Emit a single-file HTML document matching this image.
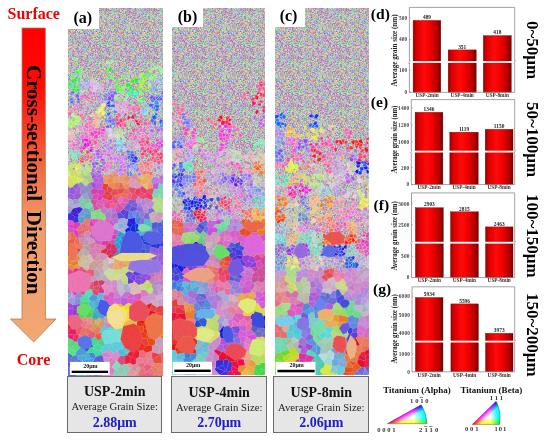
<!DOCTYPE html>
<html><head><meta charset="utf-8"><style>
html,body{margin:0;padding:0;background:#fff;}
body{width:550px;height:441px;position:relative;overflow:hidden;font-family:"Liberation Serif","Times New Roman",serif;}
.a{position:absolute;white-space:nowrap;line-height:1;}
.red{color:#ee0000;font-weight:bold;font-size:16px;}
.vert{writing-mode:vertical-rl;font-weight:bold;}
.box{position:absolute;background:#e6e6e6;border:1.2px solid #6a6a6a;box-sizing:border-box;text-align:center;}
.box .h{position:absolute;left:0;right:0;font-weight:bold;font-size:14px;color:#111;}
.box .g{position:absolute;left:0;right:0;font-size:10.7px;color:#222;}
.box .v{position:absolute;left:0;right:0;font-weight:bold;font-size:14px;color:#2020c8;}
.lbl{position:absolute;background:#fff;}
.lbl span{position:absolute;font-weight:bold;font-size:16px;line-height:1;}
svg text{font-family:"Liberation Serif","Times New Roman",serif;}
.t{font-size:5.3px;text-anchor:end;font-weight:bold;fill:#444;letter-spacing:0.15px;}
.v{font-size:5.4px;text-anchor:middle;font-weight:bold;fill:#222;}
.x{font-size:5.3px;text-anchor:middle;font-weight:bold;fill:#333;}
.yl{font-size:8px;font-weight:bold;fill:#222;}
.sl{font-size:4px;fill:#555;}
.ipf{font-size:6.6px;font-weight:bold;fill:#333;}
.tt{font-size:9px;font-weight:bold;fill:#111;}
.sb{font-size:6px;font-weight:bold;text-anchor:middle;fill:#111;}
</style></head><body>
<svg width="550" height="441" style="position:absolute;left:0;top:0">
<defs>
<linearGradient id="arr" x1="0" y1="28" x2="0" y2="342" gradientUnits="userSpaceOnUse">
<stop offset="0" stop-color="#ff0000"/><stop offset="0.18" stop-color="#ff0a05"/><stop offset="0.45" stop-color="#f36a40"/><stop offset="0.62" stop-color="#f09a68"/><stop offset="1" stop-color="#f2a874"/>
</linearGradient>
<linearGradient id="bg" x1="0" y1="0" x2="1" y2="0">
<stop offset="0" stop-color="#9a0000"/><stop offset="0.12" stop-color="#d80000"/><stop offset="0.4" stop-color="#ff0a0a"/><stop offset="0.6" stop-color="#f20000"/><stop offset="0.85" stop-color="#b80000"/><stop offset="1" stop-color="#7a0000"/>
</linearGradient>
<linearGradient id="ipfa" x1="0" y1="0" x2="1" y2="0"><stop offset="0" stop-color="#ff0000"/><stop offset="1" stop-color="#00ff00"/></linearGradient>
</defs>
<path d="M22 28 H45.4 V319 H56 L33.7 342 L10.5 319 H22 Z" fill="url(#arr)" stroke="#b87a52" stroke-width="0.8"/>
<rect x="413.1" y="20.4" width="27.7" height="71.9" fill="url(#bg)" stroke="#700000" stroke-width="0.35"/>
<text x="427.0" y="19.1" class="v">489</text>
<rect x="448.2" y="49.9" width="28.0" height="42.4" fill="url(#bg)" stroke="#700000" stroke-width="0.35"/>
<text x="462.2" y="48.6" class="v">351</text>
<rect x="483.3" y="35.6" width="28.0" height="56.7" fill="url(#bg)" stroke="#700000" stroke-width="0.35"/>
<text x="497.3" y="34.3" class="v">418</text>
<rect x="408.4" y="61.1" width="107.3" height="1.8" fill="#fff"/>
<path d="M409.4 7.4H514.7V61.1M514.7 62.9V92.3H409.4V62.9M409.4 61.1V7.4" fill="none" stroke="#8a8a8a" stroke-width="0.8"/>
<line x1="408.5" y1="63.6" x2="410.29999999999995" y2="60.4" stroke="#666" stroke-width="0.5"/>
<line x1="513.8000000000001" y1="63.6" x2="515.6" y2="60.4" stroke="#666" stroke-width="0.5"/>
<line x1="409.4" y1="17.9" x2="410.79999999999995" y2="17.9" stroke="#777" stroke-width="0.5"/>
<text x="407.4" y="19.7" class="t">500</text>
<line x1="409.4" y1="39.5" x2="410.79999999999995" y2="39.5" stroke="#777" stroke-width="0.5"/>
<text x="407.4" y="41.3" class="t">400</text>
<line x1="409.4" y1="70.3" x2="410.79999999999995" y2="70.3" stroke="#777" stroke-width="0.5"/>
<text x="407.4" y="72.1" class="t">100</text>
<line x1="409.4" y1="92.3" x2="410.79999999999995" y2="92.3" stroke="#777" stroke-width="0.5"/>
<text x="407.4" y="94.1" class="t">0</text>
<text x="427.0" y="97.0" class="x">USP-2min</text>
<text x="462.2" y="97.0" class="x">USP-4min</text>
<text x="497.3" y="97.0" class="x">USP-8min</text>
<text transform="translate(397 50.4) rotate(-90)" class="yl" x="-36.0" y="0" textLength="72" lengthAdjust="spacingAndGlyphs">Average grain size (nm)</text>
<rect x="415.1" y="112.3" width="27.8" height="72.3" fill="url(#bg)" stroke="#700000" stroke-width="0.35"/>
<text x="429.0" y="111.0" class="v">1346</text>
<rect x="449.8" y="132.2" width="28.4" height="52.4" fill="url(#bg)" stroke="#700000" stroke-width="0.35"/>
<text x="464.0" y="130.9" class="v">1119</text>
<rect x="485.2" y="129.3" width="27.8" height="55.3" fill="url(#bg)" stroke="#700000" stroke-width="0.35"/>
<text x="499.1" y="128.0" class="v">1150</text>
<rect x="410.3" y="150.7" width="105.4" height="1.8" fill="#fff"/>
<path d="M411.3 99.6H514.7V150.7M514.7 152.5V184.6H411.3V152.5M411.3 150.7V99.6" fill="none" stroke="#8a8a8a" stroke-width="0.8"/>
<line x1="410.40000000000003" y1="153.2" x2="412.2" y2="150.0" stroke="#666" stroke-width="0.5"/>
<line x1="513.8000000000001" y1="153.2" x2="515.6" y2="150.0" stroke="#666" stroke-width="0.5"/>
<line x1="411.3" y1="107.9" x2="412.7" y2="107.9" stroke="#777" stroke-width="0.5"/>
<text x="409.3" y="109.7" class="t">1400</text>
<line x1="411.3" y1="125" x2="412.7" y2="125" stroke="#777" stroke-width="0.5"/>
<text x="409.3" y="126.8" class="t">1200</text>
<line x1="411.3" y1="142" x2="412.7" y2="142" stroke="#777" stroke-width="0.5"/>
<text x="409.3" y="143.8" class="t">1000</text>
<line x1="411.3" y1="167.7" x2="412.7" y2="167.7" stroke="#777" stroke-width="0.5"/>
<text x="409.3" y="169.5" class="t">200</text>
<line x1="411.3" y1="184.6" x2="412.7" y2="184.6" stroke="#777" stroke-width="0.5"/>
<text x="409.3" y="186.4" class="t">0</text>
<text x="429.0" y="189.3" class="x">USP-2min</text>
<text x="464.0" y="189.3" class="x">USP-4min</text>
<text x="499.1" y="189.3" class="x">USP-8min</text>
<text transform="translate(397 139.5) rotate(-90)" class="yl" x="-33.7" y="0" textLength="67.4" lengthAdjust="spacingAndGlyphs">Average grain size (nm)</text>
<rect x="415.4" y="207.7" width="27.9" height="69.9" fill="url(#bg)" stroke="#700000" stroke-width="0.35"/>
<text x="429.4" y="206.4" class="v">2903</text>
<rect x="450.5" y="211.8" width="27.9" height="65.8" fill="url(#bg)" stroke="#700000" stroke-width="0.35"/>
<text x="464.4" y="210.5" class="v">2815</text>
<rect x="485.5" y="226.9" width="27.5" height="50.7" fill="url(#bg)" stroke="#700000" stroke-width="0.35"/>
<text x="499.2" y="225.6" class="v">2463</text>
<rect x="410.5" y="241.8" width="105.2" height="1.8" fill="#fff"/>
<path d="M411.5 192.9H514.7V241.8M514.7 243.6V277.6H411.5V243.6M411.5 241.8V192.9" fill="none" stroke="#8a8a8a" stroke-width="0.8"/>
<line x1="410.6" y1="244.3" x2="412.4" y2="241.1" stroke="#666" stroke-width="0.5"/>
<line x1="513.8000000000001" y1="244.3" x2="515.6" y2="241.1" stroke="#666" stroke-width="0.5"/>
<line x1="411.5" y1="203.8" x2="412.9" y2="203.8" stroke="#777" stroke-width="0.5"/>
<text x="409.5" y="205.6" class="t">3000</text>
<line x1="411.5" y1="224.7" x2="412.9" y2="224.7" stroke="#777" stroke-width="0.5"/>
<text x="409.5" y="226.5" class="t">2500</text>
<line x1="411.5" y1="256.4" x2="412.9" y2="256.4" stroke="#777" stroke-width="0.5"/>
<text x="409.5" y="258.2" class="t">500</text>
<line x1="411.5" y1="277.6" x2="412.9" y2="277.6" stroke="#777" stroke-width="0.5"/>
<text x="409.5" y="279.4" class="t">0</text>
<text x="429.4" y="282.3" class="x">USP-2min</text>
<text x="464.4" y="282.3" class="x">USP-4min</text>
<text x="499.2" y="282.3" class="x">USP-8min</text>
<text transform="translate(397 235.9) rotate(-90)" class="yl" x="-34.7" y="0" textLength="69.4" lengthAdjust="spacingAndGlyphs">Average grain size (nm)</text>
<rect x="415.4" y="297.5" width="27.6" height="74.3" fill="url(#bg)" stroke="#700000" stroke-width="0.35"/>
<text x="429.2" y="296.2" class="v">5934</text>
<rect x="450.9" y="303.9" width="27.5" height="67.9" fill="url(#bg)" stroke="#700000" stroke-width="0.35"/>
<text x="464.6" y="302.6" class="v">5596</text>
<rect x="485.5" y="333.3" width="27.5" height="38.5" fill="url(#bg)" stroke="#700000" stroke-width="0.35"/>
<text x="499.2" y="332.0" class="v">3973</text>
<rect x="411" y="340.7" width="104.7" height="1.8" fill="#fff"/>
<path d="M412 286.8H514.7V340.7M514.7 342.5V371.8H412V342.5M412 340.7V286.8" fill="none" stroke="#8a8a8a" stroke-width="0.8"/>
<line x1="411.1" y1="343.2" x2="412.9" y2="340.0" stroke="#666" stroke-width="0.5"/>
<line x1="513.8000000000001" y1="343.2" x2="515.6" y2="340.0" stroke="#666" stroke-width="0.5"/>
<line x1="412" y1="296.3" x2="413.4" y2="296.3" stroke="#777" stroke-width="0.5"/>
<text x="410.0" y="298.1" class="t">6000</text>
<line x1="412" y1="314.7" x2="413.4" y2="314.7" stroke="#777" stroke-width="0.5"/>
<text x="410.0" y="316.5" class="t">5000</text>
<line x1="412" y1="333.3" x2="413.4" y2="333.3" stroke="#777" stroke-width="0.5"/>
<text x="410.0" y="335.1" class="t">4000</text>
<line x1="412" y1="353.7" x2="413.4" y2="353.7" stroke="#777" stroke-width="0.5"/>
<text x="410.0" y="355.5" class="t">1000</text>
<line x1="412" y1="371.8" x2="413.4" y2="371.8" stroke="#777" stroke-width="0.5"/>
<text x="410.0" y="373.6" class="t">0</text>
<text x="429.2" y="376.6" class="x">USP-2min</text>
<text x="464.6" y="376.6" class="x">USP-4min</text>
<text x="499.2" y="376.6" class="x">USP-8min</text>
<text transform="translate(397 328.9) rotate(-90)" class="yl" x="-34.7" y="0" textLength="69.4" lengthAdjust="spacingAndGlyphs">Average grain size (nm)</text>
</svg>
<svg width="550" height="441" style="position:absolute;left:0;top:0;filter:blur(0.45px)">
<defs><pattern id="nz" width="48" height="48" patternUnits="userSpaceOnUse"><path d="M0 0h1v1h-1zM29 0h1v1h-1zM28 1h1v1h-1zM10 2h1v1h-1zM19 2h1v1h-1zM24 3h1v1h-1zM45 3h1v1h-1zM40 6h1v1h-1zM20 7h1v1h-1zM42 7h1v1h-1zM3 8h1v1h-1zM7 8h1v1h-1zM1 9h1v1h-1zM42 9h1v1h-1zM37 10h1v1h-1zM45 10h1v1h-1zM14 13h1v1h-1zM47 13h1v1h-1zM15 19h1v1h-1zM18 19h1v1h-1zM31 20h1v1h-1zM32 21h1v1h-1zM36 21h1v1h-1zM1 23h1v1h-1zM28 23h1v1h-1zM27 25h1v1h-1zM4 27h1v1h-1zM6 28h1v1h-1zM29 28h1v1h-1zM7 30h1v1h-1zM40 31h1v1h-1zM36 32h1v1h-1zM17 34h1v1h-1zM39 34h1v1h-1zM40 34h1v1h-1zM43 38h1v1h-1zM41 39h1v1h-1zM8 43h1v1h-1zM32 43h1v1h-1zM1 44h1v1h-1zM13 44h1v1h-1zM42 44h1v1h-1zM25 46h1v1h-1zM0 47h1v1h-1z" fill="#89d"/><path d="M1 0h1v1h-1zM44 0h1v1h-1zM1 1h1v1h-1zM5 1h1v1h-1zM21 1h1v1h-1zM35 1h1v1h-1zM25 2h1v1h-1zM3 4h1v1h-1zM12 6h1v1h-1zM28 8h1v1h-1zM7 9h1v1h-1zM11 9h1v1h-1zM30 9h1v1h-1zM32 10h1v1h-1zM39 10h1v1h-1zM30 12h1v1h-1zM40 13h1v1h-1zM12 15h1v1h-1zM26 15h1v1h-1zM32 16h1v1h-1zM37 20h1v1h-1zM42 20h1v1h-1zM26 21h1v1h-1zM45 21h1v1h-1zM9 22h1v1h-1zM14 22h1v1h-1zM39 23h1v1h-1zM1 24h1v1h-1zM19 25h1v1h-1zM23 29h1v1h-1zM39 29h1v1h-1zM19 32h1v1h-1zM35 32h1v1h-1zM10 35h1v1h-1zM22 35h1v1h-1zM31 36h1v1h-1zM37 36h1v1h-1zM8 37h1v1h-1zM46 37h1v1h-1zM29 38h1v1h-1zM31 43h1v1h-1zM34 43h1v1h-1zM8 45h1v1h-1zM31 45h1v1h-1zM28 46h1v1h-1zM14 47h1v1h-1z" fill="#d88"/><path d="M2 0h1v1h-1zM33 0h1v1h-1zM46 0h1v1h-1zM40 1h1v1h-1zM2 6h1v1h-1zM25 7h1v1h-1zM27 8h1v1h-1zM31 8h1v1h-1zM5 9h1v1h-1zM34 11h1v1h-1zM36 14h1v1h-1zM37 15h1v1h-1zM41 17h1v1h-1zM42 17h1v1h-1zM32 19h1v1h-1zM41 20h1v1h-1zM17 22h1v1h-1zM11 24h1v1h-1zM17 24h1v1h-1zM1 25h1v1h-1zM46 25h1v1h-1zM42 26h1v1h-1zM34 27h1v1h-1zM1 29h1v1h-1zM28 29h1v1h-1zM18 30h1v1h-1zM6 31h1v1h-1zM26 32h1v1h-1zM27 35h1v1h-1zM33 37h1v1h-1zM5 39h1v1h-1zM37 39h1v1h-1zM32 41h1v1h-1zM38 41h1v1h-1zM16 43h1v1h-1zM22 45h1v1h-1zM40 46h1v1h-1zM29 47h1v1h-1z" fill="#a8d"/><path d="M3 0h1v1h-1zM12 1h1v1h-1zM3 7h1v1h-1zM5 18h1v1h-1zM28 21h1v1h-1zM29 22h1v1h-1zM15 31h1v1h-1zM36 33h1v1h-1zM37 33h1v1h-1zM44 33h1v1h-1zM0 39h1v1h-1zM24 39h1v1h-1zM40 47h1v1h-1z" fill="#78d"/><path d="M4 0h1v1h-1zM34 0h1v1h-1zM1 26h1v1h-1zM26 33h1v1h-1zM34 40h1v1h-1z" fill="#9ca"/><path d="M5 0h1v1h-1zM43 4h1v1h-1zM17 5h1v1h-1zM41 10h1v1h-1zM44 13h1v1h-1zM14 14h1v1h-1zM34 15h1v1h-1zM25 18h1v1h-1zM26 18h1v1h-1zM28 25h1v1h-1zM42 27h1v1h-1zM9 28h1v1h-1zM42 32h1v1h-1zM15 35h1v1h-1zM11 37h1v1h-1zM18 37h1v1h-1zM32 37h1v1h-1zM3 39h1v1h-1zM16 39h1v1h-1zM32 40h1v1h-1zM37 42h1v1h-1zM22 43h1v1h-1zM39 43h1v1h-1zM24 46h1v1h-1zM24 47h1v1h-1z" fill="#dab"/><path d="M6 0h1v1h-1zM38 4h1v1h-1zM12 11h1v1h-1zM29 14h1v1h-1zM36 16h1v1h-1zM25 17h1v1h-1zM20 23h1v1h-1zM23 23h1v1h-1zM41 24h1v1h-1zM19 28h1v1h-1zM37 28h1v1h-1zM1 32h1v1h-1zM14 40h1v1h-1zM14 43h1v1h-1zM22 44h1v1h-1zM17 47h1v1h-1z" fill="#db8"/><path d="M7 0h1v1h-1zM0 1h1v1h-1zM33 2h1v1h-1zM12 4h1v1h-1zM16 12h1v1h-1zM47 16h1v1h-1zM6 22h1v1h-1zM9 27h1v1h-1zM25 27h1v1h-1zM26 28h1v1h-1zM35 35h1v1h-1zM4 38h1v1h-1zM23 43h1v1h-1z" fill="#dbd"/><path d="M8 0h1v1h-1zM36 17h1v1h-1zM19 19h1v1h-1zM35 23h1v1h-1zM31 25h1v1h-1zM37 34h1v1h-1z" fill="#dcd"/><path d="M9 0h1v1h-1zM10 1h1v1h-1zM30 3h1v1h-1zM11 4h1v1h-1zM44 5h1v1h-1zM47 6h1v1h-1zM44 7h1v1h-1zM35 12h1v1h-1zM38 15h1v1h-1zM24 19h1v1h-1zM9 25h1v1h-1zM36 34h1v1h-1zM22 36h1v1h-1zM4 37h1v1h-1zM12 47h1v1h-1z" fill="#a7d"/><path d="M10 0h1v1h-1zM0 10h1v1h-1zM9 24h1v1h-1zM9 35h1v1h-1z" fill="#d7d"/><path d="M11 0h1v1h-1zM23 0h1v1h-1zM29 1h1v1h-1zM30 1h1v1h-1zM43 2h1v1h-1zM12 3h1v1h-1zM18 5h1v1h-1zM26 5h1v1h-1zM43 5h1v1h-1zM13 7h1v1h-1zM5 8h1v1h-1zM1 10h1v1h-1zM15 10h1v1h-1zM20 11h1v1h-1zM21 11h1v1h-1zM29 11h1v1h-1zM38 11h1v1h-1zM2 12h1v1h-1zM8 12h1v1h-1zM37 12h1v1h-1zM8 14h1v1h-1zM43 15h1v1h-1zM10 16h1v1h-1zM28 16h1v1h-1zM16 17h1v1h-1zM19 18h1v1h-1zM18 22h1v1h-1zM36 22h1v1h-1zM2 23h1v1h-1zM18 23h1v1h-1zM26 24h1v1h-1zM18 25h1v1h-1zM26 25h1v1h-1zM18 26h1v1h-1zM23 27h1v1h-1zM8 28h1v1h-1zM31 31h1v1h-1zM20 32h1v1h-1zM38 32h1v1h-1zM44 38h1v1h-1zM19 39h1v1h-1zM13 41h1v1h-1zM34 41h1v1h-1zM19 42h1v1h-1zM30 42h1v1h-1zM40 42h1v1h-1zM1 46h1v1h-1zM14 46h1v1h-1zM4 47h1v1h-1zM9 47h1v1h-1zM34 47h1v1h-1zM35 47h1v1h-1z" fill="#d89"/><path d="M12 0h1v1h-1zM32 2h1v1h-1zM18 6h1v1h-1zM6 9h1v1h-1zM44 10h1v1h-1zM20 13h1v1h-1zM1 14h1v1h-1zM0 16h1v1h-1zM9 18h1v1h-1zM39 18h1v1h-1zM47 19h1v1h-1zM27 20h1v1h-1zM39 20h1v1h-1zM16 22h1v1h-1zM27 23h1v1h-1zM47 23h1v1h-1zM2 27h1v1h-1zM47 27h1v1h-1zM26 29h1v1h-1zM30 32h1v1h-1zM31 33h1v1h-1zM41 33h1v1h-1zM30 36h1v1h-1zM26 37h1v1h-1zM38 37h1v1h-1zM3 38h1v1h-1zM28 39h1v1h-1zM3 41h1v1h-1zM20 43h1v1h-1zM0 44h1v1h-1zM4 44h1v1h-1zM47 44h1v1h-1zM3 45h1v1h-1zM8 47h1v1h-1z" fill="#8ad"/><path d="M13 0h1v1h-1zM3 9h1v1h-1zM38 14h1v1h-1zM42 19h1v1h-1zM0 33h1v1h-1zM42 33h1v1h-1zM1 34h1v1h-1z" fill="#bdc"/><path d="M14 0h1v1h-1zM24 2h1v1h-1zM17 4h1v1h-1zM1 6h1v1h-1zM11 6h1v1h-1zM23 7h1v1h-1zM28 11h1v1h-1zM15 12h1v1h-1zM41 12h1v1h-1zM17 16h1v1h-1zM24 18h1v1h-1zM5 20h1v1h-1zM26 20h1v1h-1zM47 20h1v1h-1zM12 23h1v1h-1zM20 24h1v1h-1zM31 24h1v1h-1zM44 29h1v1h-1zM22 33h1v1h-1zM16 34h1v1h-1zM30 37h1v1h-1zM12 42h1v1h-1zM26 42h1v1h-1zM36 42h1v1h-1zM9 44h1v1h-1zM26 46h1v1h-1zM31 46h1v1h-1z" fill="#ad9"/><path d="M15 0h1v1h-1zM31 16h1v1h-1zM6 19h1v1h-1zM16 19h1v1h-1zM44 20h1v1h-1zM39 21h1v1h-1zM21 24h1v1h-1zM0 26h1v1h-1zM31 27h1v1h-1zM40 28h1v1h-1zM23 30h1v1h-1zM47 31h1v1h-1zM47 32h1v1h-1zM47 33h1v1h-1zM11 34h1v1h-1zM5 35h1v1h-1zM24 38h1v1h-1zM23 40h1v1h-1zM32 45h1v1h-1z" fill="#ad8"/><path d="M16 0h1v1h-1zM22 1h1v1h-1zM3 2h1v1h-1zM46 3h1v1h-1zM6 4h1v1h-1zM35 5h1v1h-1zM36 6h1v1h-1zM47 7h1v1h-1zM44 8h1v1h-1zM9 10h1v1h-1zM11 10h1v1h-1zM17 14h1v1h-1zM11 17h1v1h-1zM40 17h1v1h-1zM8 18h1v1h-1zM22 20h1v1h-1zM35 20h1v1h-1zM3 22h1v1h-1zM8 22h1v1h-1zM11 23h1v1h-1zM44 23h1v1h-1zM42 24h1v1h-1zM5 26h1v1h-1zM45 27h1v1h-1zM13 28h1v1h-1zM25 29h1v1h-1zM7 33h1v1h-1zM5 34h1v1h-1zM18 34h1v1h-1zM28 35h1v1h-1zM38 35h1v1h-1zM33 36h1v1h-1zM8 38h1v1h-1zM20 38h1v1h-1zM45 40h1v1h-1zM1 41h1v1h-1zM27 41h1v1h-1zM29 42h1v1h-1zM12 43h1v1h-1zM19 47h1v1h-1z" fill="#d99"/><path d="M17 0h1v1h-1zM12 13h1v1h-1zM46 17h1v1h-1zM18 24h1v1h-1zM47 25h1v1h-1z" fill="#8c8"/><path d="M18 0h1v1h-1zM29 2h1v1h-1zM38 3h1v1h-1zM34 6h1v1h-1zM29 7h1v1h-1zM35 8h1v1h-1zM22 9h1v1h-1zM12 12h1v1h-1zM43 13h1v1h-1zM1 18h1v1h-1zM35 18h1v1h-1zM28 19h1v1h-1zM25 22h1v1h-1zM15 24h1v1h-1zM2 26h1v1h-1zM20 26h1v1h-1zM25 28h1v1h-1zM26 31h1v1h-1zM46 31h1v1h-1zM12 36h1v1h-1zM21 37h1v1h-1zM34 39h1v1h-1zM29 40h1v1h-1zM11 42h1v1h-1zM0 43h1v1h-1z" fill="#b9d"/><path d="M19 0h1v1h-1zM3 3h1v1h-1zM22 5h1v1h-1zM35 6h1v1h-1zM45 6h1v1h-1zM46 7h1v1h-1zM0 12h1v1h-1zM19 15h1v1h-1zM45 15h1v1h-1zM14 17h1v1h-1zM19 20h1v1h-1zM30 21h1v1h-1zM13 22h1v1h-1zM20 25h1v1h-1zM24 31h1v1h-1zM23 32h1v1h-1zM21 33h1v1h-1zM2 34h1v1h-1zM44 35h1v1h-1zM19 36h1v1h-1zM44 39h1v1h-1zM25 41h1v1h-1zM39 42h1v1h-1zM13 43h1v1h-1zM26 43h1v1h-1zM26 44h1v1h-1zM7 45h1v1h-1zM33 45h1v1h-1zM32 47h1v1h-1z" fill="#9d8"/><path d="M20 0h1v1h-1zM14 2h1v1h-1zM18 2h1v1h-1zM43 3h1v1h-1zM35 4h1v1h-1zM20 5h1v1h-1zM0 6h1v1h-1zM9 7h1v1h-1zM12 8h1v1h-1zM17 8h1v1h-1zM14 12h1v1h-1zM28 13h1v1h-1zM18 15h1v1h-1zM21 15h1v1h-1zM22 19h1v1h-1zM40 19h1v1h-1zM11 20h1v1h-1zM42 21h1v1h-1zM34 24h1v1h-1zM25 26h1v1h-1zM30 28h1v1h-1zM2 32h1v1h-1zM12 32h1v1h-1zM20 35h1v1h-1zM30 35h1v1h-1zM16 37h1v1h-1zM22 40h1v1h-1zM31 40h1v1h-1zM0 41h1v1h-1zM5 41h1v1h-1zM6 41h1v1h-1zM22 41h1v1h-1zM5 42h1v1h-1zM44 44h1v1h-1zM13 46h1v1h-1zM38 46h1v1h-1z" fill="#8d9"/><path d="M21 0h1v1h-1zM34 1h1v1h-1zM29 4h1v1h-1zM32 5h1v1h-1zM23 9h1v1h-1zM23 12h1v1h-1zM46 12h1v1h-1zM3 17h1v1h-1zM0 18h1v1h-1zM14 18h1v1h-1zM27 18h1v1h-1zM42 25h1v1h-1zM19 27h1v1h-1zM38 29h1v1h-1zM9 30h1v1h-1zM4 31h1v1h-1zM19 33h1v1h-1zM37 41h1v1h-1zM21 42h1v1h-1zM43 47h1v1h-1z" fill="#da9"/><path d="M22 0h1v1h-1zM47 2h1v1h-1zM10 9h1v1h-1zM23 15h1v1h-1zM38 18h1v1h-1zM7 21h1v1h-1zM34 28h1v1h-1zM45 28h1v1h-1zM4 29h1v1h-1zM25 32h1v1h-1zM45 32h1v1h-1zM37 35h1v1h-1zM36 37h1v1h-1zM46 41h1v1h-1zM0 42h1v1h-1z" fill="#d79"/><path d="M24 0h1v1h-1zM13 18h1v1h-1zM11 19h1v1h-1zM24 20h1v1h-1zM46 22h1v1h-1zM15 28h1v1h-1zM12 29h1v1h-1zM32 36h1v1h-1z" fill="#add"/><path d="M25 0h1v1h-1zM42 3h1v1h-1zM16 4h1v1h-1zM47 5h1v1h-1zM28 10h1v1h-1zM43 12h1v1h-1zM29 15h1v1h-1zM3 16h1v1h-1zM12 19h1v1h-1zM17 19h1v1h-1zM47 21h1v1h-1zM25 23h1v1h-1zM45 25h1v1h-1zM17 29h1v1h-1zM2 30h1v1h-1zM46 30h1v1h-1zM14 32h1v1h-1zM40 37h1v1h-1zM25 45h1v1h-1zM21 47h1v1h-1z" fill="#bda"/><path d="M26 0h1v1h-1zM40 0h1v1h-1zM21 6h1v1h-1zM8 7h1v1h-1zM28 7h1v1h-1zM2 8h1v1h-1zM32 9h1v1h-1zM47 9h1v1h-1zM13 15h1v1h-1zM24 15h1v1h-1zM16 16h1v1h-1zM2 22h1v1h-1zM40 22h1v1h-1zM13 25h1v1h-1zM36 25h1v1h-1zM8 26h1v1h-1zM22 26h1v1h-1zM15 33h1v1h-1zM25 34h1v1h-1zM47 35h1v1h-1zM36 36h1v1h-1zM7 39h1v1h-1zM3 42h1v1h-1zM34 44h1v1h-1z" fill="#dac"/><path d="M27 0h1v1h-1zM10 3h1v1h-1zM13 4h1v1h-1zM12 5h1v1h-1zM23 14h1v1h-1zM39 14h1v1h-1zM32 17h1v1h-1zM40 20h1v1h-1zM40 21h1v1h-1zM37 24h1v1h-1zM34 29h1v1h-1z" fill="#d7b"/><path d="M28 0h1v1h-1zM33 3h1v1h-1zM13 6h1v1h-1zM20 8h1v1h-1zM39 8h1v1h-1zM10 10h1v1h-1zM32 14h1v1h-1zM46 23h1v1h-1zM28 30h1v1h-1zM3 32h1v1h-1zM13 36h1v1h-1zM12 37h1v1h-1zM6 39h1v1h-1zM9 41h1v1h-1zM11 41h1v1h-1zM24 41h1v1h-1zM40 41h1v1h-1zM30 44h1v1h-1zM19 45h1v1h-1zM41 45h1v1h-1z" fill="#97d"/><path d="M30 0h1v1h-1zM1 3h1v1h-1zM17 3h1v1h-1zM13 5h1v1h-1zM45 5h1v1h-1zM26 8h1v1h-1zM33 11h1v1h-1zM29 13h1v1h-1zM2 14h1v1h-1zM16 15h1v1h-1zM5 16h1v1h-1zM20 20h1v1h-1zM16 24h1v1h-1zM5 25h1v1h-1zM44 25h1v1h-1zM29 26h1v1h-1zM16 27h1v1h-1zM8 31h1v1h-1zM33 33h1v1h-1zM14 34h1v1h-1zM14 35h1v1h-1zM23 36h1v1h-1zM31 37h1v1h-1zM43 37h1v1h-1zM3 40h1v1h-1zM19 44h1v1h-1zM37 44h1v1h-1z" fill="#99d"/><path d="M31 0h1v1h-1zM20 2h1v1h-1zM46 4h1v1h-1zM36 7h1v1h-1zM9 15h1v1h-1zM25 19h1v1h-1zM30 22h1v1h-1zM26 26h1v1h-1zM15 29h1v1h-1zM40 30h1v1h-1zM44 30h1v1h-1zM39 36h1v1h-1zM16 41h1v1h-1zM27 47h1v1h-1z" fill="#9dc"/><path d="M32 0h1v1h-1zM15 2h1v1h-1zM19 7h1v1h-1zM14 8h1v1h-1zM41 13h1v1h-1zM3 21h1v1h-1zM33 23h1v1h-1zM4 25h1v1h-1zM30 31h1v1h-1zM1 45h1v1h-1z" fill="#dcb"/><path d="M35 0h1v1h-1zM46 1h1v1h-1zM38 5h1v1h-1zM23 13h1v1h-1zM20 15h1v1h-1zM31 18h1v1h-1zM45 22h1v1h-1zM10 32h1v1h-1zM10 33h1v1h-1zM29 33h1v1h-1zM40 33h1v1h-1zM13 39h1v1h-1zM0 40h1v1h-1zM15 42h1v1h-1zM18 42h1v1h-1zM11 45h1v1h-1z" fill="#cda"/><path d="M36 0h1v1h-1zM29 6h1v1h-1zM16 7h1v1h-1zM30 8h1v1h-1zM46 8h1v1h-1zM6 11h1v1h-1zM20 12h1v1h-1zM27 19h1v1h-1zM39 19h1v1h-1zM13 20h1v1h-1zM35 24h1v1h-1zM15 36h1v1h-1zM39 37h1v1h-1zM31 41h1v1h-1zM21 44h1v1h-1zM22 46h1v1h-1zM27 46h1v1h-1z" fill="#cbd"/><path d="M37 0h1v1h-1zM4 1h1v1h-1zM20 1h1v1h-1zM7 7h1v1h-1zM45 7h1v1h-1zM0 8h1v1h-1zM23 8h1v1h-1zM16 10h1v1h-1zM22 11h1v1h-1zM39 11h1v1h-1zM1 12h1v1h-1zM18 12h1v1h-1zM5 19h1v1h-1zM15 20h1v1h-1zM10 21h1v1h-1zM18 21h1v1h-1zM29 23h1v1h-1zM38 23h1v1h-1zM10 25h1v1h-1zM20 29h1v1h-1zM31 29h1v1h-1zM0 30h1v1h-1zM37 31h1v1h-1zM6 35h1v1h-1zM23 37h1v1h-1zM24 43h1v1h-1z" fill="#8bd"/><path d="M38 0h1v1h-1zM16 9h1v1h-1zM10 14h1v1h-1zM43 17h1v1h-1zM23 18h1v1h-1zM8 25h1v1h-1zM25 37h1v1h-1zM30 39h1v1h-1z" fill="#7da"/><path d="M39 0h1v1h-1zM39 1h1v1h-1zM37 2h1v1h-1zM14 3h1v1h-1zM10 6h1v1h-1zM14 6h1v1h-1zM17 7h1v1h-1zM18 7h1v1h-1zM22 7h1v1h-1zM31 7h1v1h-1zM41 7h1v1h-1zM24 8h1v1h-1zM31 10h1v1h-1zM10 11h1v1h-1zM14 11h1v1h-1zM22 14h1v1h-1zM19 16h1v1h-1zM28 18h1v1h-1zM30 19h1v1h-1zM35 22h1v1h-1zM13 23h1v1h-1zM19 23h1v1h-1zM41 25h1v1h-1zM38 31h1v1h-1zM45 31h1v1h-1zM17 32h1v1h-1zM20 33h1v1h-1zM43 35h1v1h-1zM0 36h1v1h-1zM28 37h1v1h-1zM9 40h1v1h-1zM46 43h1v1h-1zM23 44h1v1h-1zM40 45h1v1h-1z" fill="#9ad"/><path d="M41 0h1v1h-1zM35 7h1v1h-1zM34 19h1v1h-1zM4 20h1v1h-1zM33 25h1v1h-1zM36 29h1v1h-1zM16 47h1v1h-1z" fill="#cd8"/><path d="M42 0h1v1h-1zM9 5h1v1h-1zM38 6h1v1h-1zM36 9h1v1h-1zM44 11h1v1h-1zM18 13h1v1h-1zM42 13h1v1h-1zM11 15h1v1h-1zM41 15h1v1h-1zM2 16h1v1h-1zM10 18h1v1h-1zM19 21h1v1h-1zM29 21h1v1h-1zM21 23h1v1h-1zM24 23h1v1h-1zM32 25h1v1h-1zM21 26h1v1h-1zM43 26h1v1h-1zM33 28h1v1h-1zM15 30h1v1h-1zM39 35h1v1h-1zM44 40h1v1h-1zM14 42h1v1h-1zM32 44h1v1h-1z" fill="#8da"/><path d="M43 0h1v1h-1zM13 1h1v1h-1zM36 2h1v1h-1zM21 4h1v1h-1zM11 5h1v1h-1zM17 6h1v1h-1zM37 6h1v1h-1zM44 9h1v1h-1zM43 10h1v1h-1zM40 12h1v1h-1zM46 15h1v1h-1zM22 17h1v1h-1zM34 20h1v1h-1zM16 21h1v1h-1zM22 22h1v1h-1zM22 28h1v1h-1zM9 32h1v1h-1zM35 37h1v1h-1zM46 39h1v1h-1zM21 40h1v1h-1zM36 41h1v1h-1zM27 42h1v1h-1zM45 44h1v1h-1zM44 46h1v1h-1zM42 47h1v1h-1zM47 47h1v1h-1z" fill="#aad"/><path d="M45 0h1v1h-1zM21 2h1v1h-1zM13 3h1v1h-1zM7 4h1v1h-1zM32 4h1v1h-1zM2 5h1v1h-1zM19 5h1v1h-1zM19 6h1v1h-1zM25 8h1v1h-1zM0 9h1v1h-1zM2 9h1v1h-1zM13 10h1v1h-1zM33 10h1v1h-1zM19 11h1v1h-1zM34 12h1v1h-1zM15 13h1v1h-1zM5 14h1v1h-1zM3 20h1v1h-1zM20 21h1v1h-1zM6 25h1v1h-1zM3 27h1v1h-1zM1 33h1v1h-1zM24 33h1v1h-1zM26 35h1v1h-1zM38 36h1v1h-1zM10 38h1v1h-1zM36 38h1v1h-1zM43 40h1v1h-1z" fill="#d8a"/><path d="M47 0h1v1h-1zM10 4h1v1h-1zM23 6h1v1h-1zM0 7h1v1h-1zM33 7h1v1h-1zM15 8h1v1h-1zM0 11h1v1h-1zM35 11h1v1h-1zM41 14h1v1h-1zM33 18h1v1h-1zM25 21h1v1h-1zM25 25h1v1h-1zM36 28h1v1h-1zM21 32h1v1h-1z" fill="#bbd"/><path d="M2 1h1v1h-1zM39 3h1v1h-1zM24 5h1v1h-1zM8 6h1v1h-1zM22 12h1v1h-1zM27 14h1v1h-1zM46 14h1v1h-1zM44 19h1v1h-1zM13 21h1v1h-1zM1 27h1v1h-1zM10 27h1v1h-1zM2 29h1v1h-1zM24 35h1v1h-1zM9 38h1v1h-1zM41 38h1v1h-1zM36 40h1v1h-1zM43 43h1v1h-1zM21 45h1v1h-1zM39 45h1v1h-1zM9 46h1v1h-1z" fill="#d8c"/><path d="M3 1h1v1h-1zM17 2h1v1h-1zM23 10h1v1h-1zM11 11h1v1h-1zM9 12h1v1h-1zM47 12h1v1h-1zM28 20h1v1h-1zM40 23h1v1h-1zM43 27h1v1h-1zM45 29h1v1h-1zM4 30h1v1h-1zM41 36h1v1h-1zM38 38h1v1h-1zM24 42h1v1h-1zM37 43h1v1h-1zM2 44h1v1h-1zM35 46h1v1h-1z" fill="#c8d"/><path d="M6 1h1v1h-1zM18 1h1v1h-1zM26 1h1v1h-1zM40 3h1v1h-1zM28 6h1v1h-1zM16 14h1v1h-1zM3 15h1v1h-1zM35 15h1v1h-1zM40 16h1v1h-1zM15 18h1v1h-1zM27 24h1v1h-1zM30 30h1v1h-1zM33 31h1v1h-1zM38 34h1v1h-1zM5 38h1v1h-1zM21 43h1v1h-1zM20 44h1v1h-1z" fill="#cdb"/><path d="M7 1h1v1h-1zM26 2h1v1h-1zM27 4h1v1h-1zM5 5h1v1h-1zM39 5h1v1h-1zM44 12h1v1h-1zM10 13h1v1h-1zM10 17h1v1h-1zM17 21h1v1h-1zM33 22h1v1h-1zM32 27h1v1h-1zM47 29h1v1h-1zM22 30h1v1h-1zM46 32h1v1h-1zM20 36h1v1h-1zM4 39h1v1h-1zM29 43h1v1h-1zM37 45h1v1h-1z" fill="#bd9"/><path d="M8 1h1v1h-1zM11 1h1v1h-1zM1 2h1v1h-1zM31 5h1v1h-1zM5 11h1v1h-1zM35 13h1v1h-1zM24 17h1v1h-1zM37 18h1v1h-1zM1 22h1v1h-1zM4 23h1v1h-1zM23 24h1v1h-1zM24 25h1v1h-1zM44 34h1v1h-1zM8 36h1v1h-1zM9 39h1v1h-1zM20 39h1v1h-1zM47 41h1v1h-1zM27 43h1v1h-1zM47 43h1v1h-1zM16 45h1v1h-1zM44 47h1v1h-1z" fill="#d9c"/><path d="M9 1h1v1h-1zM14 1h1v1h-1zM31 1h1v1h-1zM22 3h1v1h-1zM34 4h1v1h-1zM37 4h1v1h-1zM15 5h1v1h-1zM2 15h1v1h-1zM32 20h1v1h-1zM1 21h1v1h-1zM33 24h1v1h-1zM12 27h1v1h-1zM6 33h1v1h-1zM17 33h1v1h-1zM46 33h1v1h-1zM42 34h1v1h-1zM0 35h1v1h-1zM47 36h1v1h-1zM47 42h1v1h-1zM18 46h1v1h-1z" fill="#dba"/><path d="M15 1h1v1h-1zM45 2h1v1h-1zM28 4h1v1h-1zM14 5h1v1h-1zM32 6h1v1h-1zM14 9h1v1h-1zM28 9h1v1h-1zM7 12h1v1h-1zM11 12h1v1h-1zM25 13h1v1h-1zM3 14h1v1h-1zM7 16h1v1h-1zM29 16h1v1h-1zM2 17h1v1h-1zM6 18h1v1h-1zM9 21h1v1h-1zM38 21h1v1h-1zM0 22h1v1h-1zM5 22h1v1h-1zM39 24h1v1h-1zM47 24h1v1h-1zM36 27h1v1h-1zM11 31h1v1h-1zM0 34h1v1h-1zM47 38h1v1h-1zM26 39h1v1h-1zM8 42h1v1h-1zM35 42h1v1h-1zM6 44h1v1h-1zM6 45h1v1h-1zM10 45h1v1h-1zM13 45h1v1h-1zM47 45h1v1h-1zM32 46h1v1h-1z" fill="#ada"/><path d="M16 1h1v1h-1zM32 1h1v1h-1zM44 1h1v1h-1zM35 2h1v1h-1zM24 4h1v1h-1zM39 4h1v1h-1zM1 8h1v1h-1zM40 9h1v1h-1zM39 22h1v1h-1zM0 27h1v1h-1zM30 27h1v1h-1zM43 28h1v1h-1zM20 30h1v1h-1zM14 31h1v1h-1zM13 32h1v1h-1zM17 36h1v1h-1zM42 37h1v1h-1zM2 38h1v1h-1zM24 40h1v1h-1zM24 45h1v1h-1z" fill="#d9b"/><path d="M17 1h1v1h-1zM29 3h1v1h-1zM9 9h1v1h-1zM33 9h1v1h-1zM31 11h1v1h-1zM23 16h1v1h-1zM18 17h1v1h-1zM26 27h1v1h-1zM3 37h1v1h-1zM31 38h1v1h-1zM38 40h1v1h-1zM10 46h1v1h-1z" fill="#c7d"/><path d="M19 1h1v1h-1zM27 1h1v1h-1zM42 2h1v1h-1zM45 9h1v1h-1zM46 9h1v1h-1zM32 13h1v1h-1zM46 13h1v1h-1zM33 15h1v1h-1zM30 16h1v1h-1zM38 16h1v1h-1zM15 17h1v1h-1zM12 18h1v1h-1zM31 22h1v1h-1zM32 23h1v1h-1zM43 23h1v1h-1zM34 25h1v1h-1zM21 29h1v1h-1zM1 31h1v1h-1zM10 31h1v1h-1zM25 31h1v1h-1zM34 34h1v1h-1zM21 36h1v1h-1zM37 37h1v1h-1zM7 40h1v1h-1zM10 42h1v1h-1zM7 44h1v1h-1zM1 47h1v1h-1z" fill="#daa"/><path d="M23 1h1v1h-1zM19 4h1v1h-1zM16 6h1v1h-1zM39 6h1v1h-1zM37 7h1v1h-1zM21 8h1v1h-1zM4 19h1v1h-1zM45 19h1v1h-1zM34 31h1v1h-1zM30 34h1v1h-1zM46 38h1v1h-1zM4 40h1v1h-1zM1 43h1v1h-1zM45 43h1v1h-1z" fill="#dc8"/><path d="M24 1h1v1h-1zM38 1h1v1h-1zM27 3h1v1h-1zM30 4h1v1h-1zM30 6h1v1h-1zM16 8h1v1h-1zM21 10h1v1h-1zM2 11h1v1h-1zM36 19h1v1h-1zM41 21h1v1h-1zM14 23h1v1h-1zM35 26h1v1h-1zM11 27h1v1h-1zM40 27h1v1h-1zM13 31h1v1h-1zM12 38h1v1h-1zM30 38h1v1h-1zM12 39h1v1h-1zM41 40h1v1h-1zM2 41h1v1h-1zM44 41h1v1h-1zM17 43h1v1h-1zM36 44h1v1h-1z" fill="#a9d"/><path d="M25 1h1v1h-1zM1 13h1v1h-1zM10 15h1v1h-1zM45 30h1v1h-1zM18 36h1v1h-1zM25 39h1v1h-1zM15 46h1v1h-1z" fill="#7d9"/><path d="M33 1h1v1h-1zM23 5h1v1h-1zM6 8h1v1h-1zM13 11h1v1h-1zM19 14h1v1h-1zM25 20h1v1h-1zM0 23h1v1h-1zM27 27h1v1h-1zM39 31h1v1h-1zM37 32h1v1h-1zM33 35h1v1h-1zM3 36h1v1h-1zM14 38h1v1h-1zM45 42h1v1h-1zM5 43h1v1h-1zM36 45h1v1h-1z" fill="#8cd"/><path d="M36 1h1v1h-1zM18 4h1v1h-1zM3 11h1v1h-1zM13 12h1v1h-1zM30 26h1v1h-1zM3 31h1v1h-1zM38 33h1v1h-1zM22 37h1v1h-1zM32 42h1v1h-1z" fill="#7cd"/><path d="M37 1h1v1h-1zM36 5h1v1h-1zM13 8h1v1h-1zM13 14h1v1h-1zM33 19h1v1h-1zM19 24h1v1h-1zM29 25h1v1h-1zM39 25h1v1h-1zM0 28h1v1h-1zM39 28h1v1h-1zM43 29h1v1h-1zM16 30h1v1h-1zM25 30h1v1h-1zM2 31h1v1h-1zM0 37h1v1h-1zM15 37h1v1h-1zM13 38h1v1h-1zM45 38h1v1h-1zM26 45h1v1h-1zM18 47h1v1h-1z" fill="#cd9"/><path d="M41 1h1v1h-1zM42 1h1v1h-1zM23 3h1v1h-1zM9 6h1v1h-1zM11 7h1v1h-1zM35 10h1v1h-1zM1 11h1v1h-1zM27 12h1v1h-1zM0 13h1v1h-1zM5 13h1v1h-1zM44 14h1v1h-1zM32 22h1v1h-1zM41 22h1v1h-1zM6 37h1v1h-1zM12 40h1v1h-1zM12 41h1v1h-1zM2 45h1v1h-1zM15 45h1v1h-1zM11 46h1v1h-1z" fill="#adb"/><path d="M43 1h1v1h-1zM47 3h1v1h-1zM40 4h1v1h-1zM4 7h1v1h-1zM32 8h1v1h-1zM4 10h1v1h-1zM7 10h1v1h-1zM18 11h1v1h-1zM5 17h1v1h-1zM30 17h1v1h-1zM35 21h1v1h-1zM26 22h1v1h-1zM24 24h1v1h-1zM46 28h1v1h-1zM21 31h1v1h-1zM15 32h1v1h-1zM7 34h1v1h-1zM31 34h1v1h-1zM46 45h1v1h-1z" fill="#d7a"/><path d="M45 1h1v1h-1zM21 9h1v1h-1zM27 10h1v1h-1zM30 20h1v1h-1zM28 24h1v1h-1zM21 25h1v1h-1zM39 27h1v1h-1zM33 29h1v1h-1zM28 33h1v1h-1zM1 40h1v1h-1zM10 40h1v1h-1zM41 41h1v1h-1zM43 44h1v1h-1zM41 46h1v1h-1z" fill="#dc9"/><path d="M47 1h1v1h-1zM8 2h1v1h-1zM33 5h1v1h-1zM12 9h1v1h-1zM5 10h1v1h-1zM14 10h1v1h-1zM22 10h1v1h-1zM9 11h1v1h-1zM23 11h1v1h-1zM33 12h1v1h-1zM4 16h1v1h-1zM42 16h1v1h-1zM34 17h1v1h-1zM10 20h1v1h-1zM10 22h1v1h-1zM45 23h1v1h-1zM10 24h1v1h-1zM8 27h1v1h-1zM22 32h1v1h-1zM25 33h1v1h-1zM27 34h1v1h-1zM41 34h1v1h-1zM27 39h1v1h-1zM42 39h1v1h-1zM8 40h1v1h-1zM8 41h1v1h-1zM46 46h1v1h-1z" fill="#d78"/><path d="M0 2h1v1h-1zM24 9h1v1h-1zM37 9h1v1h-1zM17 17h1v1h-1zM44 17h1v1h-1zM32 28h1v1h-1zM14 33h1v1h-1zM47 34h1v1h-1zM22 38h1v1h-1zM38 39h1v1h-1zM35 43h1v1h-1zM22 47h1v1h-1zM28 47h1v1h-1z" fill="#dcc"/><path d="M2 2h1v1h-1zM5 6h1v1h-1zM17 9h1v1h-1zM29 9h1v1h-1zM38 9h1v1h-1zM18 14h1v1h-1zM21 14h1v1h-1zM24 14h1v1h-1zM39 15h1v1h-1zM15 16h1v1h-1zM37 19h1v1h-1zM46 19h1v1h-1zM0 25h1v1h-1zM24 26h1v1h-1zM11 28h1v1h-1zM42 28h1v1h-1zM47 28h1v1h-1zM41 29h1v1h-1zM43 30h1v1h-1zM27 31h1v1h-1zM9 33h1v1h-1zM23 33h1v1h-1zM45 34h1v1h-1zM13 35h1v1h-1zM4 36h1v1h-1zM26 36h1v1h-1zM14 37h1v1h-1zM1 39h1v1h-1zM2 39h1v1h-1zM40 40h1v1h-1zM15 41h1v1h-1zM41 42h1v1h-1zM20 46h1v1h-1zM46 47h1v1h-1z" fill="#d98"/><path d="M4 2h1v1h-1zM6 2h1v1h-1zM11 3h1v1h-1zM3 5h1v1h-1zM6 7h1v1h-1zM46 11h1v1h-1zM13 13h1v1h-1zM47 14h1v1h-1zM31 15h1v1h-1zM8 19h1v1h-1zM10 19h1v1h-1zM21 22h1v1h-1zM41 27h1v1h-1zM12 30h1v1h-1zM20 31h1v1h-1zM30 33h1v1h-1zM10 39h1v1h-1zM28 42h1v1h-1zM17 45h1v1h-1zM42 46h1v1h-1z" fill="#b8d"/><path d="M5 2h1v1h-1zM44 2h1v1h-1zM11 13h1v1h-1zM44 15h1v1h-1zM14 16h1v1h-1zM23 20h1v1h-1zM23 22h1v1h-1zM4 24h1v1h-1zM6 24h1v1h-1zM14 25h1v1h-1zM15 25h1v1h-1zM28 26h1v1h-1zM32 26h1v1h-1zM0 29h1v1h-1zM5 29h1v1h-1zM6 29h1v1h-1zM9 31h1v1h-1zM42 36h1v1h-1zM21 39h1v1h-1zM22 42h1v1h-1zM15 44h1v1h-1zM2 47h1v1h-1z" fill="#da8"/><path d="M7 2h1v1h-1zM2 3h1v1h-1zM18 3h1v1h-1zM20 6h1v1h-1zM18 8h1v1h-1zM25 10h1v1h-1zM10 12h1v1h-1zM28 12h1v1h-1zM22 13h1v1h-1zM31 13h1v1h-1zM28 15h1v1h-1zM11 16h1v1h-1zM22 18h1v1h-1zM32 18h1v1h-1zM17 20h1v1h-1zM37 22h1v1h-1zM42 22h1v1h-1zM43 22h1v1h-1zM6 26h1v1h-1zM14 27h1v1h-1zM10 29h1v1h-1zM46 29h1v1h-1zM7 31h1v1h-1zM11 35h1v1h-1zM29 36h1v1h-1zM43 36h1v1h-1zM46 36h1v1h-1zM7 37h1v1h-1zM20 37h1v1h-1zM34 37h1v1h-1zM31 39h1v1h-1zM11 40h1v1h-1zM7 41h1v1h-1zM35 41h1v1h-1zM6 42h1v1h-1zM7 42h1v1h-1zM28 44h1v1h-1zM29 45h1v1h-1zM41 47h1v1h-1z" fill="#8d8"/><path d="M9 2h1v1h-1zM42 4h1v1h-1zM32 12h1v1h-1zM12 20h1v1h-1zM44 21h1v1h-1zM29 29h1v1h-1zM4 32h1v1h-1zM16 32h1v1h-1zM13 33h1v1h-1zM11 39h1v1h-1zM47 39h1v1h-1zM30 40h1v1h-1zM38 44h1v1h-1zM6 47h1v1h-1zM26 47h1v1h-1z" fill="#c9d"/><path d="M11 2h1v1h-1z" fill="#7cb"/><path d="M12 2h1v1h-1zM4 3h1v1h-1zM44 3h1v1h-1zM25 6h1v1h-1zM24 7h1v1h-1zM10 8h1v1h-1zM33 8h1v1h-1zM34 8h1v1h-1zM27 9h1v1h-1zM24 12h1v1h-1zM9 13h1v1h-1zM39 13h1v1h-1zM11 14h1v1h-1zM45 14h1v1h-1zM30 15h1v1h-1zM1 16h1v1h-1zM35 16h1v1h-1zM37 17h1v1h-1zM38 17h1v1h-1zM47 17h1v1h-1zM44 18h1v1h-1zM14 20h1v1h-1zM47 22h1v1h-1zM44 24h1v1h-1zM22 25h1v1h-1zM40 25h1v1h-1zM20 27h1v1h-1zM22 27h1v1h-1zM18 29h1v1h-1zM5 30h1v1h-1zM21 30h1v1h-1zM31 32h1v1h-1zM11 33h1v1h-1zM32 33h1v1h-1zM39 33h1v1h-1zM2 37h1v1h-1zM35 38h1v1h-1zM37 38h1v1h-1zM17 41h1v1h-1zM19 41h1v1h-1zM31 42h1v1h-1zM10 43h1v1h-1zM15 43h1v1h-1zM41 43h1v1h-1zM42 43h1v1h-1zM18 44h1v1h-1zM0 45h1v1h-1zM4 45h1v1h-1zM9 45h1v1h-1zM20 45h1v1h-1zM45 45h1v1h-1zM4 46h1v1h-1zM5 46h1v1h-1zM37 46h1v1h-1z" fill="#88d"/><path d="M13 2h1v1h-1zM8 8h1v1h-1zM38 8h1v1h-1zM18 9h1v1h-1zM37 14h1v1h-1zM42 14h1v1h-1zM27 16h1v1h-1zM12 17h1v1h-1zM7 23h1v1h-1zM8 24h1v1h-1zM43 25h1v1h-1zM5 28h1v1h-1zM30 29h1v1h-1zM24 32h1v1h-1zM14 39h1v1h-1zM15 40h1v1h-1zM9 43h1v1h-1zM3 46h1v1h-1zM34 46h1v1h-1z" fill="#9cd"/><path d="M16 2h1v1h-1zM25 3h1v1h-1zM47 4h1v1h-1zM30 5h1v1h-1zM36 12h1v1h-1zM5 27h1v1h-1zM6 43h1v1h-1z" fill="#d7c"/><path d="M22 2h1v1h-1zM6 6h1v1h-1zM1 7h1v1h-1zM41 8h1v1h-1zM36 10h1v1h-1zM6 12h1v1h-1zM34 14h1v1h-1zM14 15h1v1h-1zM6 16h1v1h-1zM12 16h1v1h-1zM26 23h1v1h-1zM34 35h1v1h-1zM18 38h1v1h-1zM32 38h1v1h-1zM21 41h1v1h-1zM40 43h1v1h-1zM36 46h1v1h-1zM23 47h1v1h-1z" fill="#cad"/><path d="M23 2h1v1h-1zM14 7h1v1h-1zM34 7h1v1h-1zM19 9h1v1h-1zM17 10h1v1h-1zM15 11h1v1h-1zM4 12h1v1h-1zM25 15h1v1h-1zM45 16h1v1h-1zM9 20h1v1h-1zM16 20h1v1h-1zM38 22h1v1h-1zM16 25h1v1h-1zM29 27h1v1h-1zM17 28h1v1h-1zM10 30h1v1h-1zM28 32h1v1h-1zM12 35h1v1h-1zM19 37h1v1h-1zM0 38h1v1h-1zM29 39h1v1h-1zM2 43h1v1h-1zM18 43h1v1h-1zM7 46h1v1h-1zM43 46h1v1h-1zM11 47h1v1h-1z" fill="#9da"/><path d="M27 2h1v1h-1zM8 4h1v1h-1zM25 11h1v1h-1zM45 11h1v1h-1zM2 13h1v1h-1zM7 15h1v1h-1zM26 17h1v1h-1zM34 18h1v1h-1zM7 24h1v1h-1zM38 28h1v1h-1zM37 29h1v1h-1zM33 30h1v1h-1zM38 30h1v1h-1zM18 35h1v1h-1z" fill="#9d7"/><path d="M28 2h1v1h-1zM21 5h1v1h-1zM15 6h1v1h-1zM22 8h1v1h-1zM42 11h1v1h-1zM19 12h1v1h-1zM1 15h1v1h-1zM29 20h1v1h-1zM31 26h1v1h-1zM33 26h1v1h-1zM39 26h1v1h-1zM32 29h1v1h-1zM11 30h1v1h-1zM43 34h1v1h-1zM29 35h1v1h-1zM15 38h1v1h-1zM21 38h1v1h-1zM34 45h1v1h-1z" fill="#8dc"/><path d="M30 2h1v1h-1zM45 4h1v1h-1zM5 7h1v1h-1zM40 14h1v1h-1zM42 15h1v1h-1zM17 18h1v1h-1zM18 18h1v1h-1zM42 18h1v1h-1zM15 23h1v1h-1zM29 24h1v1h-1zM43 24h1v1h-1zM42 31h1v1h-1zM13 34h1v1h-1zM14 36h1v1h-1zM35 36h1v1h-1zM33 42h1v1h-1z" fill="#d9d"/><path d="M31 2h1v1h-1zM19 8h1v1h-1zM36 8h1v1h-1zM34 10h1v1h-1zM21 12h1v1h-1zM7 13h1v1h-1zM17 15h1v1h-1zM26 16h1v1h-1zM9 17h1v1h-1zM28 17h1v1h-1zM39 17h1v1h-1zM20 19h1v1h-1zM18 20h1v1h-1zM4 21h1v1h-1zM24 21h1v1h-1zM46 21h1v1h-1zM11 26h1v1h-1zM27 28h1v1h-1zM22 29h1v1h-1zM11 36h1v1h-1zM40 36h1v1h-1zM39 38h1v1h-1zM18 40h1v1h-1zM9 42h1v1h-1zM20 42h1v1h-1zM10 44h1v1h-1zM40 44h1v1h-1zM12 45h1v1h-1zM8 46h1v1h-1zM33 46h1v1h-1zM39 47h1v1h-1z" fill="#9d9"/><path d="M34 2h1v1h-1zM28 5h1v1h-1zM31 9h1v1h-1zM8 10h1v1h-1zM18 10h1v1h-1zM32 11h1v1h-1zM25 12h1v1h-1zM46 16h1v1h-1zM45 17h1v1h-1zM36 18h1v1h-1zM45 18h1v1h-1zM9 19h1v1h-1zM36 20h1v1h-1zM15 22h1v1h-1zM47 26h1v1h-1zM35 30h1v1h-1zM27 33h1v1h-1zM3 35h1v1h-1zM42 35h1v1h-1zM39 41h1v1h-1zM23 45h1v1h-1zM0 46h1v1h-1zM30 47h1v1h-1z" fill="#d8d"/><path d="M38 2h1v1h-1zM16 3h1v1h-1zM33 4h1v1h-1zM16 5h1v1h-1zM25 5h1v1h-1zM41 5h1v1h-1zM42 5h1v1h-1zM22 6h1v1h-1zM26 7h1v1h-1zM32 7h1v1h-1zM34 9h1v1h-1zM47 10h1v1h-1zM40 11h1v1h-1zM39 12h1v1h-1zM34 13h1v1h-1zM9 14h1v1h-1zM36 15h1v1h-1zM29 17h1v1h-1zM6 20h1v1h-1zM40 26h1v1h-1zM18 27h1v1h-1zM2 28h1v1h-1zM24 28h1v1h-1zM9 29h1v1h-1zM14 29h1v1h-1zM18 31h1v1h-1zM12 33h1v1h-1zM34 33h1v1h-1zM34 36h1v1h-1zM40 38h1v1h-1zM5 40h1v1h-1zM17 40h1v1h-1zM35 40h1v1h-1zM34 42h1v1h-1zM42 42h1v1h-1zM41 44h1v1h-1z" fill="#d9a"/><path d="M39 2h1v1h-1zM29 18h1v1h-1zM27 40h1v1h-1z" fill="#acb"/><path d="M40 2h1v1h-1zM0 3h1v1h-1zM26 4h1v1h-1zM27 6h1v1h-1zM15 9h1v1h-1zM17 11h1v1h-1zM6 13h1v1h-1zM45 13h1v1h-1zM24 16h1v1h-1zM41 16h1v1h-1zM41 18h1v1h-1zM30 23h1v1h-1zM14 26h1v1h-1zM27 26h1v1h-1zM13 27h1v1h-1zM23 34h1v1h-1zM40 35h1v1h-1zM13 37h1v1h-1zM42 38h1v1h-1zM28 40h1v1h-1zM33 40h1v1h-1z" fill="#bad"/><path d="M41 2h1v1h-1zM15 7h1v1h-1zM11 8h1v1h-1zM43 9h1v1h-1zM44 28h1v1h-1zM23 31h1v1h-1zM28 31h1v1h-1zM45 36h1v1h-1zM19 43h1v1h-1zM47 46h1v1h-1zM20 47h1v1h-1z" fill="#dd8"/><path d="M46 2h1v1h-1zM46 6h1v1h-1zM16 13h1v1h-1zM0 15h1v1h-1zM4 15h1v1h-1zM6 17h1v1h-1zM31 19h1v1h-1zM22 24h1v1h-1zM12 28h1v1h-1zM32 31h1v1h-1zM6 32h1v1h-1zM6 34h1v1h-1zM46 34h1v1h-1zM13 40h1v1h-1zM42 41h1v1h-1zM8 44h1v1h-1zM19 46h1v1h-1zM30 46h1v1h-1z" fill="#bcd"/><path d="M5 3h1v1h-1zM0 4h1v1h-1zM5 4h1v1h-1zM6 5h1v1h-1zM7 5h1v1h-1zM21 7h1v1h-1zM40 7h1v1h-1zM13 9h1v1h-1zM8 17h1v1h-1zM26 19h1v1h-1zM12 21h1v1h-1zM37 21h1v1h-1zM43 21h1v1h-1zM28 27h1v1h-1zM20 28h1v1h-1zM27 29h1v1h-1zM42 29h1v1h-1zM8 30h1v1h-1zM29 34h1v1h-1zM32 35h1v1h-1zM5 36h1v1h-1zM17 37h1v1h-1zM17 42h1v1h-1zM31 44h1v1h-1z" fill="#acd"/><path d="M6 3h1v1h-1zM31 3h1v1h-1zM34 3h1v1h-1zM20 4h1v1h-1zM42 6h1v1h-1zM3 10h1v1h-1zM37 13h1v1h-1zM43 16h1v1h-1zM25 24h1v1h-1zM4 28h1v1h-1zM47 37h1v1h-1zM27 38h1v1h-1zM39 40h1v1h-1zM7 47h1v1h-1z" fill="#87d"/><path d="M7 3h1v1h-1zM38 13h1v1h-1zM4 18h1v1h-1zM20 22h1v1h-1zM26 38h1v1h-1zM13 42h1v1h-1z" fill="#7bd"/><path d="M8 3h1v1h-1zM20 14h1v1h-1zM3 26h1v1h-1zM33 27h1v1h-1zM24 30h1v1h-1zM44 36h1v1h-1z" fill="#bd7"/><path d="M9 3h1v1h-1zM4 4h1v1h-1zM23 4h1v1h-1zM15 15h1v1h-1zM44 16h1v1h-1zM20 17h1v1h-1zM38 26h1v1h-1zM40 29h1v1h-1zM24 36h1v1h-1zM26 40h1v1h-1zM27 45h1v1h-1z" fill="#dbc"/><path d="M15 3h1v1h-1zM41 4h1v1h-1zM8 5h1v1h-1zM7 6h1v1h-1zM41 11h1v1h-1zM45 12h1v1h-1zM24 13h1v1h-1zM46 18h1v1h-1zM27 22h1v1h-1zM12 24h1v1h-1zM34 26h1v1h-1zM6 27h1v1h-1zM3 28h1v1h-1zM8 32h1v1h-1zM23 39h1v1h-1zM32 39h1v1h-1zM43 41h1v1h-1zM23 42h1v1h-1zM16 44h1v1h-1zM25 44h1v1h-1zM2 46h1v1h-1z" fill="#dbb"/><path d="M19 3h1v1h-1zM36 3h1v1h-1zM38 20h1v1h-1zM44 27h1v1h-1zM3 29h1v1h-1zM45 35h1v1h-1zM2 42h1v1h-1zM5 44h1v1h-1zM28 45h1v1h-1z" fill="#adc"/><path d="M20 3h1v1h-1zM33 6h1v1h-1zM43 7h1v1h-1zM29 8h1v1h-1zM47 8h1v1h-1zM42 12h1v1h-1zM33 17h1v1h-1zM35 17h1v1h-1zM0 21h1v1h-1zM37 26h1v1h-1zM35 29h1v1h-1zM14 30h1v1h-1zM36 30h1v1h-1zM42 30h1v1h-1zM11 32h1v1h-1zM39 32h1v1h-1zM41 32h1v1h-1zM12 34h1v1h-1zM9 37h1v1h-1zM33 39h1v1h-1zM6 40h1v1h-1zM33 43h1v1h-1z" fill="#9bd"/><path d="M21 3h1v1h-1zM10 5h1v1h-1zM46 5h1v1h-1zM7 11h1v1h-1zM17 13h1v1h-1zM4 14h1v1h-1zM7 14h1v1h-1zM35 14h1v1h-1zM1 17h1v1h-1zM7 18h1v1h-1zM43 19h1v1h-1zM7 20h1v1h-1zM11 22h1v1h-1zM17 26h1v1h-1zM32 30h1v1h-1zM7 32h1v1h-1zM16 33h1v1h-1zM28 34h1v1h-1zM4 35h1v1h-1zM6 38h1v1h-1zM17 38h1v1h-1zM38 45h1v1h-1z" fill="#bd8"/><path d="M26 3h1v1h-1zM15 4h1v1h-1zM44 6h1v1h-1zM38 7h1v1h-1zM4 8h1v1h-1zM20 9h1v1h-1zM3 12h1v1h-1zM26 13h1v1h-1zM22 15h1v1h-1zM34 16h1v1h-1zM21 17h1v1h-1zM20 18h1v1h-1zM22 21h1v1h-1zM7 22h1v1h-1zM3 23h1v1h-1zM36 24h1v1h-1zM38 25h1v1h-1zM23 28h1v1h-1zM19 29h1v1h-1zM13 30h1v1h-1zM34 30h1v1h-1zM9 34h1v1h-1zM21 34h1v1h-1zM9 36h1v1h-1zM27 37h1v1h-1zM20 40h1v1h-1zM4 41h1v1h-1zM23 41h1v1h-1zM24 44h1v1h-1zM35 45h1v1h-1zM42 45h1v1h-1zM45 46h1v1h-1z" fill="#d8b"/><path d="M28 3h1v1h-1zM22 4h1v1h-1zM43 6h1v1h-1zM30 10h1v1h-1zM40 10h1v1h-1zM36 13h1v1h-1zM27 17h1v1h-1zM21 18h1v1h-1zM40 18h1v1h-1zM7 19h1v1h-1zM14 19h1v1h-1zM21 21h1v1h-1zM36 23h1v1h-1zM23 25h1v1h-1zM1 28h1v1h-1zM33 32h1v1h-1zM34 32h1v1h-1zM20 34h1v1h-1zM22 34h1v1h-1zM2 35h1v1h-1zM41 37h1v1h-1zM45 37h1v1h-1zM36 39h1v1h-1zM6 46h1v1h-1z" fill="#db9"/><path d="M32 3h1v1h-1zM40 39h1v1h-1z" fill="#acc"/><path d="M35 3h1v1h-1zM41 3h1v1h-1zM40 8h1v1h-1zM43 8h1v1h-1zM3 13h1v1h-1zM37 16h1v1h-1zM7 17h1v1h-1zM13 19h1v1h-1zM11 21h1v1h-1zM19 22h1v1h-1zM41 23h1v1h-1zM5 24h1v1h-1zM30 25h1v1h-1zM16 26h1v1h-1zM16 28h1v1h-1zM10 36h1v1h-1zM5 37h1v1h-1zM16 40h1v1h-1zM25 47h1v1h-1z" fill="#8db"/><path d="M37 3h1v1h-1zM1 5h1v1h-1zM31 6h1v1h-1zM25 14h1v1h-1zM27 15h1v1h-1zM22 16h1v1h-1zM11 18h1v1h-1zM15 21h1v1h-1zM31 21h1v1h-1zM34 21h1v1h-1zM24 22h1v1h-1zM4 26h1v1h-1zM47 30h1v1h-1zM2 36h1v1h-1zM10 37h1v1h-1zM18 39h1v1h-1zM16 42h1v1h-1zM43 42h1v1h-1zM4 43h1v1h-1zM36 43h1v1h-1zM16 46h1v1h-1z" fill="#9db"/><path d="M1 4h1v1h-1zM36 4h1v1h-1zM4 5h1v1h-1zM12 10h1v1h-1zM5 12h1v1h-1zM29 12h1v1h-1zM27 13h1v1h-1zM30 18h1v1h-1zM2 19h1v1h-1zM23 19h1v1h-1zM29 19h1v1h-1zM16 23h1v1h-1zM22 23h1v1h-1zM0 24h1v1h-1zM12 26h1v1h-1zM38 27h1v1h-1zM24 29h1v1h-1zM19 30h1v1h-1zM36 31h1v1h-1zM27 32h1v1h-1zM45 33h1v1h-1zM8 35h1v1h-1zM41 35h1v1h-1zM16 36h1v1h-1zM24 37h1v1h-1zM18 41h1v1h-1zM46 42h1v1h-1zM25 43h1v1h-1zM13 47h1v1h-1z" fill="#98d"/><path d="M2 4h1v1h-1zM44 31h1v1h-1zM24 34h1v1h-1z" fill="#cc8"/><path d="M9 4h1v1h-1zM15 27h1v1h-1zM44 45h1v1h-1z" fill="#7dc"/><path d="M14 4h1v1h-1zM33 16h1v1h-1z" fill="#9c9"/><path d="M25 4h1v1h-1zM4 6h1v1h-1zM41 6h1v1h-1zM24 27h1v1h-1z" fill="#ac8"/><path d="M31 4h1v1h-1zM41 9h1v1h-1zM20 10h1v1h-1z" fill="#9cb"/><path d="M44 4h1v1h-1zM8 9h1v1h-1zM17 23h1v1h-1z" fill="#aca"/><path d="M0 5h1v1h-1zM21 16h1v1h-1zM13 17h1v1h-1zM14 24h1v1h-1zM35 28h1v1h-1zM20 41h1v1h-1zM11 43h1v1h-1zM5 45h1v1h-1z" fill="#bdd"/><path d="M27 5h1v1h-1zM12 7h1v1h-1zM38 19h1v1h-1zM4 33h1v1h-1zM35 34h1v1h-1z" fill="#dc7"/><path d="M29 5h1v1h-1zM19 17h1v1h-1z" fill="#bc9"/><path d="M34 5h1v1h-1zM5 32h1v1h-1zM28 38h1v1h-1zM28 41h1v1h-1z" fill="#bc8"/><path d="M37 5h1v1h-1zM10 7h1v1h-1zM30 7h1v1h-1zM37 8h1v1h-1zM42 8h1v1h-1zM31 17h1v1h-1zM3 18h1v1h-1zM16 18h1v1h-1zM17 30h1v1h-1zM29 30h1v1h-1zM31 30h1v1h-1zM32 32h1v1h-1zM32 34h1v1h-1zM46 40h1v1h-1zM11 44h1v1h-1zM23 46h1v1h-1z" fill="#bdb"/><path d="M40 5h1v1h-1zM30 11h1v1h-1zM47 11h1v1h-1zM31 14h1v1h-1zM27 21h1v1h-1zM28 22h1v1h-1zM18 45h1v1h-1z" fill="#8cb"/><path d="M3 6h1v1h-1zM27 7h1v1h-1zM20 16h1v1h-1zM37 23h1v1h-1zM1 30h1v1h-1zM18 32h1v1h-1zM33 34h1v1h-1zM44 42h1v1h-1zM44 43h1v1h-1zM33 44h1v1h-1zM45 47h1v1h-1z" fill="#ccd"/><path d="M24 6h1v1h-1zM38 10h1v1h-1zM37 25h1v1h-1zM19 26h1v1h-1zM35 31h1v1h-1zM37 40h1v1h-1zM46 44h1v1h-1zM10 47h1v1h-1zM37 47h1v1h-1z" fill="#8c9"/><path d="M26 6h1v1h-1zM3 24h1v1h-1zM12 25h1v1h-1zM46 27h1v1h-1zM36 35h1v1h-1zM10 41h1v1h-1zM30 43h1v1h-1z" fill="#ac9"/><path d="M2 7h1v1h-1zM4 9h1v1h-1zM2 10h1v1h-1zM37 11h1v1h-1zM31 12h1v1h-1zM2 20h1v1h-1zM9 23h1v1h-1zM6 30h1v1h-1zM19 31h1v1h-1z" fill="#9c8"/><path d="M39 7h1v1h-1zM30 14h1v1h-1zM4 17h1v1h-1zM31 23h1v1h-1zM5 31h1v1h-1zM43 31h1v1h-1zM44 32h1v1h-1zM19 38h1v1h-1zM22 39h1v1h-1zM29 41h1v1h-1zM30 41h1v1h-1zM36 47h1v1h-1z" fill="#b7d"/><path d="M9 8h1v1h-1zM4 13h1v1h-1zM2 18h1v1h-1zM10 26h1v1h-1zM21 27h1v1h-1zM16 29h1v1h-1zM3 34h1v1h-1zM25 40h1v1h-1zM3 44h1v1h-1zM12 44h1v1h-1zM33 47h1v1h-1z" fill="#7d8"/><path d="M45 8h1v1h-1zM24 10h1v1h-1zM26 12h1v1h-1zM21 13h1v1h-1zM35 19h1v1h-1zM23 26h1v1h-1zM37 27h1v1h-1zM8 33h1v1h-1zM15 34h1v1h-1zM21 46h1v1h-1z" fill="#cdc"/><path d="M25 9h1v1h-1zM33 14h1v1h-1zM0 20h1v1h-1zM5 21h1v1h-1zM42 23h1v1h-1zM12 31h1v1h-1zM5 33h1v1h-1zM7 38h1v1h-1zM1 42h1v1h-1zM25 42h1v1h-1zM28 43h1v1h-1z" fill="#d87"/><path d="M26 9h1v1h-1zM2 25h1v1h-1zM45 41h1v1h-1z" fill="#ccc"/><path d="M35 9h1v1h-1zM32 24h1v1h-1zM44 26h1v1h-1zM3 33h1v1h-1zM19 34h1v1h-1zM46 35h1v1h-1zM14 41h1v1h-1zM3 43h1v1h-1z" fill="#8d7"/><path d="M39 9h1v1h-1zM26 10h1v1h-1zM2 24h1v1h-1zM27 30h1v1h-1zM7 43h1v1h-1z" fill="#d77"/><path d="M6 10h1v1h-1zM8 13h1v1h-1zM45 24h1v1h-1z" fill="#bca"/><path d="M19 10h1v1h-1zM16 11h1v1h-1zM13 16h1v1h-1zM0 17h1v1h-1zM34 23h1v1h-1zM38 24h1v1h-1zM7 26h1v1h-1zM9 26h1v1h-1zM15 26h1v1h-1zM35 27h1v1h-1zM43 33h1v1h-1zM1 35h1v1h-1zM47 40h1v1h-1z" fill="#8dd"/><path d="M29 10h1v1h-1zM19 13h1v1h-1zM47 15h1v1h-1zM13 24h1v1h-1zM0 32h1v1h-1zM6 36h1v1h-1zM15 39h1v1h-1zM26 41h1v1h-1zM38 43h1v1h-1z" fill="#cdd"/><path d="M42 10h1v1h-1zM0 14h1v1h-1zM40 15h1v1h-1zM8 16h1v1h-1zM28 28h1v1h-1zM3 30h1v1h-1zM25 38h1v1h-1z" fill="#7db"/><path d="M46 10h1v1h-1zM26 11h1v1h-1zM39 16h1v1h-1zM43 18h1v1h-1zM3 19h1v1h-1zM43 20h1v1h-1zM2 21h1v1h-1zM23 21h1v1h-1zM4 22h1v1h-1zM40 24h1v1h-1zM7 29h1v1h-1zM41 30h1v1h-1zM10 34h1v1h-1zM7 36h1v1h-1zM25 36h1v1h-1zM29 37h1v1h-1zM34 38h1v1h-1zM27 44h1v1h-1zM35 44h1v1h-1zM17 46h1v1h-1zM38 47h1v1h-1z" fill="#abd"/><path d="M4 11h1v1h-1z" fill="#7dd"/><path d="M8 11h1v1h-1zM30 13h1v1h-1zM33 13h1v1h-1z" fill="#9c7"/><path d="M24 11h1v1h-1zM33 20h1v1h-1zM5 23h1v1h-1zM7 27h1v1h-1zM26 34h1v1h-1zM16 35h1v1h-1zM21 35h1v1h-1zM45 39h1v1h-1zM2 40h1v1h-1zM4 42h1v1h-1z" fill="#dd9"/><path d="M27 11h1v1h-1zM43 11h1v1h-1zM5 15h1v1h-1zM18 16h1v1h-1zM21 20h1v1h-1zM30 24h1v1h-1zM35 25h1v1h-1zM46 26h1v1h-1zM41 31h1v1h-1zM43 32h1v1h-1zM17 35h1v1h-1zM23 35h1v1h-1zM23 38h1v1h-1zM33 38h1v1h-1zM14 44h1v1h-1zM39 44h1v1h-1z" fill="#dad"/><path d="M36 11h1v1h-1zM17 12h1v1h-1zM47 18h1v1h-1zM34 22h1v1h-1zM16 31h1v1h-1z" fill="#9dd"/><path d="M38 12h1v1h-1zM13 26h1v1h-1z" fill="#bcb"/><path d="M6 14h1v1h-1zM35 33h1v1h-1z" fill="#cd7"/><path d="M12 14h1v1h-1zM17 31h1v1h-1zM1 36h1v1h-1z" fill="#79d"/><path d="M15 14h1v1h-1zM10 28h1v1h-1zM8 29h1v1h-1zM40 32h1v1h-1zM31 47h1v1h-1z" fill="#ddb"/><path d="M26 14h1v1h-1zM8 34h1v1h-1zM42 40h1v1h-1z" fill="#cc9"/><path d="M28 14h1v1h-1zM8 21h1v1h-1z" fill="#ddc"/><path d="M43 14h1v1h-1zM21 28h1v1h-1zM39 39h1v1h-1z" fill="#7ad"/><path d="M6 15h1v1h-1zM25 16h1v1h-1zM21 19h1v1h-1zM8 23h1v1h-1zM3 25h1v1h-1zM17 27h1v1h-1zM39 30h1v1h-1zM29 32h1v1h-1zM44 37h1v1h-1zM17 39h1v1h-1zM29 46h1v1h-1z" fill="#da7"/><path d="M8 15h1v1h-1zM44 22h1v1h-1zM6 23h1v1h-1zM17 25h1v1h-1zM36 26h1v1h-1zM18 28h1v1h-1zM31 28h1v1h-1zM18 33h1v1h-1zM31 35h1v1h-1zM28 36h1v1h-1zM43 39h1v1h-1zM43 45h1v1h-1zM12 46h1v1h-1zM39 46h1v1h-1zM5 47h1v1h-1z" fill="#dca"/><path d="M32 15h1v1h-1zM14 21h1v1h-1z" fill="#bcc"/><path d="M9 16h1v1h-1zM8 20h1v1h-1zM13 29h1v1h-1z" fill="#ddd"/><path d="M23 17h1v1h-1zM0 31h1v1h-1zM30 45h1v1h-1z" fill="#77d"/><path d="M0 19h1v1h-1zM45 26h1v1h-1zM29 44h1v1h-1z" fill="#db7"/><path d="M1 19h1v1h-1zM6 21h1v1h-1zM25 35h1v1h-1zM8 39h1v1h-1z" fill="#8ca"/><path d="M41 19h1v1h-1zM26 30h1v1h-1zM38 42h1v1h-1zM14 45h1v1h-1z" fill="#dda"/><path d="M1 20h1v1h-1zM33 21h1v1h-1zM46 24h1v1h-1zM11 25h1v1h-1zM14 28h1v1h-1zM22 31h1v1h-1zM29 31h1v1h-1zM2 33h1v1h-1zM1 37h1v1h-1zM16 38h1v1h-1z" fill="#d97"/><path d="M45 20h1v1h-1z" fill="#bbc"/><path d="M46 20h1v1h-1zM7 25h1v1h-1zM7 28h1v1h-1zM41 28h1v1h-1zM11 29h1v1h-1z" fill="#ad7"/><path d="M12 22h1v1h-1zM37 30h1v1h-1z" fill="#7d7"/><path d="M10 23h1v1h-1z" fill="#99c"/><path d="M41 26h1v1h-1zM7 35h1v1h-1zM27 36h1v1h-1zM11 38h1v1h-1z" fill="#9cc"/><path d="M4 34h1v1h-1z" fill="#abc"/><path d="M19 35h1v1h-1z" fill="#78c"/><path d="M1 38h1v1h-1z" fill="#dd7"/><path d="M35 39h1v1h-1z" fill="#7c9"/><path d="M19 40h1v1h-1z" fill="#ac7"/><path d="M33 41h1v1h-1z" fill="#cca"/><path d="M17 44h1v1h-1z" fill="#7cc"/><path d="M3 47h1v1h-1z" fill="#8c7"/><path d="M15 47h1v1h-1z" fill="#bac"/></pattern></defs>
<rect x="68" y="8" width="95" height="368" fill="url(#nz)"/>
<g stroke="#f4f0f4" stroke-opacity="0.45" stroke-width="0.6">
<path d="M68 60l1-1 0-1-1 0zM84 171l-2-2-2 3 1 1 4 2-1-2z" fill="#9e5"/>
<path d="M78 61l0-1-3-3-2 1 2 3z" fill="#7f6"/>
<path d="M109 64l-1 0-2 0 0-3 3 0 0 1zM68 118l0 2 1-2zM78 116l-1 2-1 0-2 0 0-1 0-1 3-1z" fill="#af7"/>
<path d="M109 64l4-1 0-2-1-1-3 2z" fill="#ae8"/>
<path d="M68 71l0-2 1 1zM109 79l-2-2 2-2 2 1 0 3zM115 87l2 1 2 0 0-3-3 0-1 0zM122 87l-2-3-1 1 0 3 1 1 1-1z" fill="#4f3"/>
<path d="M76 71l3-3 1 0 1 1 0 1-3 1z" fill="#5f6"/>
<path d="M112 70l0-2-1-1-2 1-1 2 2 2z" fill="#2e2"/>
<path d="M150 73l4-4-1-1-2 0-2 3zM153 76l-4 1 0 2 0 1 3 0 1-1z" fill="#8f9"/>
<path d="M153 68l1 1 1 1 3-2-4-2z" fill="#9f7"/>
<path d="M160 71l3-1-1-2-1-1-3 0 1 4zM125 96l1 1 1 1 1-1 0-2-1-2z" fill="#8f8"/>
<path d="M79 75l-4-2 0-1 1-1 2 0 2 2z" fill="#3f3"/>
<path d="M81 73l-1 0-2-2 3-1 1 1z" fill="#4f5"/>
<path d="M106 70l0 3 2 0 2-1-2-2z" fill="#5f2"/>
<path d="M149 75l-4-2 4-2 1 2zM134 86l1 3 3-1-2-2-1-1z" fill="#4f2"/>
<path d="M160 71l3-1 0 1 0 3-3-1zM127 98l0 4-2-1-1-2 2-2z" fill="#9f9"/>
<path d="M71 76l1-2 3-1 1 3zM119 92l1-1 0-2-1-1-2 0-1 3 1 2zM137 102l0 1 2 2 2-2 0-1-3-1z" fill="#4f4"/>
<path d="M139 77l0-3 2-1 1 0 2 0-2 4-2 0z" fill="#9f5"/>
<path d="M143 78l3-1 0-1-2-3-2 4z" fill="#6e3"/>
<path d="M153 76l3-4 1 4zM138 101l1-2 1-1 1 1 2 3-2 0z" fill="#7f8"/>
<path d="M73 79l-1 0-1-3 5 0-2 2z" fill="#5f5"/>
<path d="M114 76l-3 0 0 3 2 1 1 0z" fill="#7f4"/>
<path d="M126 77l-1-1-3-1-1 1 1 3 2 0z" fill="#6f5"/>
<path d="M143 78l3-1 1 2-3 2z" fill="#8e2"/>
<path d="M149 75l-3 1 0 1 1 2 2 0 0-2z" fill="#7e4"/>
<path d="M153 76l0 3 3 0 1-3z" fill="#6f6"/>
<path d="M73 79l-1 0-1 2 0 1 1 1 4 0z" fill="#0f3"/>
<path d="M73 79l3 4 1-2 0-1-3-2zM76 89l4-1 0 2-1 1 0 1-3-2z" fill="#0f2"/>
<path d="M77 80l1-3 1 0 2 3-1 1-3 0zM70 87l-2-2 0 4zM72 88l1-1-1-4-2 4z" fill="#1f6"/>
<path d="M85 82l-1-1-2-1-1 0-1 1 1 2 1 1z" fill="#bbe"/>
<path d="M91 79l-1 4 4-1 0-3zM97 89l-3-1-1-2 1 0 1 0 2 1z" fill="#dbe"/>
<path d="M109 80l-3 1 2 2 1-1z" fill="#baf"/>
<path d="M113 80l-2-1-2 0 0 1 0 2 2 1 1 0zM161 136l0 1 2 1 0-3z" fill="#b6f"/>
<path d="M115 80l0 2 1 2 3-1 0-3-1-1z" fill="#6e5"/>
<path d="M134 83l1-1-1-3-1 0-2 1-1 3z" fill="#2f1"/>
<path d="M138 82l-3 0-1-3 2-1 3 1 0 1z" fill="#1f0"/>
<path d="M142 80l-3 0-1 2 2 1 3-2z" fill="#8f3"/>
<path d="M143 78l1 3-1 0-1-1 0-3z" fill="#7f2"/>
<path d="M154 83l-2-3-3 0 0 2 1 2 3 0z" fill="#8bf"/>
<path d="M156 79l3 1 1 2-2 1-2-1z" fill="#9cf"/>
<path d="M159 80l1-3 3 3-1 2-1 0-1 0z" fill="#7bf"/>
<path d="M162 82l1 0 0-2z" fill="#6cf"/>
<path d="M72 83l-1-1-3 2 0 1 2 2z" fill="#0f5"/>
<path d="M83 86l-1-2-1-1-3 2 2 2z" fill="#99e"/>
<path d="M83 86l-1-2 3-2 2 0-2 4zM85 91l1 0 2-2 0-2-3-1z" fill="#abe"/>
<path d="M85 86l3 1 2-2 0-2-2-1-1 0z" fill="#aaf"/>
<path d="M94 82l-4 1 0 2 1 1 2 0 1 0zM98 83l-1-1-3 0 0 4 1 0zM104 89l-2 3-1 0-2-3 2-1 2 0zM115 106l0 1-1 3 3 1 1-3z" fill="#dae"/>
<path d="M99 85l0-2-1 0-3 3 2 1z" fill="#dbf"/>
<path d="M129 87l2-1-1-3-2 0-1 0-2 3 1 0 0 1z" fill="#1f1"/>
<path d="M143 81l-3 2 0 1 3 1 1-4z" fill="#9f0"/>
<path d="M144 81l-1 4 1 0 3-2z" fill="#5f0"/>
<path d="M148 86l0-3 1-1 1 2 1 2z" fill="#af3"/>
<path d="M72 88l4 1 1-4-4 2z" fill="#1f2"/>
<path d="M76 89l4-1 0-1-2-2-1 0zM143 102l-2-3 3-2 2 1z" fill="#3f4"/>
<path d="M91 90l2-1 1-1-1-2-2 0zM103 88l-2 0-2-3 5-1zM116 153l1 3-4 2-2-2 0-1 4-1zM106 159l3-1 1-1-3-1-1 1z" fill="#d9e"/>
<path d="M97 89l0-2 2-2 2 3-2 1z" fill="#cbe"/>
<path d="M124 90l-3-2 1-1 1-1 2 0 1 0z" fill="#9f6"/>
<path d="M129 89l2 1 1-2 0-1-1-1-2 1z" fill="#1e3"/>
<path d="M143 85l-3-1-1 3 3 1z" fill="#af2"/>
<path d="M148 86l3 0 1 1-2 1-2-1z" fill="#af0"/>
<path d="M156 87l-2 4-1 0-1-4 2-1z" fill="#6af"/>
<path d="M161 88l1-2-4-2 0 1 2 3z" fill="#8cf"/>
<path d="M72 88l4 1 0 1-1 2-3-1z" fill="#1f4"/>
<path d="M84 91l-1 2-4-2 1-1 3 0z" fill="#ccf"/>
<path d="M96 92l-2 0-1-3 1-1 3 1z" fill="#ebf"/>
<path d="M113 89l0 1-4 2-1-1 1-1 3-2zM119 162l-2-1-1-1 2-4 2 4zM119 163l4-3-2-1-1 1-1 2z" fill="#b7f"/>
<path d="M125 91l-1 1-4-1 0-2 1-1 3 2z" fill="#6f3"/>
<path d="M129 89l2 1-1 2-3 1-1-2 1-1z" fill="#2e9"/>
<path d="M134 92l1-3-3-1-1 2z" fill="#0f0"/>
<path d="M138 88l1-1 3 1 1 1-2 3-1 0-1-1z" fill="#6f2"/>
<path d="M147 91l0-3-1-1-3 2 2 2 1 0z" fill="#9e0"/>
<path d="M150 88l0 3 1 1 2-1-1-4z" fill="#6bf"/>
<path d="M156 87l2 3 0 1-2 1-2-1z" fill="#69f"/>
<path d="M163 89l0 2-1 0 0-2z" fill="#68f"/>
<path d="M73 94l-3-2 0 3 2 1zM161 97l1 1 1 0 0-4-2 1zM112 125l4 0 0-3-1 0-3 0-1 1 0 1zM129 172l1 5 3-2-2-4z" fill="#67f"/>
<path d="M74 94l1-2-3-1-2 1 3 2zM114 101l-1 1-3-1 2-3 2 0zM155 101l-3-2-1 0 0 3 4 0z" fill="#65f"/>
<path d="M90 91l3 1-1 3-3 0 0-1zM79 116l2 2 2-2 1-1-2-2-2 1zM148 125l-1-3 3-1 2 2-2 3zM85 132l2 0 1 2 0 1-3 0-1-1 0-2zM95 139l-1-1-3 1 2 3 2-2zM101 140l1 1 0 1 3-1 1-1-2-3-1 1zM97 142l0 2 4-2 1-1-1-1z" fill="#f6b"/>
<path d="M95 95l1-3-2 0-1 0-1 3zM93 158l2 2 1-3 0-1-3 1zM123 172l-4 4 4 0 1-4z" fill="#b7e"/>
<path d="M100 94l-4 2-1-1 1-3 4 1zM100 99l0-1-2 1-1 2 3 2 1-2z" fill="#b9e"/>
<path d="M109 96l1 0 1-2-2-2-2 1zM108 97l0 1-4 0-1-2 1-2zM104 98l4 0 0 2-4 1z" fill="#86f"/>
<path d="M111 94l2 0 0-3 0-1-4 2zM153 129l1 2-1 2-3-1 0-3zM161 132l1 0 1-1 0-3 0-1-3 1 0 1 1 2zM163 135l0-4-1 1z" fill="#96f"/>
<path d="M117 95l0-2-1-2-3 0 0 3 2 1zM108 119l1-3 2 1 1 2-4 1z" fill="#76f"/>
<path d="M123 95l-1 0-1-1-2-2 1-1 4 1z" fill="#8e8"/>
<path d="M131 95l-3 0-1-2 3-1z" fill="#1f9"/>
<path d="M134 92l-3-2-1 2 1 3 1 0 2-1zM139 91l1 1-1 2-2 1 0-3zM134 94l3 1-1 2-1 1-2-2-1-1z" fill="#1f8"/>
<path d="M134 92l3 0 0 3-3-1z" fill="#2fd"/>
<path d="M141 92l2 1 0 1 0 1-3 0-1-1 1-2z" fill="#7f7"/>
<path d="M161 94l1-3 1 0 0 3-2 1zM155 101l1-1-1-3-1-1-2 3zM156 100l2 1 3-4 0-2z" fill="#45f"/>
<path d="M79 97l-2 1-1 0-1-4 3 0 2 2zM156 100l-1-3 6-2zM73 103l-2 1-1-2 0-1 3-1 1 1z" fill="#56f"/>
<path d="M83 94l-3 2-1 1 5 2 1-1zM139 107l-4-1-1 1 2 3zM91 132l2 0 0-1-2-3-2 0-1 0 1 3zM85 135l-1 3 4 1 1-3-1-1zM91 139l3-1 0-2-3 0zM88 139l1-3 2 0 0 3-1 1-1 0z" fill="#f6c"/>
<path d="M83 94l2 4 2-3zM142 137l-2 3 1 1 3-1 0-2zM153 161l-2-3 1-2 2 0 1 1z" fill="#f48"/>
<path d="M85 98l-1 1 3 0 2-3 0-1-2 0zM138 122l1-1 1-2 2 1 1 2-3 2zM132 131l-1 1-2 1 0 2 4 0-1-3zM140 146l-1-2 3-1 1 0 1 3-3 1z" fill="#f59"/>
<path d="M109 96l-2-3-2 1-1 0 4 3z" fill="#87f"/>
<path d="M114 98l1-3-2-1-2 0-1 2 2 2z" fill="#84e"/>
<path d="M117 100l1-2 0-2-1-1-2 0-1 3z" fill="#ae9"/>
<path d="M151 99l-2-1 3-3 1 1 1 0-2 3zM110 128l-1-3-1 0-3 2 1 1 3 0z" fill="#54f"/>
<path d="M73 99l0 1-3 1-1-1 3-3z" fill="#56e"/>
<path d="M77 98l2-1 1 3 0 1-3 0zM108 122l3 1 1-1 0-3-4 1z" fill="#55f"/>
<path d="M79 97l1 3 3 0 1-1zM131 107l-1 0-3-1 1-2 3 0 1 1 0 2zM89 121l3 3 1 0-1-4zM88 126l1-1-1-3-3 1 0 1zM89 121l3 3-3 1-1-3zM152 144l-2 3-1 0-1 0-1-2 2-2z" fill="#f6a"/>
<path d="M87 99l3 1 0-1 1 0-2-3zM94 144l-1-1-1 0-2 2 0 1 2 1z" fill="#f5b"/>
<path d="M112 98l-2-2-1 0-1 1 0 1 0 2 1 1 1 0z" fill="#64f"/>
<path d="M117 101l3 1 2-3-1-1-3 0-1 2z" fill="#7e7"/>
<path d="M161 97l1 1 1 2-5 1z" fill="#44f"/>
<path d="M77 101l-1 1 1 1 3 1 0-3zM111 128l1-3-1-1-2 1 1 3z" fill="#66f"/>
<path d="M88 106l1-4-3 0 0 4 1 0z" fill="#cbb"/>
<path d="M91 104l2-1 1-1-4-3 0 1-1 2zM75 105l0 2 2 1 2-1-3-4zM131 107l-1 0-2 3 4 1zM130 137l0 1 0 1 2 2 2 0-1-3z" fill="#f7b"/>
<path d="M104 101l-3 0-1 2 1 1 3-1zM161 132l1 0 1 3-2 1-1-2zM118 174l1-2 4-1 0 1-4 4-1 0 0-1z" fill="#c8e"/>
<path d="M106 105l0-1 3-3 1 0 0 3z" fill="#03f"/>
<path d="M117 101l-2 3 4 0 1-2z" fill="#d7c"/>
<path d="M123 105l2 0 2-3-2-1-1 1-2 1z" fill="#e9d"/>
<path d="M131 104l-1-3 1-1 2 1 0 3-1 1z" fill="#2f9"/>
<path d="M137 102l-3-1-1 0 0 3 3 0 1-1z" fill="#f4b"/>
<path d="M155 101l1-1 2 1 1 2 0 2-5 0 0-1 1-2zM160 128l3-1 0-2-2-1-1 0z" fill="#29f"/>
<path d="M163 101l0 3-1-1zM156 108l3 0 0-2 0-1-5 0zM156 108l3 0 0 1-1 2-3 0 0-1zM160 124l-1-2 1-2 0-1 3 1 0 1-2 3z" fill="#15f"/>
<path d="M83 105l1 1 2 0 0-4-4 2zM131 145l-1 3-2-1 0-2 2-1zM131 145l3 1 0-1-2-4-1 2-1 1z" fill="#b9b"/>
<path d="M106 104l-2-1-3 1 0 2 2 1 0 1 2-1z" fill="#ef7"/>
<path d="M110 107l1-2-1-1-4 1 3 2 1 1z" fill="#13f"/>
<path d="M115 104l0 2 0 1-5 0 1-2zM152 118l0-2 3-1 1 1 1 2-3 2z" fill="#05f"/>
<path d="M115 106l3 2 1-1 0-3-4 0zM122 111l-1-1-3-2-1 3 1 2 2 0z" fill="#ead"/>
<path d="M119 104l1-2 2 1 1 2-1 1-3 1zM122 106l0 1 2 2 2-1 0-1-1-2-2 0z" fill="#d9d"/>
<path d="M126 107l-1-2 2-3 1 2-1 2zM149 132l1 0 3 1 0 1-3 2-1-3zM109 171l1 4 2-1 1-2-1 0z" fill="#e8d"/>
<path d="M137 103l-1 1-1 2 4 1 1 0-1-2zM68 112l2-3-2-2zM135 111l1-1-2-3-2 0-1 0 1 4zM145 142l2 3-3 2 0-1-1-3z" fill="#f69"/>
<path d="M144 103l-1 2 0 1 1 1 3-4zM123 142l-1-2-2 1 0 3 2 0z" fill="#6de"/>
<path d="M149 106l0-2 1 0 4 0 0 1-3 2z" fill="#15e"/>
<path d="M154 105l-3 2 1 2 1 0z" fill="#27f"/>
<path d="M75 112l2-2 0-2-2-1-2 1-1 1zM70 109l-2 3 3 0 1-2zM81 123l1-3 2 1 1 1zM85 132l0-2 2-1 1-1 1 3-2 1z" fill="#f7c"/>
<path d="M86 110l-1 0-1-1 0-3 2 0 1 0zM82 113l2 2 1-2 0-3-1-1-2 1 0 1zM127 144l1 1 2-1 1-1-5-2zM128 147l-1 1 0 2 4 1 0-1-1-2zM133 151l-2-1 3-3 1 0 1 1 1 1z" fill="#cac"/>
<path d="M90 110l-1-3-1-1-1 0-1 4 3 0zM138 143l2-3-2-1-1 4z" fill="#b8b"/>
<path d="M99 110l-1 0 0-2 3-2 2 1z" fill="#fe7"/>
<path d="M100 111l3-1 0-2 0-1-4 3zM102 115l0-2 2-2 1 3-1 1z" fill="#ff5"/>
<path d="M124 110l0-1-2-2-1 3 1 1zM124 110l0-1 2-1 2 2-1 3-2 0z" fill="#eae"/>
<path d="M141 109l-1-2-1 0-3 3 1 2zM71 112l1 1-1 3-3-1 0-1 0-2zM78 116l-1-1-1-1 3-1 1 1-1 2zM121 114l-1-1-2 0-1 2 2 2 2 0 0-1zM124 126l-2 1-1-4 2-1 1 0zM134 136l3 3-3 2-1-3z" fill="#f5a"/>
<path d="M148 111l2-2-2-3-2 2 0 1zM116 144l0-3 2-1 1 0 1 1 0 3-3 0zM117 151l1 0 3-3-1-1-3 1 0 2z" fill="#6ef"/>
<path d="M156 108l-1 2-2-1 1-4z" fill="#38f"/>
<path d="M161 109l2-2 0 3-1 0z" fill="#37e"/>
<path d="M79 113l0-2 3 0 0 2-2 1zM156 168l3 2-1 2-1 0zM163 174l-1-2 1-2z" fill="#cbd"/>
<path d="M96 113l0-1 2-2 1 0 1 1 0 1-2 2zM75 167l2 3 0 1-2-1z" fill="#ef5"/>
<path d="M100 111l0 1 2 1 2-2-1-1z" fill="#fe6"/>
<path d="M113 113l5 0-1-2-3-1z" fill="#28f"/>
<path d="M125 113l-1-3-2 1-2 2 1 1z" fill="#d8e"/>
<path d="M141 110l4 0 0 2-1 2-1 0-2-2z" fill="#7cf"/>
<path d="M163 110l-1 0-1 2 2 2 0-1z" fill="#4bf"/>
<path d="M74 116l0-3-2 0-1 3 3 1z" fill="#bf7"/>
<path d="M92 117l-2 0 1-3 1-1 2 1 0 2z" fill="#fc8"/>
<path d="M95 117l3-1 0-2-2-1-2 1 0 2z" fill="#fa9"/>
<path d="M98 116l1 1 2-1 1-1 0-2-2-1-2 2z" fill="#ed5"/>
<path d="M109 116l2-3-1-1-3 1 0 2 1 1z" fill="#06f"/>
<path d="M125 113l2 0-2 4-1-1z" fill="#f26"/>
<path d="M133 114l2 4 1-1 0-3-2 0z" fill="#f24"/>
<path d="M148 115l0-2-3-1-1 2 1 1z" fill="#5ff"/>
<path d="M158 114l0 1-2 1-1-1 0-3z" fill="#16f"/>
<path d="M78 116l-1 2 2 3 2-2 0-1-2-2zM76 125l-1-3-3-1-1 1 1 4 3-1z" fill="#af6"/>
<path d="M84 121l1-2 0-2-2-1-2 2 0 1 1 1zM140 119l2 1 1-2 0-3-3 0-1 3z" fill="#e7a"/>
<path d="M93 119l-1 1-3 1-1-2 1-2 1 0 2 0zM88 128l1 0-1-2-3-2-1 2 3 3z" fill="#e6a"/>
<path d="M95 119l3 1 1-1 0-2-1-1-3 1zM97 123l-2 1-2 0 1-3z" fill="#ea8"/>
<path d="M118 118l-3 0 0-1 2-2 2 2z" fill="#e48"/>
<path d="M131 118l0-1-3-2-1 4 1 1z" fill="#f13"/>
<path d="M131 118l0-1 2-3 2 4-1 1-1 0z" fill="#e06"/>
<path d="M69 118l-1 2 0 2 1 0 2 0 1-1 0-1-2-1z" fill="#af4"/>
<path d="M74 118l-2 2 0 1 3 1 0-1 1-3z" fill="#8e4"/>
<path d="M79 121l-2-3-1 0-1 3 3 0zM79 123l-1-2-3 0 0 1 1 3 2 0zM71 128l-2 0-1-2 0-1 1-1 3 2z" fill="#af5"/>
<path d="M95 119l3 1-1 3-3-2 0-1z" fill="#fb9"/>
<path d="M99 119l2 2-1 2-1 1-2-1 1-3z" fill="#ec9"/>
<path d="M106 123l-2-4 4 0 0 1 0 2z" fill="#78f"/>
<path d="M112 122l3 0 0-4-3 1z" fill="#66e"/>
<path d="M118 118l-3 0 0 4 1 0 3-1 0-1zM135 132l-3 0 0-1 0-1 2-2 2 0zM153 161l2-4 1 0 0 2 1 2-1 1-2 1-1-1zM149 166l-1 0-2-1 1-3 1 0 2 3z" fill="#e57"/>
<path d="M121 123l-2-2 0-1 2-2 1 0 1 4zM163 156l-2 0-2-3 3-1 1 2z" fill="#f27"/>
<path d="M124 122l-1 0-1-4 3 0 2 1z" fill="#f57"/>
<path d="M136 123l-2-4 5 2-1 1z" fill="#f02"/>
<path d="M153 123l1-2 0-1-2-2-1 1-1 2 2 2zM163 125l-2-1 2-3z" fill="#36f"/>
<path d="M69 122l0 2-1 1 0-3z" fill="#cf8"/>
<path d="M69 122l0 2 3 2-1-4z" fill="#9f4"/>
<path d="M97 123l2 1-3 2-1-2z" fill="#eb7"/>
<path d="M121 123l-2-2-3 1 0 3 0 1 3-1zM127 126l-2-3-1-1 0 4 2 2zM138 143l1 1 3-1-1-2-1-1z" fill="#f39"/>
<path d="M140 125l0-1-2-2-2 1 0 1 3 2z" fill="#f03"/>
<path d="M144 125l-1-3 3 0 1 0 1 3zM91 139l2 3 0 1-1 0-2-3zM95 140l-2 2 0 1 1 1 2 1 1-1 0-2z" fill="#e59"/>
<path d="M155 126l1 0 0-4 0-1-2 0-1 2z" fill="#25f"/>
<path d="M78 128l-1 1-2-1 0-3 1 0 2 0 0 1z" fill="#caa"/>
<path d="M82 126l-4 0 0 2 4 0 1-1 0-1zM93 131l2-1 0-2-2-2-2 2zM144 134l-3 1 1-3 1 0 1 1 1 1zM76 139l-2 1 1 1 2 1 1-1 1-3-1 0zM69 149l0-1 3-1 0 3z" fill="#f6e"/>
<path d="M85 130l-2-3 0-1 1 0 3 3z" fill="#f7d"/>
<path d="M91 128l2-2 0-2-1 0-3 1-1 1 1 2z" fill="#f7a"/>
<path d="M95 128l-2-2 0-2 2 0 1 2z" fill="#e97"/>
<path d="M95 128l1-2 3-2 0 3-1 1z" fill="#eb8"/>
<path d="M105 127l1 1-5 1 0-1 2-2 2 0zM101 129l0 2-3 0 0-3 1-1 2 1z" fill="#e5b"/>
<path d="M122 127l-1 1-2-3 2-2z" fill="#f29"/>
<path d="M139 129l4-1-3-3-1 1-1 2z" fill="#e6c"/>
<path d="M145 128l1 1 4 0 0-3-2-1zM79 149l-2 2-2-1-1-3 2-1 1 0z" fill="#e8c"/>
<path d="M154 126l1 0 1 0 2 2-2 2-2-2zM114 144l2 0 1 0 0 3-4 0z" fill="#a7f"/>
<path d="M70 132l-2-1 0-3 1 0 2 0 1 1zM75 135l2-1 0-1-1-2-2 0-1 3zM74 136l-2 3 0 1 2 0 2-1z" fill="#daa"/>
<path d="M77 133l-1-2 1-2 1-1 2 3-1 1zM74 131l-1 3-3 0 0-2 2-3z" fill="#dcc"/>
<path d="M80 131l-2-3 4 0 0 3zM141 136l-3-1-1 3 1 1 2 1 2-3zM73 147l-1 0-3 1 1-5 2 1zM95 146l1 4 3-1 0-2-2-3-1 1z" fill="#f8c"/>
<path d="M95 128l0 2 3 1 0-3zM76 146l-2 1-1 0-1-3 2-1 1 1z" fill="#e5c"/>
<path d="M106 128l-1 3-1 1-3-1 0-2zM157 142l-1 2 3 1 0-4zM163 144l0 3-2 1-1-3 2-2z" fill="#e3c"/>
<path d="M109 132l-4-1 1-3 3 0zM114 132l2 3-2 0-2-1 0-1zM108 136l3 0 1 2 0 1-2 0-2-1z" fill="#dbd"/>
<path d="M109 132l2 0 1-3-1-1-1 0-1 0z" fill="#ece"/>
<path d="M116 127l3 2 0 1-1 2-3-1-1-2zM123 130l0 2-1 0-3-2 0-1 2-1z" fill="#ad8"/>
<path d="M135 132l1-4 2 0 1 1 0 1-3 2zM81 144l-3 1-1-2 0-1 1-1 3 2zM111 165l1 0 1-3-3-1 0 3zM107 168l-2 2-3-2 1-2 2-1z" fill="#e6b"/>
<path d="M139 129l4-1 0 4-1 0-2 0-1-2z" fill="#e6d"/>
<path d="M144 133l-1-1 0-4 2 0 1 1 0 2z" fill="#e5e"/>
<path d="M161 131l-1-2-2-1-2 2 0 1 1 1z" fill="#b5e"/>
<path d="M69 135l1-1 0-2-2-1 0 4z" fill="#ecc"/>
<path d="M91 132l2 0 2 3-1 1-3 0-1-4zM159 145l-2 2-2-1 0-1 1-1z" fill="#e3b"/>
<path d="M95 135l-2-3 0-1 2-1 3 1-1 3zM157 147l-1 2 2 3 2-3z" fill="#e4c"/>
<path d="M98 135l-1-1 1-3 3 0-1 4z" fill="#f3c"/>
<path d="M105 135l-1-3-3-1-1 4zM68 139l0 3 1 1 1 0 1-2z" fill="#f5d"/>
<path d="M109 132l-1 3 0 1 3 0 1-2 0-1-1-1z" fill="#ddd"/>
<path d="M114 132l2 3 2-1 0-2-3-1z" fill="#ccd"/>
<path d="M118 134l1 1 3-1 0-2-3-2-1 2z" fill="#bd9"/>
<path d="M126 132l-3 0-1 0 0 2 1 0 2 0z" fill="#cda"/>
<path d="M136 132l1 2 1 1 2-3-1-2zM147 137l0-2-2-1-1 0 0 4 2 0zM72 151l0-1 0-3 1 0 1 0 1 3z" fill="#e7b"/>
<path d="M75 135l-2-1-3 0-1 1 3 4 2-3z" fill="#eba"/>
<path d="M85 135l-1 3-2 1-2-1 0-1 1-2 3-1z" fill="#f6d"/>
<path d="M95 139l-1-1 0-2 1-1 2-1 1 1 0 3z" fill="#f3b"/>
<path d="M100 136l0-1 5 0-1 2-1 1z" fill="#f5e"/>
<path d="M105 135l3 0 0 1 0 2-2 2-2-3zM134 145l-2-4 2 0 2 1zM134 147l1 0 3-4-1 0-1-1-2 3 0 1z" fill="#c9c"/>
<path d="M111 136l1 2 2-1 0-2-2-1z" fill="#dcd"/>
<path d="M116 135l-2 0 0 2 2 1 1 0 2-3-1-1z" fill="#ceb"/>
<path d="M117 138l1 2 1 0 1-3-1-2z" fill="#cea"/>
<path d="M124 138l-1 0-3-1-1-2 3-1 1 0z" fill="#be8"/>
<path d="M133 135l-4 0-1 1 2 2 0-1zM151 161l-3 1-1 0 0-1 0-1 1-2 1 0z" fill="#f58"/>
<path d="M144 134l-3 1 0 1 1 1 2 1zM68 144l0-2 1 1zM108 169l3-4-1-1-4 0-1 1 2 3z" fill="#e7c"/>
<path d="M155 136l-2-2-3 2 2 1zM110 146l-1 1-1 0-1 0-1-3 2-1z" fill="#b8f"/>
<path d="M72 139l-3-4-1 3 0 1 3 2 1-1z" fill="#dba"/>
<path d="M84 141l0 1-2 1 0-4 2-1z" fill="#e0e"/>
<path d="M88 139l-4-1 0 3 3 1 1 0 1-2z" fill="#f0d"/>
<path d="M112 143l0-3 0-1-2 0-1 3 2 1zM102 161l-1 1 2 3 0 1 2-1 1-1 0-2-1-1zM122 169l-3-1-1 0 1 4 4-1 0-2z" fill="#a6e"/>
<path d="M114 137l-2 1 0 1 0 1 3 0 1-2zM153 168l1 0 2 0 1-1-4-4 0 1z" fill="#cad"/>
<path d="M126 141l-1-3-1 0-1 0-1 2 1 2z" fill="#8ee"/>
<path d="M147 137l-1 1 1 2 2 1 1-1-1-3zM159 157l2-1-2-3-1-1-1 1 0 3zM160 160l1 3 2 0 0-3-1-1z" fill="#f47"/>
<path d="M152 140l-2 0-1-3 1-1 2 1zM106 164l0-2 4-1 0 3zM108 169l1 1 3-1 1-3-1-1-1 0z" fill="#e7d"/>
<path d="M156 138l3 1 1 2-1 0-2 1-2-1z" fill="#e4d"/>
<path d="M159 139l1-2 1 0 2 1 0 1-3 2z" fill="#b8e"/>
<path d="M77 142l0 1-2 1-1-1 1-2z" fill="#f7e"/>
<path d="M89 140l-1 2 2 3 2-2-2-3z" fill="#f2b"/>
<path d="M106 144l-1 0 0-3 1-1 2 2 0 1z" fill="#c8f"/>
<path d="M111 143l-2-1-1 0 0 1 2 3z" fill="#a8f"/>
<path d="M144 140l-3 1 1 2 1 0 2-1zM146 150l2-3 1 0 1 3-2 1-1 0zM152 156l-1-2 1-2 2 1 1 0-1 3zM163 156l0 4-1-1zM157 161l3-1-1-2-3 1z" fill="#f38"/>
<path d="M149 141l0 2-2 2-2-3 2-2zM86 153l0-1 1-2 2 1 1 1-2 2z" fill="#f36"/>
<path d="M159 141l0 4 1 0 2-2-2-2z" fill="#f2d"/>
<path d="M160 141l2 2 1 1 0-4 0-1zM159 145l1 0 1 3-1 1-3-2z" fill="#e4b"/>
<path d="M85 143l-2 2 3 3 1-1 0-4z" fill="#e0c"/>
<path d="M88 142l2 3 0 1-3 1 0-4 0-1z" fill="#f0e"/>
<path d="M97 144l2 3 1 0 1-5z" fill="#f8a"/>
<path d="M107 147l-3 0-1 0 0-2 2-1 1 0z" fill="#a7e"/>
<path d="M117 148l0-1 0-3 3 0 0 3z" fill="#7be"/>
<path d="M124 146l0 1-1 2-2-1-1-1 0-3 2 0z" fill="#7ce"/>
<path d="M135 147l1 1 4-2-1-2-1-1zM137 149l-1-1 4-2 1 1-1 3-3 0z" fill="#cbc"/>
<path d="M152 144l-2 3 4 1 1-2 0-1-2-2z" fill="#f4e"/>
<path d="M82 150l1-5-1 0-3 4 1 1z" fill="#f3e"/>
<path d="M83 145l-1 5 1 0 3-1 0-1z" fill="#e2c"/>
<path d="M93 148l0 1-3 0 0-3 2 1z" fill="#e1d"/>
<path d="M109 147l2 3 0 1-4 0 1-4zM121 156l0 3 2 1 1 0 0-3z" fill="#c7f"/>
<path d="M110 146l-1 1 2 3 1 0 1-1 0-2z" fill="#a6f"/>
<path d="M126 151l1-1 0-2-3-1-1 2 0 2z" fill="#9df"/>
<path d="M131 145l3 1 0 1-3 3-1-2z" fill="#b9c"/>
<path d="M140 150l1-3 3-1 0 1 1 2-2 2z" fill="#f4a"/>
<path d="M150 150l2 0 2-2-4-1-1 0z" fill="#f4d"/>
<path d="M154 148l1-2 2 1-1 2-2 0z" fill="#e5d"/>
<path d="M72 151l0-1-3-1-1 1 2 3 2-1z" fill="#7da"/>
<path d="M77 151l-2-1-3 1 0 1 1 1 3 1 1-1z" fill="#7db"/>
<path d="M83 152l0-2-1 0-2 0 0 2 2 2z" fill="#f44"/>
<path d="M93 149l-1 3-2 0-1-1 1-2z" fill="#e0b"/>
<path d="M96 150l3-1 1 2 0 2-4 0zM95 172l0 1-4-1 1-4 1 0 1 0z" fill="#a5e"/>
<path d="M107 151l-3-2-2 2 2 2 3-1z" fill="#d6d"/>
<path d="M107 151l4 0-1 3-3-1 0-1z" fill="#e7e"/>
<path d="M112 150l-1 0 0 1-1 3 1 1 2-3z" fill="#c8d"/>
<path d="M117 151l3 2 0-2-2 0z" fill="#96e"/>
<path d="M131 151l-4-1-1 1 1 2 3 0z" fill="#46e"/>
<path d="M133 151l-2-1 0 1-1 2 0 1 4 0 0-2zM131 162l-2-2 1-2 3 1z" fill="#47e"/>
<path d="M143 152l2 1 2-2-1-1-1-1-2 2zM148 151l2 3 1 0 1-2 0-2-2 0z" fill="#f34"/>
<path d="M154 148l0 1 0 4-2-1 0-2z" fill="#f56"/>
<path d="M156 149l-2 0 0 4 1 0 2 0 1-1z" fill="#f35"/>
<path d="M163 154l0-3-1 1zM156 157l1-1 2 1 0 1-3 1zM84 158l3 0-3 3z" fill="#f46"/>
<path d="M68 157l0-3 1 0 0 1zM78 153l3 2-4 2-1-2 0-1 1-1z" fill="#6db"/>
<path d="M73 156l-1 0-3-1 0-1 1-1 2-1 1 1z" fill="#6eb"/>
<path d="M73 156l3-1 0-1-3-1z" fill="#6ea"/>
<path d="M82 154l-2-2-2 1 3 2 1 0z" fill="#8db"/>
<path d="M93 157l3-1 0-3-4 0 0 2zM114 160l2 0 1 1-2 2-1-1z" fill="#d7e"/>
<path d="M100 155l-4 1 0-3 4 0 0 1zM100 159l2 2 3 0 0-2-3-1z" fill="#a4e"/>
<path d="M103 156l-3-1 0-1 4-1 0 2zM123 160l-4 3 2 1 2-1z" fill="#b6e"/>
<path d="M104 155l2 2 1-1 0-3 0-1-3 1zM108 169l1 1 0 1-4 2-1-2 1-1 2-2z" fill="#d8c"/>
<path d="M107 156l0-3 3 1 1 1 0 1-1 1zM113 152l-2 3 4-1z" fill="#c6d"/>
<path d="M123 153l-2 1-1 2 1 0 3 1 1-3z" fill="#b6d"/>
<path d="M130 154l0 1-2 1-1-2 0-1 3 0z" fill="#48f"/>
<path d="M130 154l0 1 1 1 3 1 1-1-1-2z" fill="#33f"/>
<path d="M140 154l0 1 4 1 0-1 1-1 0-1-2-1z" fill="#e38"/>
<path d="M145 154l3 1 0 3-4-3zM153 161l-2-3-2 0 2 3 2 1z" fill="#f45"/>
<path d="M69 159l-1-2 0 4z" fill="#8ec"/>
<path d="M73 156l-1 0 0 3 3 0 2 0 0-2-1-2z" fill="#7eb"/>
<path d="M84 158l0 3-4-1 3-4z" fill="#f55"/>
<path d="M84 158l3 0 0-2-3-1-1 1z" fill="#e68"/>
<path d="M90 156l-2-2-1 2 0 2 2 2 0-1zM152 176l1-4-4-1 0 4z" fill="#f66"/>
<path d="M93 158l-2 1-2 0 1-3 2-1 1 2z" fill="#e66"/>
<path d="M100 155l-4 1 0 1 3 2 1 0z" fill="#b5f"/>
<path d="M100 159l0-4 3 1-1 2z" fill="#c4f"/>
<path d="M102 158l1-2 1-1 2 2 0 2-1 0z" fill="#e9e"/>
<path d="M109 158l1 2 3 0 0-2-2-2-1 1zM122 169l1-3-2-2-2 4z" fill="#c6e"/>
<path d="M114 160l2 0 2-4-1 0-4 2 0 2zM126 165l-3 1-2-2 2-1 2 1zM126 162l-1 2 1 1 1 0 2-1 1-1zM123 169l3-1 1 3-1 1-2 0-1 0 0-1z" fill="#d6e"/>
<path d="M121 156l0 3-1 1-2-4 2 0zM122 169l1-3 3-1 1 0-1 3-3 1z" fill="#c7d"/>
<path d="M126 161l-2-1 0-3 3 0 1 2z" fill="#c6f"/>
<path d="M128 159l-1-2 1-1 2-1 1 1-1 2-1 2z" fill="#36e"/>
<path d="M134 159l0-2-3-1-1 2 3 1z" fill="#13e"/>
<path d="M134 159l0-2 1-1 1 0 2 2-1 3z" fill="#22e"/>
<path d="M141 159l-1-4 4 1 0 2-1 1zM144 165l2 0 1-3 0-1-4 1-1 0zM144 165l2 0 2 1-1 2-2 0-1-2z" fill="#f67"/>
<path d="M160 160l2-1 1-3-2 0-2 1 0 1z" fill="#e35"/>
<path d="M82 163l2-1 0-1-4-1-1 0z" fill="#e33"/>
<path d="M84 161l0 1 4-1 1-1-2-2z" fill="#f68"/>
<path d="M93 158l2 2 0 2-1 0-3-3zM118 174l-3-4-1 2 0 1 4 2z" fill="#c7e"/>
<path d="M131 162l5 1 1-1 0-1-3-2-1 0z" fill="#23e"/>
<path d="M71 163l0-1 4 0 0 1-1 3-1-1z" fill="#ad4"/>
<path d="M75 167l2-1 1-2-3-1-1 3zM68 166l3-3 2 2-3 2-1 1z" fill="#ce4"/>
<path d="M85 164l-1-2 4-1 1 0-1 4z" fill="#ae5"/>
<path d="M96 165l-2-3-2 1 0 2 0 1zM96 167l0-2-4 1 1 2 1 0z" fill="#94e"/>
<path d="M96 165l-2-3 1 0 2 0 2 1-1 2zM101 171l3 0 1-1-3-2z" fill="#94d"/>
<path d="M119 163l-3 2-1-2 2-2 2 1z" fill="#b7d"/>
<path d="M131 162l2 3-2 1-2-2 1-1z" fill="#67e"/>
<path d="M131 162l2 3 1 1 1-2 1-1z" fill="#57e"/>
<path d="M144 165l-2-3-3 1 0 3z" fill="#f87"/>
<path d="M153 164l0-1 1 0-1-1-2-1-3 1 2 3zM150 169l-1-3 1-1 3-1 0 4zM145 168l-1 3-3-3 3-2zM147 168l-2 0-1 3 2 0 2 0z" fill="#f89"/>
<path d="M156 162l3 3 2-2-1-3-3 1z" fill="#f49"/>
<path d="M74 166l-1-1-3 2 2 3z" fill="#ce2"/>
<path d="M75 167l2-1 3 2-3 2z" fill="#ef4"/>
<path d="M81 165l0 1 0 2-1 0-3-2 1-2 0-1z" fill="#ee2"/>
<path d="M88 169l-1 0-1-1-1-4 3 1 1 1-1 2z" fill="#ae7"/>
<path d="M92 168l1 0-1-2 0-1-3 1-1 2z" fill="#9d6"/>
<path d="M99 167l3 1 1-2 0-1-4 0z" fill="#86d"/>
<path d="M131 168l0-2-2-2-2 1-1 3 3 0zM142 175l-4 1-1 0 2-4 3 2z" fill="#77f"/>
<path d="M134 166l0 2-1 1-2-1 0-2 2-1z" fill="#89e"/>
<path d="M135 164l2 2-1 1-2 1 0-2z" fill="#89f"/>
<path d="M136 167l1 1 3 0-1-1-2-1z" fill="#78e"/>
<path d="M140 168l1 0 3-2 0-1-5 1 0 1z" fill="#e77"/>
<path d="M150 169l-1 2-1 0-1-3 1-2 1 0z" fill="#f77"/>
<path d="M159 165l-2 2-1 1 3 2 2-1-1-3z" fill="#a8d"/>
<path d="M163 165l-3 1 1 3 1 0 1-1z" fill="#bad"/>
<path d="M69 171l-1 0 0-2 1 0z" fill="#be2"/>
<path d="M72 171l-1 1-2-1 0-2 0-1 1-1 2 3z" fill="#ae3"/>
<path d="M81 169l1 0-2 3-3 1 0-2 0-1 3-2 1 0z" fill="#dd5"/>
<path d="M81 169l1 0 2 2 3-2-1-1zM90 171l-4 5-1 0 0-1-1-2 4-3z" fill="#ae6"/>
<path d="M90 172l0-1-2-1 0-1 0-1 4 0-1 4z" fill="#be6"/>
<path d="M98 170l3 1 1-3-3-1-1 1z" fill="#97e"/>
<path d="M118 174l1-2-1-4-1 0-2 2z" fill="#b8d"/>
<path d="M129 168l-3 0 1 3 2 0z" fill="#88e"/>
<path d="M136 167l1 1-2 3-2-2 1-1z" fill="#98f"/>
<path d="M140 168l-1 3-3 1-1-1 2-3z" fill="#87e"/>
<path d="M140 168l-1 3 0 1 3 2 2-3-3-3z" fill="#f88"/>
<path d="M154 168l-1 4 3 0 1 0-1-4z" fill="#a8c"/>
<path d="M162 172l-2 1-2-1 1-2 2-1 1 0 1 1zM163 170l0-2-1 1zM163 174l0 1-3 1 0-1 0-2 2-1z" fill="#bac"/>
<path d="M68 174l0-3 1 0z" fill="#de4"/>
<path d="M68 176l2 0 1-4-2-1-1 3z" fill="#cf5"/>
<path d="M75 176l-3-5-1 1-1 4z" fill="#cd4"/>
<path d="M72 171l3 5 2-2 0-1 0-2-2-1z" fill="#dd4"/>
<path d="M80 175l1-2-1-1-3 1 0 1z" fill="#be7"/>
<path d="M95 173l-4-1-1 0 1 4 1 0 3-2z" fill="#86e"/>
<path d="M96 172l5 2 0 1 0-4-3-1z" fill="#95d"/>
<path d="M129 171l-2 0-1 1 1 4 3 1-1-5z" fill="#77e"/>
<path d="M144 171l-2 3 0 1 5-1-1-3z" fill="#f65"/>
<path d="M149 175l-2-1-1-3 2 0 1 0z" fill="#e76"/>
<path d="M156 172l4 3 0-2-2-1-1 0z" fill="#b9d"/>
</g>
<g stroke="#f4f0f4" stroke-opacity="0.15" stroke-width="0.5">
<path d="M90 172l1 4-5 0 4-5zM80 175l1-2 4 2 0 1-1 2 0 1-2-1z" fill="#bc8"/>
<path d="M96 172l5 2-5 2-1-2 0-1 0-1z" fill="#b6e"/>
<path d="M114 173l-1 3-1-2 1-2 1 0zM76 256l0 5-5 1 0-7 0-1 2 0zM81 258l-3 4-2-1 0-5 1-1 3 2z" fill="#e83"/>
<path d="M126 172l-2 0-1 4 1 1 3-1zM118 176l-4 1-1 2 0 3 2 1 4-1 0-6zM122 183l-2 0-1-1 0-6 4 0 1 1 0 4zM123 185l6-2 0-2-5 0-2 2zM122 260l1 4-1 4-1 2-1-1-2-5z" fill="#e96"/>
<path d="M68 176l0 1 3 3 4-3 0-1-5 0z" fill="#de4"/>
<path d="M75 176l2-2 3 1 2 3z" fill="#cd5"/>
<path d="M92 178l-5 2-3-2 1-2 1 0 5 0 1 0zM93 179l1 3-4 1-1 0-2-3 5-2z" fill="#ac7"/>
<path d="M95 174l-3 2 0 2 1 1 3-2 0-1zM96 183l0 5-3 1-3-6 4-1z" fill="#a4d"/>
<path d="M101 174l0 1 2 1-4 3-3-2 0-1z" fill="#b5e"/>
<path d="M109 175l1 3-2 1-5-2 0-1 2-1zM103 177l1 7 3 0 1-5zM136 181l-1-1 3-3 4 3-1 4zM148 184l0 5 5-1 0-4-1-1zM129 266l-2-2-4 0-1 4z" fill="#e95"/>
<path d="M110 175l2-1 1 2 1 1-1 2-3-1-1-3zM118 175l0 1-4 1-1-1 1-3zM108 179l-1 5 1 0 5-2 0-3-3-1zM113 182l-5 2 0 2 5 3 2 0 0-6z" fill="#e84"/>
<path d="M124 181l0-4 3-1 3 1 1 1-2 3z" fill="#e85"/>
<path d="M137 176l1 0 0 1-3 3-4-2-1-1 3-2 3-2z" fill="#d8a"/>
<path d="M142 175l-4 1 0 1 4 3 2-2zM147 190l1-1 0-5-1-1-5 2 0 1z" fill="#eb6"/>
<path d="M147 178l-3 0-2-3 5-1 2 1zM147 179l0 4 1 1 4-1-1-2zM122 260l-4-3-4 2 0 3 4 2zM118 264l2 5-3 1-4-1 1-6 0-1z" fill="#ea6"/>
<path d="M153 177l-2 4-4-2 0-1 2-3 3 1zM147 178l-3 0-2 2-1 4 1 1 5-2 0-4zM122 260l1-1 2 1 2 4-4 0zM125 260l2 4 2 2 1-1 1 0 0-3 0-2z" fill="#ea5"/>
<path d="M163 175l-3 1-1 3 0 1 4 0zM111 208l1 6 4-2-1-4zM118 223l-3 1-5-5 1-1 7 0 1 1z" fill="#b6d"/>
<path d="M68 177l0 6 3-2 0-1zM68 183l3-2 3 4-1 2-3 1-1-1-1-1z" fill="#dd5"/>
<path d="M75 177l3 6-4 2-3-4 0-1z" fill="#ce5"/>
<path d="M75 176l0 1 3 6 0 1 3-2 3-3-2-1z" fill="#de5"/>
<path d="M84 178l0 1-3 3 4 4 2 0 2-3-2-3zM156 198l-3 0-1 2 0 1 2 2 4 1 1-1 0-1zM155 211l-3-3 2-5 4 1 1 2-3 6zM158 204l1-1 4 1 0 4-1 0-3-2zM163 212l0-4-1 0 0 4z" fill="#bd8"/>
<path d="M93 179l1 3 2 1 2-1 1-3-3-2z" fill="#a5e"/>
<path d="M103 176l0 1 1 7-1 0-5-2 1-3zM96 183l0 5 2 2 4-1 1-5-5-2zM153 184l6-2 0 1-1 6-4 0-1-1zM128 299l-1-1-6-1 0 7 2 2 1 0 4-3z" fill="#b5d"/>
<path d="M129 183l1 2 4-1 2-3-1-1-4-2-2 3zM135 188l1 1 4-1 2-2 0-1-1-1-5-3-2 3z" fill="#d9b"/>
<path d="M153 177l3 0 3 2 0 1 0 2-6 2-1-1-1-2z" fill="#b7e"/>
<path d="M159 182l0-2 4 0 0 5-4-2zM146 205l-2-6-2 0-1 4 1 3zM112 214l-1-6-1 0-3 1 1 2z" fill="#b7d"/>
<path d="M68 186l0 2 1-1zM144 270l-2 3-1 1-3-4 2-3zM149 281l3-4-3-3-3 4 1 2zM73 305l-5-3 0 7 5-1z" fill="#94d"/>
<path d="M74 185l4-2 0 1 1 2-3 5-3-4zM70 188l0 5-2 1 0-6 1-1zM74 199l0-4-4-2-2 1 0 4 5 2zM78 200l4-5-2-2-4 0-2 2 0 4zM158 261l2 1 3-2 0-6-4 0-2 6zM152 267l0 1 2 2 6 0 0-2-5-2zM155 266l5 2 2-2-2-4-2-1z" fill="#95d"/>
<path d="M84 188l1-2-4-4-3 2 1 2 2 3zM90 191l-3-5 2-3 1 0 3 6zM87 193l-5 2-2-2 1-4 3-1zM90 191l-3 2-3-5 1-2 2 0zM90 191l-3 2 2 6 2 1 1-1 1-4z" fill="#88c"/>
<path d="M107 184l-3 0-1 0-1 5 3 2 2 0 1-5 0-2zM156 313l-1-1 2-5 2-1 4 0 0 6zM156 313l7-1 0 4-5 1z" fill="#e33"/>
<path d="M115 183l0 6 2 1 1-1 2-6-1-1zM68 241l3-2-1-6-2-1zM75 247l1 1 5 1 1 0 1-1 0-2-3-4zM98 326l-5 5 3 3 4-1 1-5zM152 366l1-1 5 4-1 5-2 1-4-7z" fill="#e75"/>
<path d="M123 185l1 3-6 1 2-6 2 0zM125 189l-2 4 4 2 3-3-2-3z" fill="#e64"/>
<path d="M123 185l1 3 1 1 3 0 1-2 1-2-1-2z" fill="#e86"/>
<path d="M129 187l6 1-1-4-4 1z" fill="#d9a"/>
<path d="M158 189l2 1 3-1 0-4-4-2zM160 195l3 0 0 4-2 0zM112 336l2-2 5 2-1 4-3 0z" fill="#6db"/>
<path d="M70 188l0 5 4 2 2-2 0-2-3-4zM158 249l1 5-4 0-5-3 0-1 1-3 5 1zM158 249l1 5 4 0 0-7-3-1zM150 258l1 1 4-5-5-3-1 6zM152 260l-1-1 4-5 4 0-2 6zM152 267l3-1 3-5-1-1-5 0z" fill="#85d"/>
<path d="M80 193l-4 0 0-2 3-5 2 3z" fill="#a5d"/>
<path d="M90 191l3 4 5-2 0-3-2-2-3 1zM109 238l2-4 1 0 5 1 0 1-2 4zM108 239l-6 2-1 3 0 1 5 1 3-3z" fill="#d3a"/>
<path d="M98 190l4-1 3 2-1 3-2 2-3-2-1-1zM97 200l2-6 3 2 1 2-2 2-3 1zM74 225l0 4 1 0 1 1 5-6-2-2-5 1z" fill="#d3b"/>
<path d="M107 191l4 2 0 1-3 2-4-2 1-3zM108 186l5 3-2 4-4-2zM103 198l4 2 1-4-4-2-2 2zM107 201l0-1 1-4 3-2 2 2-1 4zM150 310l5 2 2-5-5-3-3 6zM152 359l1 0 7-4 0-1-8-2z" fill="#e34"/>
<path d="M117 190l2 4-5 2-1 0-2-2 0-1 2-4 2 0zM125 189l-2 4-2 1-2 0-2-4 1-1 6-1z" fill="#e44"/>
<path d="M129 187l-1 2 2 3 2 2 3-1 1-4-1-1zM147 192l5 3 1-2 1-4-1-1-5 1-1 1zM138 197l-3-4-3 1-2 6 6 0zM91 282l-3 2 2 5 2 1 1-1 1-2-1-5zM78 289l6 0 1 3 0 2-2 1-4-3z" fill="#e46"/>
<path d="M140 188l-4 1-1 4 3 4 3-5z" fill="#e35"/>
<path d="M145 194l-4-2-1-4 2-2 5 4 0 2-1 1zM146 193l0 5 6 2 1-2-1-3-5-3zM90 277l-4 5-1-4 1-4z" fill="#e36"/>
<path d="M154 189l-1 4 7 2 0-5-2-1z" fill="#6da"/>
<path d="M160 195l0-5 3-1 0 6zM156 198l-3 0-1-3 1-2 7 2zM93 205l0 1-4 3-4-1 0-3 6-3z" fill="#7da"/>
<path d="M87 193l2 6-5 1-2-5zM80 203l-6 2-2-3 1-2 1-1 4 1 2 2zM73 209l-5-4 0 3 4 2zM68 208l4 2-1 2-1 1-2 1z" fill="#99c"/>
<path d="M98 193l1 1-2 6-5-1 1-4zM93 205l0 1 1 5 6-2-4-4zM115 208l1-2 5 5-1 1-3 1-1-1zM108 239l-4-5 1-2 2-2 4 4-2 4z" fill="#d4a"/>
<path d="M119 194l2 0 0 2-3 5-4-5zM123 193l-2 1 0 2 2 2 4 0 0-3zM79 239l1 3-5 5-1-1 1-7 2-1 1 0zM85 328l1 0 5 2 1 1-4 4-3-2zM154 376l0-1 1 0 2-1 2 1 0 1zM163 375l0 1-4 0 0-1z" fill="#e65"/>
<path d="M127 195l0 3 2 2 1 0 2-6-2-2zM110 204l0 4 1 0 4 0 1-2 1-2-3-1zM90 277l-4 5 1 2 1 0 3-2z" fill="#e58"/>
<path d="M145 194l-7 3 3-5z" fill="#e37"/>
<path d="M145 194l-7 3 4 2 2 0 2-1 0-5zM87 284l-3 1 0 4 1 3 5-3-2-5z" fill="#e45"/>
<path d="M73 200l-5-2 0 5 4-1zM74 205l0 3-1 1-5-4 0-2 4-1zM123 287l1-3 4 0 2 4-7 0zM123 288l2 4 5 0 1-3-1-1z" fill="#aac"/>
<path d="M80 202l3 0 1-2-2-5-4 5zM83 209l2-1 0-3-2-3-3 0 0 1 0 4z" fill="#7ca"/>
<path d="M91 202l-6 3-2-3 1-2 5-1 2 1z" fill="#7c9"/>
<path d="M97 200l-5-1-1 1 0 2 2 3 3 0 1-3 1-1zM108 239l1 4 3 1 2 0 1-1 0-3-6-2z" fill="#d49"/>
<path d="M98 201l3-1 3 6-7-4zM95 226l1-1 0-6-1 0-4 0zM101 228l-3 3 4 4 2-1 1-2z" fill="#e4b"/>
<path d="M107 201l0-1-4-2-2 2 3 6zM123 202l0-4 4 0 2 2-1 3zM111 298l-4 4-4-3 1-4 4 0zM113 292l-3 0-2 3 3 3 3 0 0-5zM135 299l4 2 2-2 1-2-1-4-6 1-1 1 0 3z" fill="#d5b"/>
<path d="M107 201l5-1 2 3-4 1zM107 201l-3 5 0 1 3 2 3-1 0-4z" fill="#e49"/>
<path d="M112 200l1-4 1 0 4 5 0 2-1 1-3-1z" fill="#e48"/>
<path d="M119 204l-1-1 0-2 3-5 2 2 0 4z" fill="#e6b"/>
<path d="M129 200l1 0 6 0 0 2-5 3-3-2zM137 208l-5-2-1-1 5-3 1 1 1 4z" fill="#75d"/>
<path d="M138 197l4 2-1 4-4 0-1-1 0-2zM148 207l-1-2-1 0-4 1 0 1 1 3zM148 207l-1-2 5-4 2 2-2 5-3 1z" fill="#b8d"/>
<path d="M146 205l-2-6 2-1 6 2 0 1-5 4zM144 212l-1-2 5-3 1 2-1 4-3 0zM140 265l0 2 4 3 2-1-1-4zM157 286l-5-1 0 2 1 3 4 0zM159 291l-1 4-2 1-4-3 1-3 4 0zM108 328l-3-2 0-2 6-3 1 1-1 6zM116 328l2-6-2-1-4 1-1 6 3 1z" fill="#b8c"/>
<path d="M156 198l3 4 2-3-1-4zM162 212l0-4-3-2-3 6 1 1z" fill="#ad8"/>
<path d="M159 202l0 1 4 1 0-5-2 0zM128 284l0-6-5 4 1 2z" fill="#bd7"/>
<path d="M80 207l0-4-6 2 0 3 1 0zM69 299l6-2 0-1-3-4z" fill="#aad"/>
<path d="M96 205l4 4 1 0 3-2 0-1-7-4zM119 204l4-2 5 1-4 5z" fill="#d5a"/>
<path d="M119 204l-1-1-1 1-1 2 5 5 3-2 0-1z" fill="#d4b"/>
<path d="M129 211l-3 0-2-2 0-1 4-5 3 2 1 1z" fill="#65d"/>
<path d="M138 207l-1-4 4 0 1 3 0 1zM110 219l1-1 1-4-4-3-3 4 1 3 0 1z" fill="#a7c"/>
<path d="M79 214l-1 0-7-2 1-2 1-1 1-1 1 0zM83 209l-3-2-5 1 4 6zM78 214l-7-2-1 1 5 4 3 0 1-1z" fill="#31d"/>
<path d="M85 208l4 1 2 4 0 1-6-1-2-4zM83 209l2 4-1 4-5-1-1-2 1 0z" fill="#69c"/>
<path d="M93 206l-4 3 2 4 2-1 1-1z" fill="#6c9"/>
<path d="M94 211l-1 1 3 2 4-1 1-1 0-3-1 0zM100 219l0-6-4 1-1 5 1 0 4 1zM100 219l6-1 0 1-2 4-3 2-1-5z" fill="#7d7"/>
<path d="M105 215l-4-3 0-3 3-2 3 2 1 2zM159 284l0-2 1-1 3-2 0 6-1 1z" fill="#b7c"/>
<path d="M124 216l-4-4 1-1 3-2 2 2zM126 219l-2-1 0-2 2-5 3 0-1 8zM134 271l-1 2 0 1 3 2 5-1 0-1-3-4-2 0zM128 284l0-6 2 0 4 3-1 2z" fill="#53d"/>
<path d="M129 211l3-5 5 2 0 2-5 2zM128 278l2 0 3-4 0-1-4-2-4 3z" fill="#64d"/>
<path d="M137 211l0-1-5 2 2 6 1 0z" fill="#58e"/>
<path d="M144 212l-1-2-1-3-4 0-1 1 0 2 0 1 2 1z" fill="#86d"/>
<path d="M149 209l3-1 3 3-6 3-1-1zM143 218l1 1 6 0 0-1-1-4-1-1-3 0zM142 218l-3 6 5 0 0-5-1-1z" fill="#76d"/>
<path d="M75 217l-2 4-5-1 0-6 2-1zM78 217l1 5-5 1-1-2 2-4zM105 310l7 1-2 5-2 1-3-1-1-5z" fill="#32d"/>
<path d="M84 217l1-4 6 1 0 5-6 0zM79 216l5 1 1 2-2 4-2 1-2-2-1-5z" fill="#59c"/>
<path d="M91 219l4 0 1-5-3-2-2 1 0 1z" fill="#8d8"/>
<path d="M100 219l0-6 1-1 4 3 1 3z" fill="#8d7"/>
<path d="M111 218l1-4 4-2 1 1 1 5z" fill="#a6c"/>
<path d="M119 219l-1-1-1-5 3-1 4 4 0 2zM94 366l2 1 5-1 1-1-8-6-1 5z" fill="#54d"/>
<path d="M129 211l-1 8 6-1-2-6zM140 217l-5 1 2-7 2 1zM79 369l-3 6-5-2 0-3 5-3z" fill="#57e"/>
<path d="M140 217l-1-5 5 0 1 1-2 5-1 0z" fill="#87d"/>
<path d="M156 215l1-2-1-1-1-1-6 3 1 4 5-2zM151 222l1 1 4-1-1-6-5 2 0 1z" fill="#cab"/>
<path d="M163 212l-1 0-5 1-1 2 5 4zM159 346l1 8 3-2 0-5-2-1z" fill="#c9a"/>
<path d="M163 212l0 8-1 0-1-1z" fill="#dab"/>
<path d="M68 220l5 1 1 2 0 2-6 0z" fill="#e4c"/>
<path d="M89 226l-1 0-5-3 2-4 6 0zM154 363l8 0 1 1-5 5-5-4zM158 369l5 1 0-6zM158 369l5 1 0 5-4 0-2-1z" fill="#e76"/>
<path d="M100 220l-4-1 0 6 5 1 0-1zM110 219l5 5-2 3-4 0-1 0zM70 233l-2-1 0-5 6 2 1 0-2 3zM107 230l-2 2-4-4 0-2 7 3zM112 234l1-6 6 3-2 4zM136 306l-3 0-2-2 4-5 4 2 0 2z" fill="#d4c"/>
<path d="M110 219l-4 0-2 4 4 4zM109 227l-1 2-7-3 0-1 3-2 4 4zM134 298l0-3-4-2-3 5 1 1zM111 298l3 0 0 6-1 1-5 0-1-3zM135 299l-4 5-3-1 0-4 6-1z" fill="#d5c"/>
<path d="M122 224l-4-1 1-4 5-1 2 1zM122 224l4-5 2 0 0 2-1 4-3 1zM124 226l-1 2 2 2 4-3-2-2z" fill="#9ad"/>
<path d="M128 221l5 4 2 0 1-1-1-6-1 0-6 1zM127 225l2 2 1 1 3-3-5-4z" fill="#11e"/>
<path d="M140 217l-5 1 1 6 2 0 1 0 3-6z" fill="#47d"/>
<path d="M151 222l-7 3 0-1 0-5 6 0zM151 222l1 1 0 5-4 1-3-2-1-2z" fill="#4bc"/>
<path d="M161 222l1-2-1-1-5-4-1 1 1 6 2 1zM87 238l2 6 6-2 0-2-5-3zM144 255l-2 3 5 3 3-3-1-1zM155 340l1-2 4-2 3 3 0 3-2 4-2 0-4-2zM163 342l0 5-2-1zM155 344l4 2 1 8-8-2 0-1 0-5z" fill="#c9b"/>
<path d="M163 225l-2-3 1-2 1 0zM68 358l0-5 1 0 4 3-2 2zM72 364l3 0 1 3-5 3-2-2zM68 375l3-2 0-3-2-2-1-1z" fill="#46d"/>
<path d="M68 225l0 2 6 2 0-4zM95 226l-4-7-2 7 5 1zM101 226l-5-1-1 1-1 1 1 4 3 0 3-3zM78 238l-1 0-4-6 2-3 1 1 2 1 1 4z" fill="#d3c"/>
<path d="M81 224l-5 6 2 1 5-1zM81 336l5 5-1 1-4 4-4-4 2-7zM139 351l4-1 3 3 0 4-3 2-4-2zM141 368l3 0 1-3-2-3-6 2 1 2zM138 374l0 1 8-2 0-1-2-4-3 0z" fill="#e67"/>
<path d="M81 224l2 6 1 0 4-4-5-3zM89 226l0 5-4 1-1-2 4-4zM94 227l1 4 0 1-4 1-2-2 0-5zM85 328l0 5-4 3-2-1 4-8zM85 333l3 2 2 5-4 1-5-5z" fill="#e66"/>
<path d="M119 229l-1-6-3 1-2 3 0 1 6 3zM119 229l4-1 2 2 1 3-1 1-6-3z" fill="#9bd"/>
<path d="M122 224l-4-1 1 6 4-1 1-2z" fill="#8ad"/>
<path d="M136 232l-1-7 1-1 2 0 3 6zM158 240l0 2-1 0-6 2 0-2 5-5zM139 250l0 2-2 3-5 0 5-7 1 1z" fill="#12d"/>
<path d="M141 230l4-3-1-2 0-1-5 0-1 0zM104 295l0-2-5 0-2 3 0 4 2 0 4-1zM127 354l-5-5 2-3 1 0z" fill="#5bd"/>
<path d="M157 229l0-1 1-5-2-1-4 1 0 5 0 1zM157 228l1-5 3-1 2 3 0 1-3 2zM144 244l7 2 0 1-1 3-4 0-2-1zM68 358l3 0-1 3-2 1zM68 362l0 5 1 1 3-4-2-3zM76 376l-8 0 0-1 3-2 5 2z" fill="#45d"/>
<path d="M163 231l-3-3 3-2zM161 234l2-1 0-2-3-3-3 0 0 1 2 5z" fill="#45e"/>
<path d="M79 235l-1-4 5-1 1 0 1 2-1 1zM77 285l4-1 3 1 0 4-6 0zM92 331l-4 4 2 5 5-3 1-3-3-3z" fill="#e56"/>
<path d="M112 234l-1 0-4-4 1-1 1-2 4 0 0 1z" fill="#d6b"/>
<path d="M126 233l5-2-1-3-1-1-4 3zM125 234l3 4 5 0 2-4-4-3-5 2zM129 245l-3-4 2-3 5 0-2 5zM142 242l-2-1-6-2 1 4 5 1zM138 249l-1-1-3-1 1-2 0-2 5 1z" fill="#01d"/>
<path d="M136 232l0 2-1 0-4-3-1-3 3-3 2 0zM140 236l-4-2-1 0-2 4 1 1 6 2zM129 247l0-2 2-2 4 2-1 2-4 1zM130 248l1 6 1 1 5-7-3-1z" fill="#02d"/>
<path d="M136 232l0 2 4 2 4-1-3-5zM144 235l-3-5 4-3 3 2-2 6-1 0z" fill="#3bc"/>
<path d="M152 229l0-1-4 1-2 6 4 0 3-1z" fill="#5bc"/>
<path d="M159 234l-2-5-5 0 1 5 3 3zM83 364l-3 4-1 1-3-2-1-3 3-5 5 3z" fill="#56d"/>
<path d="M75 239l-4 0-1-6 3-1 4 6z" fill="#e63"/>
<path d="M79 239l6-1-1-5-5 2-1 3z" fill="#c7a"/>
<path d="M84 233l1-1 4-1 2 2-1 4-3 1-1 0-1 0zM86 238l-3 8 6-1 0-1-2-6zM139 261l0 3 1 1 5 0 1-2z" fill="#c8b"/>
<path d="M90 237l5 3 2-2-2-6-4 1zM100 238l-3 0-2-6 0-1 3 0 4 4zM101 244l-5 0-1-2 0-2 2-2 3 0 2 3z" fill="#c5c"/>
<path d="M108 239l-6 2-2-3 2-3 2-1z" fill="#c6c"/>
<path d="M119 231l-2 4 0 1 3 2 5-4zM121 247l-3 3-4-6 1-1 3-1z" fill="#29d"/>
<path d="M125 234l-5 4 1 1 2 3 3-1 2-3z" fill="#18d"/>
<path d="M142 242l3-7-1 0-4 1 0 5z" fill="#13e"/>
<path d="M146 235l2 6 3 1-1-7z" fill="#02e"/>
<path d="M153 234l-3 1 1 7 5-5zM163 238l-1 1-4 1-2-3 3-3 2 0zM163 238l-1 1 1 3zM156 248l-5-1 0-1 0-2 6-2zM158 249l2-3 0-3-2-1-1 0-1 6zM110 316l5 0 2-2 0-2-3-3-2 2z" fill="#22d"/>
<path d="M163 238l0-5-2 1z" fill="#33d"/>
<path d="M74 246l-1 0-5-4 0-1 3-2 4 0zM98 341l-3-4 1-3 4-1 2 5zM107 339l-5-1-2-5 7 1 1 3z" fill="#e54"/>
<path d="M79 239l1 3 3 4 3-8-1 0z" fill="#c8a"/>
<path d="M121 239l-1-1-3-2-2 4 0 3 3-1z" fill="#1ad"/>
<path d="M122 247l1-5-2-3-3 3 3 5z" fill="#19d"/>
<path d="M135 245l0-2-1-4-1-1-2 5z" fill="#03d"/>
<path d="M142 242l3-7 1 0 2 6z" fill="#13d"/>
<path d="M142 242l6-1 3 1 0 2 0 2-7-2z" fill="#03e"/>
<path d="M162 239l1 3-3 1-2-1 0-2z" fill="#21d"/>
<path d="M68 250l0-8 5 4z" fill="#e42"/>
<path d="M74 246l-1 0-5 4 2 3zM76 248l-3 6 3 2 1-1 4-6zM147 339l2 6-4 1-5-6 0-1 6-1z" fill="#e32"/>
<path d="M89 252l-6-4 0-2 6-1 2 4z" fill="#b99"/>
<path d="M94 249l-3 0-2-4 0-1 6-2 1 2-1 3zM101 244l-5 0-1 3 6 3 0-5zM101 245l0 5 0 1 5-3 0-2zM99 254l-1 0-4-5 1-2 6 3 0 1 0 2zM94 261l-3-6 7-1z" fill="#d7a"/>
<path d="M109 243l-3 3 0 2 2 2 2 0 2-6zM112 244l-2 6 1 0 7 0-4-6z" fill="#d26"/>
<path d="M122 247l3 1 4-1 0-2-3-4-3 1z" fill="#2ad"/>
<path d="M142 242l2 2 0 5-5 1-1-1 2-5zM144 255l5 2 1-6 0-1-4 0z" fill="#35d"/>
<path d="M160 246l3 1 0-5-3 1z" fill="#23d"/>
<path d="M74 246l-4 7 1 1 2 0 3-6-1-1zM146 338l-6 1-1 0 0-3 0-2 4-3 4 3zM147 339l4-1-1-5-3 1-1 4z" fill="#e31"/>
<path d="M80 257l-3-2 4-6 1 0 1 6zM88 255l-2 1-3-1-1-6 1-1 6 4 0 2z" fill="#baa"/>
<path d="M91 255l7-1-4-5-3 0-2 3 0 2zM159 282l1-1-2-5-3 0-1 1 1 4zM161 274l2 0 0 5-3 2-2-5zM113 291l4-1 2 2 0 1-5 0-1-1zM114 360l-5 3-2-1 4-5zM114 360l2 1-4 6-1 0-2-4zM102 365l6 4 0 3-5 2-1 0-1-8z" fill="#d7b"/>
<path d="M101 253l0-2 5-3 2 2-2 4zM118 250l-7 0 0 3 3 2zM108 257l1 1 4 1 1-4-3-2-3 3z" fill="#d24"/>
<path d="M108 256l3-3 0-3-1 0-2 0-2 4z" fill="#d25"/>
<path d="M122 247l3 1 0 6-1 1-5-3-1-2 3-3z" fill="#58d"/>
<path d="M129 247l-4 1 0 6 6 0-1-6zM122 260l1-1 1-4-5-3-1 5z" fill="#48c"/>
<path d="M139 250l0 2 5 3 2-5-2-1z" fill="#34d"/>
<path d="M70 253l1 1 0 1-3 1 0-6zM145 316l-5 2 6 5 2-1 2-2-2-3zM138 351l-1-3 3-8 5 6-2 4-4 1zM149 345l-4 1-2 4 3 3 6-2 0-5z" fill="#e21"/>
<path d="M84 261l-3-3-1-1 3-2 3 1-1 5zM84 261l-3-3-3 4 0 1 6-1zM85 261l1-5 2-1 2 8zM84 262l-6 1 0 1 2 3 2 0 2-1zM84 266l-2 1 1 1 4 3 2-2 0-3z" fill="#cb9"/>
<path d="M94 261l-2 1-2 1-2-8 1-1 2 1zM139 285l0 2-4 1-1 0-1-5 1-2z" fill="#dba"/>
<path d="M99 254l-1 0-4 7 3 0 4-1zM97 261l-3 0-2 1 4 7 2-4zM101 260l-4 1 1 4 5-2 0-2zM90 263l2-1 4 7-2 1-5-1 0-3z" fill="#c99"/>
<path d="M108 257l-5 4-2-1-2-6 2-1 5 1 2 2z" fill="#d8b"/>
<path d="M118 257l1-5-1-2-4 5-1 4 1 0z" fill="#47c"/>
<path d="M124 255l-1 4 2 1 6 0 1-5-1-1-6 0zM139 261l-8 1 0-2 1-5 5 0 2 4zM139 261l-8 1 0 3 4 1 4-2z" fill="#db8"/>
<path d="M139 252l-2 3 2 4 3-1 2-3z" fill="#33e"/>
<path d="M68 265l0-9 3-1 0 7-1 2zM70 264l1-2 5-1 2 1 0 1 0 1-4 2z" fill="#e72"/>
<path d="M84 261l1 0 5 2-1 3-5 0 0-4z" fill="#cba"/>
<path d="M108 257l1 1 0 6-2 1-3-1-1-1 0-2zM107 265l-3-1-2 4 2 4 5-4z" fill="#cbb"/>
<path d="M114 259l-1 0-4-1 0 6 5-1 0-1z" fill="#dcc"/>
<path d="M139 261l0-2 3-1 5 3-1 2zM145 265l1 4 4 1 2-2 0-1-6-4zM101 275l-5-6-2 1 0 6 3 2zM97 280l-4 2-2 0-1-5 4-1 3 2zM108 317l3 4 1 1 4-1-1-5-5 0z" fill="#b9b"/>
<path d="M152 267l-6-4 1-2 3-3 1 1 1 1z" fill="#b8b"/>
<path d="M162 266l1 0 0-6-3 2z" fill="#a4e"/>
<path d="M68 265l0 3 5 3 2-3-1-2-4-2z" fill="#e82"/>
<path d="M80 267l-2-3-4 2 1 2 4 1z" fill="#e93"/>
<path d="M98 265l-2 4 6-1 2-4-1-1zM126 364l4 5 2 0 1-4-3-2zM136 374l0 1-9-2 3-4 2 0 3 3zM138 374l3-6-3-2-3 6 1 2zM135 376l-8 0-1-3 1 0 9 2z" fill="#d99"/>
<path d="M111 269l-2-1-2-3 2-1 5-1-1 6z" fill="#caa"/>
<path d="M130 265l4 6 2-1-1-4-4-1z" fill="#dc8"/>
<path d="M139 264l-4 2 1 4 2 0 2-3 0-2z" fill="#db7"/>
<path d="M68 276l0-8 5 3 1 3-1 1-2 1zM68 279l2 3 1-6-3 0zM73 275l1-1 5 0 0 3-4 5zM75 284l2 1 4-1 1-5-3-2-4 5zM68 289l0-5 2-1 4 1-4 6zM78 289l-6 3 3 4 4-4z" fill="#e3a"/>
<path d="M79 269l-4-1-2 3 1 3 5 0zM68 279l0 5 2-1 0-1zM70 290l1 1 1 1 6-3-1-4-2-1-1 0z" fill="#e29"/>
<path d="M83 268l-1 6-3 0 0-5 1-2 2 0zM83 268l4 3-1 3-4 0zM79 274l0 3 3 2 3-1 1-4-4 0z" fill="#e47"/>
<path d="M90 277l-4-3 1-3 2-2 5 1 0 6zM87 284l-3 1-3-1 1-5 3-1 1 4zM146 372l5-4 1-2-5-2-2 1-1 3zM138 375l1 1 7 0 0-3zM146 372l8 3 0 1-8 0 0-3z" fill="#e57"/>
<path d="M101 275l-5-6 6-1 2 4 0 2-1 1zM97 280l0-2 4-3 2 0-1 5-4 1zM103 275l1-1 3 3 1 2-3 3-3-2z" fill="#bab"/>
<path d="M111 269l-2-1-5 4 0 2 3 3 4-3zM114 275l3-5-4-1-2 0 0 5zM114 275l1 5-4 1-3-2-1-2 4-3z" fill="#cd9"/>
<path d="M114 275l8 0 1-1-2-4-1-1-3 1zM128 278l-3-4-2 0-1 1-2 4 3 3z" fill="#cd8"/>
<path d="M129 266l-7 2-1 2 2 4 2 0 4-3zM141 284l2 0 4 1-1 4 0 1-5 0-2-3 0-2z" fill="#cd7"/>
<path d="M130 265l-1 1 0 5 4 2 1-2z" fill="#dc7"/>
<path d="M146 269l4 1-1 4-7-1 2-3z" fill="#73d"/>
<path d="M152 268l2 2 1 6-1 1-2 0-3-3 1-4z" fill="#c6a"/>
<path d="M161 274l-1-4-6 0 1 6 3 0zM155 281l-1-4-2 0-3 4 1 2 2 1z" fill="#c7b"/>
<path d="M160 268l0 2 1 4 2 0 0-8-1 0z" fill="#c6b"/>
<path d="M114 275l8 0-2 4-3 2-2-1z" fill="#dd8"/>
<path d="M135 280l1-4-3-2-3 4 4 3z" fill="#73e"/>
<path d="M141 279l0-3 0-1-5 1-1 4zM141 284l0-5-6 1-1 1 5 4z" fill="#74d"/>
<path d="M142 273l-1 1 0 1 0 1 5 2 3-4zM141 284l2 0 4-4-1-2-5-2 0 3z" fill="#84d"/>
<path d="M70 282l0 1 4 1 1 0 0-2-2-7-2 1z" fill="#e2a"/>
<path d="M97 280l-4 2 1 5 5-2-1-4z" fill="#d36"/>
<path d="M98 281l1 4 1 1 1 0 3-2 1-2-3-2z" fill="#d35"/>
<path d="M111 285l-3 2-4-3 1-2 3-3 3 2zM117 286l1-1-1-4-2-1-4 1 0 4 0 1 2 1zM111 286l-1 5-3-3 1-1 3-2zM107 288l-3 2 0 3 0 2 4 0 2-3 0-1zM113 291l0-4-2-1-1 5 0 1 3 0zM150 300l-4 1-5-2 1-2 6-1zM139 303l0-2 2-2 5 2 1 4-2 4zM150 300l1 1 0 2-4 2-1-4zM113 353l-2 4-4-5 2-3zM118 351l2 5-3 5-1 0-2-1-3-3 2-4zM111 357l-8 0 1 5 3 0zM109 363l2 4-3 2-6-4 2-3 3 0zM101 376l1-2 1 0 2 2zM113 376l-8 0-2-2 5-2 5 3z" fill="#d8c"/>
<path d="M123 287l-5-2-1-4 3-2 3 3 1 2zM123 287l-4 5-2-2 0-4 1-1zM123 287l-4 5 0 1 2 4 4-5-2-4z" fill="#bbc"/>
<path d="M147 285l3-2-1-2-2-1-4 4z" fill="#cd6"/>
<path d="M159 284l0-2-4-1-3 3 0 1 5 1zM162 286l1-1 0 7-3-1z" fill="#a8c"/>
<path d="M99 285l1 1-2 5-5-2 1-2zM97 296l2-3-1-2-5-2-1 1 1 4z" fill="#d46"/>
<path d="M108 287l-4-3-3 2 3 4 3-2z" fill="#e8c"/>
<path d="M113 291l0-4 4-1 0 4zM146 290l3 4-1 2-6 1-1-4 0-3zM101 355l2 2 8 0-4-5-5 1zM113 375l-5-3 0-3 3-2 1 0 3 3z" fill="#d7c"/>
<path d="M128 284l5-1 1 5-3 1-1-1zM135 288l-1 0-3 1-1 3 0 1 4 2 1-1zM141 290l0 3-6 1 0-6 4-1z" fill="#dbb"/>
<path d="M152 285l0 2-6 2 1-4 3-2 2 1z" fill="#bd5"/>
<path d="M159 284l-2 2 0 4 2 1 1 0 2-5zM108 317l3 4-6 3-1-6 1-2z" fill="#b9c"/>
<path d="M68 289l0 4 1 0 2-2-1-1z" fill="#e39"/>
<path d="M71 291l1 1-3 7-1 0 1-6z" fill="#89d"/>
<path d="M85 292l0 2 4 4 4-4-1-4-2-1z" fill="#5db"/>
<path d="M104 290l0 3-5 0-1-2 2-5 1 0z" fill="#d37"/>
<path d="M153 290l-1 3-3 1-3-4 0-1 6-2z" fill="#be6"/>
<path d="M159 291l-1 4 2 1 3-4-3-1zM156 296l0 3-5 2-1-1-2-4 1-2 3-1zM163 298l0 8-4 0-2-5z" fill="#c9c"/>
<path d="M68 293l0 6 1-6zM73 305l1 0 1-7 0-1-6 2-1 0 0 3z" fill="#99d"/>
<path d="M79 292l4 3-3 4-5-1 0-1 0-1zM81 302l-1-3-5-1-1 7 6-1z" fill="#88d"/>
<path d="M81 302l8 0 1-1-1-3-4-4-2 1-3 4z" fill="#4da"/>
<path d="M95 301l-5 0-1-3 4-4 4 2 0 4zM85 355l2-3-6-5-5 5 0 3 1 1zM93 364l1-5-3-1-3 2 1 3zM87 366l-4-2-3 4 8 2 0-1zM94 366l-6 3-1-3 2-3 4 1zM88 370l-8-2-1 1 6 5 3-2zM88 372l6 2-1 2-7 0-1-1 0-1z" fill="#49d"/>
<path d="M114 293l0 5 7-1-2-4z" fill="#c7d"/>
<path d="M121 297l6 1 3-5 0-1-5 0zM121 297l0 7-7 0 0-6z" fill="#c6d"/>
<path d="M158 295l2 1 3 2-6 3-1-2 0-3z" fill="#dac"/>
<path d="M163 298l-3-2 3-4zM152 304l-1-1 0-2 5-2 1 2 2 5-2 1z" fill="#cac"/>
<path d="M81 302l8 0 0 4-1 1-7-1-1-2zM86 311l7 2 1-2 0-1-5-4-1 1zM84 313l2 4-7 2-2-2 4-5z" fill="#4d4"/>
<path d="M94 310l1-3 0-6-5 0-1 1 0 4zM118 351l0-1 4-1 5 5 0 1-2 1-5 0z" fill="#4bd"/>
<path d="M100 304l0-1-1-3-2 0-2 1 0 6zM86 360l-1-5 2-3 1 1 3 5-3 2zM83 362l-5-3-1-3 8-1 1 5zM85 374l0 1-1 1-8 0 0-1 3-6zM86 376l-2 0 1-1z" fill="#4ad"/>
<path d="M106 307l2-2-1-3-4-3-4 1 1 3z" fill="#5be"/>
<path d="M73 305l1 0 6-1 1 2-1 4-7 0 0-2z" fill="#93d"/>
<path d="M86 311l2-4-7-1-1 4 1 2 3 1z" fill="#4d3"/>
<path d="M94 311l1 0 5-1 0-6-5 3-1 3zM92 318l3 2 5-2-5-7-1 0-1 2-1 4z" fill="#3ab"/>
<path d="M100 304l0-1 6 4-1 3-1 1-4-1z" fill="#39b"/>
<path d="M105 310l7 1 2-2-1-4-5 0-2 2z" fill="#32e"/>
<path d="M123 306l-2-2-7 0-1 1 1 4 3 3 3-1z" fill="#eb2"/>
<path d="M129 311l-3 3-2 0-4-3 3-5 1 0z" fill="#fe0"/>
<path d="M131 304l2 2-4 5-5-5 4-3z" fill="#ed2"/>
<path d="M136 306l-3 0-4 5 5 2 3 0zM117 314l4 4 0 3-3 1-2-1-1-5z" fill="#fc3"/>
<path d="M136 306l1 7 1 1 7-5-6-6zM145 309l-7 5 1 3 0 1 1 0 5-2z" fill="#e11"/>
<path d="M149 310l3-6-1-1-4 2-2 4zM126 334l2 0 3-1 2-5-2-1-6 3zM126 334l0 3 4 7 3-2-5-8zM134 341l3 7 3-8 0-1-1 0z" fill="#e10"/>
<path d="M68 309l5-1 0 2 0 6-5 0z" fill="#a3d"/>
<path d="M81 312l-4 5-2 0-2-1 0-6 7 0z" fill="#83d"/>
<path d="M86 311l7 2-1 4-4 1-2-1-2-4z" fill="#3d4"/>
<path d="M100 318l-5-7 5-1 4 1 1 5-1 2-2 1z" fill="#3ac"/>
<path d="M120 311l-3 1 0 2 4 4 3-4z" fill="#fc1"/>
<path d="M129 311l-3 3 3 6 1 0 4-7zM123 328l-5 1-2-1 2-6 3-1 3 2z" fill="#ed3"/>
<path d="M138 314l1 3-9 3 4-7 3 0z" fill="#fa3"/>
<path d="M150 310l-2 7-3-1 0-7 4 1zM150 310l5 2 1 1-6 6 0 1-2-3zM130 346l7 2-3-7-1 1-3 2-1 1zM138 351l-1-3-7-2 1 4 4 1z" fill="#e01"/>
<path d="M73 325l2-8-2-1-5 0 0 8 4 2zM68 332l4-6-4-2zM138 351l-3 0-3 6 4 2 3-2 0-6zM127 355l4 2-1 6-4 1-1 0 0-8zM132 357l-1 0-1 6 3 2 3-1 0-5z" fill="#e13"/>
<path d="M73 325l2-8 2 0 2 2 1 3 0 1zM79 335l-2 7-1 0-3-1 0-1 1-5 3-1z" fill="#e26"/>
<path d="M87 321l-7 1-1-3 7-2 2 1zM91 324l1-6 0-1-4 1-1 3 0 3z" fill="#e88"/>
<path d="M91 324l2 1 3-1-1-4-3-2z" fill="#c95"/>
<path d="M98 326l-2-2-1-4 5-2 2 1z" fill="#da6"/>
<path d="M126 314l-2 0-3 4 0 3 3 2 4-2 1-1z" fill="#fd3"/>
<path d="M139 317l-9 3 7 4 0-1 2-5z" fill="#ec2"/>
<path d="M140 318l6 5-1 0-8 0 2-5zM131 333l8 3 0-2-3-7-3 1zM128 334l5 8 1-1 5-2 0-3-8-3z" fill="#e00"/>
<path d="M155 321l3-3 0-1-2-4-6 6zM156 324l6 2 0 2-3 2-7 0-1-2zM163 329l-1-1 0-2 1-3zM137 326l-1 1 3 7 4-3 1-2-1-3zM147 339l2 6 3 1 3-2 0-4-4-2z" fill="#e40"/>
<path d="M155 321l3-3 5 5-1 3-6-2zM163 335l0 4-3-3z" fill="#e60"/>
<path d="M158 317l5-1 0 7-5-5z" fill="#e50"/>
<path d="M73 325l7-2 1 3-5 4-4-4z" fill="#e25"/>
<path d="M85 328l1 0 1-4 0-3-7 1 0 1 1 3 2 1z" fill="#e77"/>
<path d="M91 324l2 1-2 5-5-2 1-4zM148 359l-2-2 0-4 6-2 0 1 0 7zM148 359l-1 5-2 1-2-3 0-3 3-2zM148 359l-1 5 5 2 1-1 1-2-1-4-1 0z" fill="#e78"/>
<path d="M98 326l-5 5-1 0-1-1 2-5 3-1z" fill="#c94"/>
<path d="M98 326l3 2 4-2 0-2-1-6-2 1z" fill="#c96"/>
<path d="M125 330l-2-2 1-5 4-2 3 6z" fill="#fb3"/>
<path d="M137 324l-7-4-1 0-1 1 3 6 2 1 3-1 1-1z" fill="#eb3"/>
<path d="M137 323l8 0-2 3-6 0 0-2zM151 328l-7 1-1-3 2-3 1 0 2-1zM150 333l2-2 0-1-1-2-7 1-1 2 4 3z" fill="#e20"/>
<path d="M155 321l-5-2 0 1-2 2 3 6 5-4zM150 333l2-2 4 7-1 2-4-2z" fill="#e51"/>
<path d="M72 326l-4 6 0 2 6 1 3-1-1-4z" fill="#e15"/>
<path d="M83 327l-2-1-5 4 1 4 2 1zM160 354l3-2 0 4-2 0-1-1zM162 363l-1-7 2 0 0 8z" fill="#e55"/>
<path d="M100 333l1-5 4-2 3 2-1 6zM107 339l-2 6 4 2 3-1 0-1 0-2zM119 342l3 0 2 4-2 3-4 1 0-6zM129 345l1-1-4-7-4 5 2 4 1 0zM109 347l-4-2-3 1-1 5 1 2 5-1 2-3zM118 351l-6-5-3 1 0 2 4 4zM118 344l0 6 0 1-6-5 0-1z" fill="#5cd"/>
<path d="M108 337l-1-3 1-6 3 0 3 1 0 5-2 2z" fill="#5dd"/>
<path d="M119 336l1-1-2-6-2-1-2 1 0 5zM126 334l-6 1-2-6 5-1 2 2zM126 334l0 3-4 5-3 0-1-2 1-4 1-1z" fill="#7db"/>
<path d="M159 330l-7 0 0 1 4 7 4-2z" fill="#e70"/>
<path d="M163 329l-1-1-3 2 1 6 3-1z" fill="#e80"/>
<path d="M73 340l-5-2 0-4 6 1z" fill="#e17"/>
<path d="M107 339l5 4 3-3-3-4-4 1z" fill="#6ed"/>
<path d="M73 340l-5-2 0 6 5-3zM77 342l-1 0-4 5 0 1 4 4 5-5 0-1z" fill="#5d7"/>
<path d="M73 341l-5 3 0 2 4 1 4-5z" fill="#4d6"/>
<path d="M85 342l5 6 3-1 0-1-3-6-4 1zM81 346l0 1 6 5 3-4-5-6z" fill="#25d"/>
<path d="M98 344l-5 2-3-6 5-3 3 4z" fill="#3d9"/>
<path d="M98 344l4 2 3-1 2-6-5-1-4 3zM93 347l1 3 0 3-6 0-1-1 3-4z" fill="#3d8"/>
<path d="M115 340l3 0 1 2-1 2-6 1 0-2zM127 355l4-5-1-4-1-1-4 1 2 8z" fill="#4cd"/>
<path d="M72 348l-3 5-1 0 0-7 4 1z" fill="#5d8"/>
<path d="M98 344l-5 2 0 1 1 3 7 1 1-5z" fill="#4d9"/>
<path d="M72 348l-3 5 4 3 3-1 0-3z" fill="#4e7"/>
<path d="M88 353l6 0 2 4-2 2-3-1zM89 363l-1-3-2 0-3 2 0 2 4 2z" fill="#38d"/>
<path d="M101 355l-5 2-2-4 0-3 7 1 1 2z" fill="#3da"/>
<path d="M135 351l-4-1-4 5 4 2 1 0z" fill="#e12"/>
<path d="M70 361l2 3 3 0 3-5-1-3-1-1-3 1-2 2z" fill="#57d"/>
<path d="M101 355l-5 2-2 2 8 6 2-3-1-5zM94 366l2 1-2 7-6-2 0-2 0-1z" fill="#55d"/>
<path d="M125 356l-5 0-3 5 4 4 1 0 3-1z" fill="#d47"/>
<path d="M139 357l4 2 0 3-6 2-1 0 0-5z" fill="#e79"/>
<path d="M160 355l1 1 1 7-8 0-1-4z" fill="#e43"/>
<path d="M115 370l-3-3 4-6 1 0 4 4-3 4z" fill="#8db"/>
<path d="M126 373l-1 0-3-8 3-1 1 0 4 5-3 4zM113 376l3 0 4-2-2-5-3 1-2 5z" fill="#8cb"/>
<path d="M135 372l-3-3 1-4 3-1 1 0 1 2z" fill="#d89"/>
<path d="M101 376l1-2-1-8-5 1-2 7z" fill="#44d"/>
<path d="M118 369l3-4 1 0 3 8-3 1-2 0zM116 376l5 0 1-2-2 0z" fill="#8ca"/>
<path d="M146 372l5-4 4 7-1 0z" fill="#e68"/>
<path d="M93 376l1-2 7 2z" fill="#66d"/>
<path d="M127 376l-6 0 1-2 3-1 1 0z" fill="#9cb"/>
<path d="M138 374l0 1 1 1-4 0 1-1 0-1z" fill="#d88"/>
</g>
<g stroke="#f4f0f4" stroke-opacity="0.2" stroke-width="0.5"><path d="M127.2 314.1 122.3 327.9 115 329.2 108 322.3 105.3 308.5 115.4 303.2 125 310z" fill="#f6e672"/><path d="M124.1 318.3 120.2 324.3 112.5 323.1 108.9 318.1 111.5 310.9 120.1 310.1z" fill="#f8e49a"/><path d="M149.7 310.9 147.6 319.9 134.6 321.7 129.1 318.4 129.2 306.5 139.4 299.5 146.4 305z" fill="#f04454"/><path d="M163 327.1 160.8 335.9 155.5 339.6 148.2 337.3 144.8 322.5 146.9 317.2 153.2 313.3 162 315.7z" fill="#f07040"/><path d="M142.5 337.2 139.9 347 132.7 352.4 124.7 347.7 120.4 339.5 123.2 326.3 133.5 323.5 138.7 326.3z" fill="#f03838"/><path d="M109.8 305.5 105.3 316.5 100.3 313.7 97.1 308.3 100.2 299.3 106.6 300.9z" fill="#4050f0"/><path d="M91.2 308.7 87.2 314.8 83.5 315.5 76.8 313.1 77 306.8 82.8 303.7 89.2 305.6z" fill="#60e060"/><path d="M83.6 322.4 77.5 328.5 72.1 329.4 68 322.9 69.1 315.9 77.9 314.4z" fill="#f06080"/><path d="M120 338.5 120.1 341.3 111.3 343.6 104.5 343.8 101.2 335.5 104.4 330 109.3 330.3 118.1 331.1z" fill="#70e0e0"/><path d="M92.1 343.1 90.2 347.8 82.7 349.3 78.3 345.3 77.3 339 84 335.3 91.1 337.2z" fill="#5070e8"/><path d="M143.5 243.9 137.6 262.6 128.2 260.3 119.4 253.7 122.5 238.5 127.9 230.7 139 232.8z" fill="#4050e8"/><path d="M163 237.6 161.5 243.3 151.7 244.7 146.2 242.3 142.2 236 146.6 230.9 153.7 231.6 159.3 232.3z" fill="#5058e8"/><path d="M150.8 227.6 148.6 231.1 141.3 231.6 137.6 229 138.4 226.3 141.1 224 147.7 225.3z" fill="#80e0a0"/><path d="M114.5 229.1 111 241.1 98 241.1 92.7 235.6 90.9 228 100.2 218.7 111 223.9z" fill="#e070d0"/><path d="M78.1 252.6 76 260.6 69.8 261.3 68 249.8 69.4 243.7 75.5 243.3z" fill="#f07050"/><path d="M157.1 255.8 143.8 261 121.7 261.1 111 257.7 121.3 252.9 149.7 252.9z" fill="#f0e080"/><path d="M163 267.7 158.9 272.4 143.5 274.5 127.6 269.2 130 261.6 141.3 259.7 157.7 260.6z" fill="#9070e8"/><path d="M91.2 283.5 87.5 290.6 77.5 292.8 68.9 290.8 68 280.8 68.6 274.7 78.8 270.6 90.6 274.6z" fill="#f070b0"/></g>
<rect x="68" y="55" width="95" height="119" fill="url(#nz)" opacity="0.12"/>
<rect x="68" y="174" width="95" height="202" fill="url(#nz)" opacity="0.08"/>
<rect x="172" y="8" width="93" height="367" fill="url(#nz)"/>
<g stroke="#f4f0f4" stroke-opacity="0.45" stroke-width="0.6">
<path d="M258 82l4-1 1 2 0 1-4-1z" fill="#f28"/>
<path d="M263 86l2 0 0-4-2 1 0 1z" fill="#f46"/>
<path d="M256 85l0 3 2 0 2-1-1-2zM265 90l-1 1-2-2 0-2 1-1 2 2z" fill="#e57"/>
<path d="M263 86l0-2-4-1 0 2 1 2 2 0zM261 103l3-1 0-1-1 0-2-1-2 1 1 2z" fill="#f27"/>
<path d="M262 87l-2 0-2 1 0 3 2 1 2-3z" fill="#f58"/>
<path d="M246 94l0-1 2-2 1 1 1 0-1 2zM220 201l0-3 3-1 1 3-1 1z" fill="#f37"/>
<path d="M257 95l-1 0 2-3 0-1 2 1 0 1zM199 208l3 0-1 4-3-2z" fill="#f05"/>
<path d="M265 90l-1 1 0 2 1 0zM203 219l-3-1 0-3 1 0 3 2z" fill="#f04"/>
<path d="M246 96l-2 1-2-3 2-2 2 1 0 1zM172 103l2 3 2 0 0-2-1-2zM184 107l-1 1-3 0 0 2 0 1 2 2 3-5zM182 124l1-2-2-2-1 0 0 2 1 2z" fill="#f69"/>
<path d="M260 93l0-1 3 2-1 2-2 1zM217 121l0-1 2-2 3 2-1 2z" fill="#f12"/>
<path d="M265 93l0 4-2 0-1-1 1-2 1-1zM203 213l-2 0 0 1 0 1 3 2 2 0-1-3z" fill="#f23"/>
<path d="M245 101l2-2-1-3-2 1-1 1 1 2z" fill="#f68"/>
<path d="M251 100l1 1 1 0 2-2 0-2-4 2zM223 205l1-1-1-3-3 0 2 4z" fill="#f24"/>
<path d="M257 95l-1 0-1 0 0 2 0 2 3 1 1-3zM257 104l3-1 1 0 0 3-2 0-1-1zM195 210l-1 1 3 3 1-1-1-3z" fill="#f13"/>
<path d="M184 105l-1-1-3 0 3 4 1-1zM180 111l-3 1 0 1 2 2 0 1 2 0 1-3z" fill="#f6a"/>
<path d="M253 106l3-2 0-2-3-1-1 0 0 3 0 2zM203 219l-3-1-1 2 1 3 3-2z" fill="#f06"/>
<path d="M180 110l-4-1 1-3 2 0 1 2zM236 210l-1-1 3-4 0 3z" fill="#e68"/>
<path d="M265 105l0 4-2-1-1-1z" fill="#f07"/>
<path d="M180 110l-4-1 0 1 1 2 3-1z" fill="#f5a"/>
<path d="M256 115l3-3-1-2-1-1-2 3z" fill="#e04"/>
<path d="M263 108l2 1 0 4-1 0-2-2z" fill="#f18"/>
<path d="M172 115l0-3 1 0 1 2 0 1zM227 203l1-2-1 0-3-1-1 1 1 3z" fill="#f47"/>
<path d="M184 116l-2 0-1 0 1-3 3 0 1 2zM252 177l-1 1-4-1 1-3 2-1 2 3z" fill="#86f"/>
<path d="M185 118l-1-2-2 0 0 3 1 0zM176 143l-2 1-2 0 0-2 3-2 2 1z" fill="#65f"/>
<path d="M222 115l-3 1 0 2 3 2 1-2zM197 210l1 3 3 1 0-1 0-1-3-2zM200 218l-1 2-3-2 0-1 1-1 3-1z" fill="#f01"/>
<path d="M226 116l3 3 1-1-2-2-1 0zM229 122l-2 3-2-1 0-3 1-1 2 0z" fill="#f15"/>
<path d="M255 120l-2-2 1-2 2-1 0 1 0 1z" fill="#b4f"/>
<path d="M262 115l3 1 0 3-2 0 0-1-1-2zM220 181l3-4 1 3-2 2z" fill="#95f"/>
<path d="M172 118l1 2-1 1z" fill="#f7a"/>
<path d="M173 120l3 1 1-2-2-2-3 1z" fill="#f8c"/>
<path d="M180 120l-3-1-1 2 0 1 1 1 3-1zM234 124l-2 1 0 3 2 1 2-1zM231 171l2 0 2 1 0 1-4 2 0-3zM241 199l-3-3-1 2 0 1 2 1z" fill="#f6b"/>
<path d="M187 120l0-1-2-1-2 1 2 2 1 0zM182 124l1-2 2-1 1 0 0 3-3 1zM196 178l-4 1-1 0 1-3 1-1 4 1z" fill="#76f"/>
<path d="M191 121l-1 2-3-3 0-1 1-1 2 0 1 2zM191 124l3-1 0 1-2 4-1-1-1-3zM226 176l2 4 1 0 2-1 0-2 0-1-4-1z" fill="#98f"/>
<path d="M210 119l-1-2-3 3 2 2 1 0 1-2zM218 205l2 0 2 0-2-4-2 1zM224 208l3 3 1-1-1-4-2 1z" fill="#f57"/>
<path d="M226 116l0 2 0 2 2 0 1-1z" fill="#f11"/>
<path d="M229 119l-1 1 1 2 3-2-1-1-1-1zM224 125l1-1 0-3-3-1-1 2 0 3 1 0zM197 214l0 2-1 1-2-1-1-3 1-2z" fill="#f03"/>
<path d="M255 120l2 0-1-3z" fill="#94e"/>
<path d="M259 121l3 1 1-3 0-1-4 2z" fill="#c4f"/>
<path d="M186 125l4-1 1 0-1-1-3-3-1 1 0 3zM181 172l-1 0-1-2 0-2 4 0zM197 176l-3-4-2 1 1 2z" fill="#56f"/>
<path d="M210 120l-1 2 2 2 1 0 1 0 1-1-1-3zM203 189l0-2 0-1 3 1 0 1-2 2-1 0zM209 195l0-2-4-2 0 4 1 0zM233 198l0-2 4 2 0 1-2 2zM241 205l-3 0-2-1 3-3 1 1 1 2z" fill="#f79"/>
<path d="M213 124l1-1 3-1 1 3-3 1zM205 163l0-1-4 0 3 2zM249 215l1-1 2 0 0 2-2 2-2-1 0-1z" fill="#f66"/>
<path d="M229 122l3 3-4 1-1-1z" fill="#f02"/>
<path d="M259 125l-1-1 1-3 3 1 0 1 1 1-1 1z" fill="#c5f"/>
<path d="M181 124l-4 1 0 1 2 2z" fill="#e7b"/>
<path d="M187 128l2 0 2-1-1-3-4 1 0 2zM195 162l1-1-1 0-4 0 2 3z" fill="#97f"/>
<path d="M221 128l1-3-1 0-3 0 0 3z" fill="#f2f"/>
<path d="M224 128l4 0 0-2-1-1-2-1-1 1z" fill="#f1f"/>
<path d="M232 125l-4 1 0 2 1 1 2 0 1-1zM196 142l1 2-3 1-2-1 1-2zM240 164l-3 3 5 0z" fill="#f5c"/>
<path d="M262 125l1-1 2 0 0 2-2 2z" fill="#a5f"/>
<path d="M184 130l3-2-1-1-3 0-1 1 1 2z" fill="#f3a"/>
<path d="M185 131l-1-1 3-2 2 0 0 2-2 2zM221 141l-2-2 0-2 4 0 0 3z" fill="#f3b"/>
<path d="M195 132l2-1-2-3-2 0 0 2zM226 132l-1-1 3-3 1 1-1 1zM188 134l-1-2-2-1-2 4 5 0z" fill="#f3c"/>
<path d="M219 132l2-4 2 1-3 3zM221 146l-2 2 4 2 1-1-1-2z" fill="#f3f"/>
<path d="M235 132l1-1 0-3-2 1 0 3zM191 134l4 1 0-3-2-2-2 2z" fill="#f4c"/>
<path d="M236 128l0 3 3 1 1-2-1-2-1-1zM188 146l-3-3-1 3 3 1zM181 218l1 0-2-2-3 1z" fill="#e6c"/>
<path d="M222 133l-2-1 3-3 1 2zM225 136l1-2-4-1 1 4 2 0z" fill="#f1c"/>
<path d="M231 133l0-1 0-3-2 0-1 1 0 3z" fill="#e2f"/>
<path d="M191 134l4 1 0 2-3 1z" fill="#f3d"/>
<path d="M219 132l1 0 2 1 1 4-4 0-1 0 0-1 1-2zM223 140l0-3 2 0 1 2-2 2zM220 143l0 3 1 0 2 1 2-2 0-1z" fill="#f3e"/>
<path d="M230 138l-2-4-2 0-1 2z" fill="#f2e"/>
<path d="M234 137l1-2-4-1 0 2z" fill="#e48"/>
<path d="M242 137l-3 0 0-4 3 1 0 2z" fill="#f4a"/>
<path d="M182 140l-3 0 0-2 4-1 1 2zM225 176l-2 1-1-1-1 0 1-4 2 0zM247 177l-1 0-1 2 2 2 1-2z" fill="#87f"/>
<path d="M195 137l1 1 0 1-4 1 0-2zM203 158l1-1 3 2 1 1-3 1z" fill="#e5d"/>
<path d="M200 139l-1 1-3 2 0-3 0-1 3-1 0 1z" fill="#8e7"/>
<path d="M204 140l-2-3-3 1 1 1 3 2z" fill="#ae9"/>
<path d="M230 138l-5-2 0 1 1 2 2 1zM224 141l2-2 2 1 0 2-3 1z" fill="#f4b"/>
<path d="M230 138l1-2 3 1 0 2 0 1-2-1z" fill="#f7c"/>
<path d="M181 144l-1 1-3-2-1 0 1-2 2-1 2 3zM186 179l-1 0 1 3 1 1 1-1 1-3zM260 189l4-1 0-1-2-1z" fill="#67f"/>
<path d="M182 140l1 3 2 0 1-3-2-1z" fill="#68f"/>
<path d="M186 140l0-1 1 1 2 1 0 1-4 1zM196 142l-3 0-1-2 4-1z" fill="#f7e"/>
<path d="M190 145l-1-3 0-1 3-1 1 2-1 2-1 1z" fill="#f6e"/>
<path d="M202 143l-2-1-1-2 1-1 3 2z" fill="#ad8"/>
<path d="M258 140l3-1 2 2-1 2-3 0-1-1z" fill="#6fb"/>
<path d="M264 140l-1 1-1 2 1 1 1 1 1-1 0-2 0-1z" fill="#6fa"/>
<path d="M177 143l0 3 2 1 1-2zM172 144l0 1 0 3 2 1 2-2-2-3z" fill="#45f"/>
<path d="M190 145l-1-3-4 1 3 3z" fill="#f5e"/>
<path d="M193 148l-2-3 1-1 2 1z" fill="#f6d"/>
<path d="M225 144l0 1 1 1 3-3-1-1-3 1z" fill="#e4e"/>
<path d="M256 146l-1-1-1-1 1-1 3-1 1 1 0 1z" fill="#6fc"/>
<path d="M260 146l3-2 1 1 0 2-1 1zM185 163l2-2 1 1 1 1-3 2-1-1z" fill="#6ec"/>
<path d="M183 147l-2-3-1 1-1 2 1 2 3-1z" fill="#44f"/>
<path d="M191 150l-2-1-1-3 2-1 1 0 2 3zM240 164l0-1-3-1-2 2 2 3z" fill="#f5b"/>
<path d="M193 148l5-1-1-3-3 1z" fill="#bea"/>
<path d="M195 150l3 0 1-2-1-1-5 1z" fill="#ad9"/>
<path d="M207 145l0 1-1 3-2 0-1 0 0-3z" fill="#ae7"/>
<path d="M254 146l1-1 1 1 1 2-3 2-1-1z" fill="#4f8"/>
<path d="M175 150l-1 2 1 1 3 0 1-1-3-2zM248 156l1 0 1-4-3 1zM251 152l2 1 0 1-2 3-2-1 1-4zM177 157l-1-1-3 0 0 1 2 1zM245 169l0 1 1 3-3 1-1 0 1-3zM221 186l-3 2-2 0 0-2 3-1zM216 192l-1-3-2 0-1 1 0 2zM216 198l1-1 0-5-1 0-1 4 0 2z" fill="#dab"/>
<path d="M180 152l-1 0-3-2 4-1zM183 148l-3 1 0 3 2 1 2-3zM182 159l-2 3-1 0-1-3 0-1zM184 158l0 1-2 3-2 0 2-3zM212 190l0 2-3 1 0-4z" fill="#e9b"/>
<path d="M191 151l-1 2-2-1-1-2 2-1 2 1zM187 161l-1-3 1-1 4 1 0 3-3 1zM247 201l1 0 1 3-1 1-3-3z" fill="#bae"/>
<path d="M195 153l2 0 1-1 0-2-3 0z" fill="#e9d"/>
<path d="M198 152l3 0 1-2-3-2-1 2z" fill="#c5d"/>
<path d="M204 149l0 3 0 1-3 0 0-1 1-2 1-1zM209 161l0 1 2 2 2-1 0-3-1-1zM236 192l2 4 1-1 1-2-3-3 0 1z" fill="#d8e"/>
<path d="M206 149l-2 0 0 3 3 0 1-1zM205 155l0 1-4-2 0-1 3 0zM232 187l-2-2-1 3 2 1 1 0zM232 190l0-1-1 0-3 2 3 2 1-1zM234 193l0 2 4 1-2-4zM215 215l-3 2 2 1 1 0 1-1z" fill="#d7d"/>
<path d="M219 148l4 2-1 1-3 1z" fill="#f2c"/>
<path d="M223 150l1-1 2 1 0 2-3 0-1-1z" fill="#dad"/>
<path d="M227 149l-1 1 0 2 1 1 4 0 0-1zM228 157l-2-3 1-1 4 0 0 1zM226 158l-1-1 1-3 2 3zM218 158l4 1 0 1-2 2-2-1zM221 193l2-2-1-2-3 2 0 1zM221 193l2-2 4 1-1 0-4 2-1 0z" fill="#cbc"/>
<path d="M232 150l2-1 2 1 0 1 0 1-1 0-4 0zM241 154l-2 1-1 0-2-3 0-1 4 0 1 1zM232 159l0 2 4 1 1-3-2-1z" fill="#cdb"/>
<path d="M258 149l0 4 2 0 2-3-3-2z" fill="#eb9"/>
<path d="M174 152l-1 0-1 3 1 1 3 0-1-3z" fill="#eab"/>
<path d="M178 154l0-1-3 0 1 3 1 1z" fill="#d7a"/>
<path d="M181 156l-3-2 0-1 1-1 1 0 2 1 1 1-1 2zM242 160l0-2 3 0 1 3z" fill="#d9b"/>
<path d="M188 152l-2 1 0 1 1 2 2-2 1-1zM218 179l4-3-1 0-1-1-3 2 0 2zM247 190l1 3 3-3 0-1-1-1zM227 216l-2-4-2 0-1 1 1 3z" fill="#a8e"/>
<path d="M194 153l-1 2-3-1-1 0 1-1 1-2zM247 200l0 1 1 0 3 0 0-2-2-3z" fill="#b9e"/>
<path d="M209 156l-1 0-2-1 1-3 1-1 2 2zM211 157l2-2-1-2-2 0-1 3z" fill="#e8e"/>
<path d="M215 154l1-2 3 0 1 3-2 2z" fill="#e7f"/>
<path d="M219 152l1 3 1 1 2-2 0-2-1-1zM206 182l-1 1 3 3 1 0 1-1 0-2z" fill="#cbd"/>
<path d="M232 155l3-1 0-2-4 0 0 1 0 1z" fill="#bc9"/>
<path d="M235 154l0-2 1 0 2 3-3 0z" fill="#bda"/>
<path d="M258 153l2 0 1 1 0 2-3 0zM256 158l-1 0-3 1 0 2 2 1 2-1zM264 163l1-1 0-3-1-1-1 0-1 1 0 1z" fill="#dca"/>
<path d="M187 156l2-2 1 0 1 4-4-1z" fill="#a8f"/>
<path d="M193 157l-2 1-1-4 3 1z" fill="#cae"/>
<path d="M205 156l-1 1-1 1-1 0-2-3 1-1z" fill="#d6d"/>
<path d="M211 157l-2-1-1 0-1 3 1 1 1 1zM219 214l0 2 4 0-1-3z" fill="#c8e"/>
<path d="M214 156l1 2 2-1 1 0-3-3z" fill="#e7e"/>
<path d="M230 159l2 0 0-4-1-1-3 3zM226 161l-4-1 0-1 0-2 3 0 1 1zM216 161l2 0 2 1 0 2-3 0zM218 169l-4 2-1-1 3-4 2 2zM219 171l-1-2-4 2 1 2 2 0 1 0z" fill="#cac"/>
<path d="M232 155l3-1 0 1 0 3-3 1zM238 159l1-4 2-1 1 2 0 2z" fill="#bd9"/>
<path d="M246 157l-1 1-3 0 0-2 2-1zM247 156l-1 1-2-2 1-1z" fill="#dbb"/>
<path d="M248 156l1 0 2 1 1 2-4 1z" fill="#e9a"/>
<path d="M251 157l2-3 2 2 0 2-3 1zM250 167l-4 1 0-4 4 1zM210 198l4 0 1 0 0-2-2-1-3 1z" fill="#dbc"/>
<path d="M258 157l0-1 3 0 2 2-1 1-2 0z" fill="#da8"/>
<path d="M264 158l-1 0-2-2 0-2 3 0 1 1 0 1zM264 158l1 1 0-3z" fill="#ec9"/>
<path d="M178 158l-1-1-2 1-1 3 1 1 3-3z" fill="#d8a"/>
<path d="M184 158l0 1 1 4 2-2-1-3zM247 200l-2-4 2-2 1 1 1 1z" fill="#98d"/>
<path d="M213 160l0 3 1 0 2-2-1-3z" fill="#d6f"/>
<path d="M227 163l-1 0 0-2 4-2 2 0 0 2-2 1zM214 175l1-2-1-2-1-1-2 0 0 3z" fill="#dbd"/>
<path d="M237 162l3 1 0-1-2-3-1 0-1 3z" fill="#cdc"/>
<path d="M248 156l0 4-1 1-1 0-1-3 1-1 1-1zM179 162l-1-3-3 3 0 1 4 0z" fill="#ebc"/>
<path d="M258 157l2 2-1 1-2 1-1 0 0-3z" fill="#eca"/>
<path d="M262 160l0-1-2 0-1 1 2 1z" fill="#db8"/>
<path d="M172 165l0-2 1 1 0 1zM182 173l4-3-2-2-1 0-2 4zM240 182l3 1 0-1 0-2-2-2-1 1-1 1zM175 184l1-1-4 0 0 3 2-1z" fill="#54e"/>
<path d="M175 163l-2 1-1-1 0-3 2 1 1 1z" fill="#eac"/>
<path d="M182 162l-2 0-1 0 0 1 0 2 4 0 0-1z" fill="#35e"/>
<path d="M193 164l-2-3-3 1 1 1 1 2z" fill="#5ea"/>
<path d="M209 161l0 1-2 2-2-1 0-1 0-1 3-1zM225 169l-4 2 1 1 2 0 1-2zM225 170l-1 2 3 1 0-2zM243 214l-2-3-3 1 4 3z" fill="#d9c"/>
<path d="M221 165l1-1 1-1-1-3-2 2 0 2zM210 213l-3 4 3 1 2-1-1-4zM240 217l0 4 1 0 2-2-2-3z" fill="#c9c"/>
<path d="M226 161l0 2-3 0-1-3z" fill="#e9c"/>
<path d="M229 166l-2-3 3-1 1 3zM225 167l-3-3 1-1 3 0zM227 171l4 0 0 1-4 1zM241 189l-1 0-3 1 3 3 2-1zM233 219l0-3 2-1 2 4-3 0z" fill="#d8c"/>
<path d="M231 165l2 1 1-2-2-3-2 1z" fill="#f49"/>
<path d="M250 165l1-2-4-2-1 0 0 3z" fill="#c7b"/>
<path d="M251 163l3 3 1-1-1-3-2-1z" fill="#e8a"/>
<path d="M257 161l1 3 0 1-3 0-1-3 2-1z" fill="#f74"/>
<path d="M264 163l-4 1 1-3 1-1z" fill="#dc9"/>
<path d="M174 167l0 1 2-2-1-3-2 1 0 1zM179 183l0-5 3 3 0 1-1 1z" fill="#43e"/>
<path d="M183 165l0 3-4 0 0-2 0-1z" fill="#46f"/>
<path d="M184 168l2-2 0-1-1-1-2 0 0 1 0 3z" fill="#5ec"/>
<path d="M188 167l-2-1 0-1 3-2 1 2z" fill="#3e9"/>
<path d="M193 165l0-1-3 1-2 2 1 0 2 1z" fill="#3da"/>
<path d="M193 165l0-1 2-2 2 2-1 3-2 0z" fill="#e77"/>
<path d="M218 168l2-2 1-1-1-1-3 0-1 2zM225 167l1-4 1 0 2 3 0 2zM233 216l-2-1 0-2 1 0 2 0 1 1 0 1zM238 220l-1-1 2-2 1 0 0 4-1-1z" fill="#d7c"/>
<path d="M233 167l1 1 3 0 0-1-2-3-1 0-1 2z" fill="#f6c"/>
<path d="M240 164l4 1-1 2-1 0z" fill="#e8b"/>
<path d="M254 166l-1 1 0 1 2 1 3-3 0-1-3 0z" fill="#f73"/>
<path d="M258 166l0-1 0-1 1 0 3 3-2 2z" fill="#f64"/>
<path d="M264 163l1 2-1 1-2 1-3-3 1 0z" fill="#f95"/>
<path d="M172 170l0-3 2 0 0 1 0 1zM175 176l-3-2 0 4 1 1z" fill="#43f"/>
<path d="M175 170l1 1 3-1 0-2z" fill="#65e"/>
<path d="M189 167l-1 0-2-1-2 2 2 2 0 1 2-1z" fill="#4ec"/>
<path d="M191 168l-2-1-1 3 3 1 1-1z" fill="#4fc"/>
<path d="M193 165l-2 3 1 2 1-1 1-2z" fill="#5fa"/>
<path d="M204 167l-2 1-1 2 3 1zM265 173l0-4-1 1-1 1 1 2z" fill="#f86"/>
<path d="M220 171l2-3-2-2-2 2 0 1 1 2zM217 210l-2-1-2 1 0 2 2 1 2-1zM207 218l2 2-1 3-2-3zM215 218l1 3-4 0 2-3z" fill="#d9d"/>
<path d="M242 167l-2 3-3-2 0-1zM184 210l-1-1-3 1-1 0 2 3 2 0zM180 213l-3 1 0 2 0 1 3-1zM172 221l0-3 1 0 2 1z" fill="#e5a"/>
<path d="M250 167l0 2-2 1-3 0 0-1 1-1z" fill="#c9a"/>
<path d="M256 170l-2 2-3 0 2-4 2 1zM264 166l1 3-1 1-2-3z" fill="#fa5"/>
<path d="M256 170l3 1 1-2-2-3-3 3z" fill="#e52"/>
<path d="M198 170l-3 1-1 1 3 4 0-2zM199 184l3-2 2 1-1 3 0 1-3-2zM254 208l-1-1-1 1 0 3zM254 218l-2-2-2 2 3 2 1 0z" fill="#f76"/>
<path d="M198 170l-1 4 3-1 0-2z" fill="#e67"/>
<path d="M204 172l-3 2-1-1 0-2 1-1 3 1z" fill="#e55"/>
<path d="M206 171l1 2-3 2 0-3zM204 175l-3 1-1 0 1-2 3-2zM196 188l1 3 2 0 0-1-1-2z" fill="#f88"/>
<path d="M206 171l1 2 2 1 2-1 0-3-4 1zM232 190l4-1 1 2-1 1-2 1-2-1zM210 213l-3 4-1 0-1-3 1-2zM216 217l3 0 1 2-4 2-1-3z" fill="#c8c"/>
<path d="M240 170l3 1-1 3-2 0-1-2z" fill="#e4a"/>
<path d="M248 174l-2-1-1-3 3 0z" fill="#dac"/>
<path d="M250 173l1-1-1-3-2 1 0 4z" fill="#e8c"/>
<path d="M255 174l-1-2-3 0-1 1 2 3zM219 196l0 1-2 0 0-5z" fill="#d8b"/>
<path d="M256 170l3 1 0 1-4 2-1-2z" fill="#f94"/>
<path d="M262 175l2-2-1-2-4 0 0 1 0 2z" fill="#f72"/>
<path d="M177 175l-2-2-3 1 3 2zM175 188l-3-1 0-1 2-1z" fill="#46e"/>
<path d="M180 177l-1 0-1 0-1-2 1-1 2-2 1 0zM193 200l1 1 1 0 1-2-1-3-1 0-1 2zM188 207l2-1 1-1-1-2-2-1-1 1z" fill="#14e"/>
<path d="M182 177l2-2-1-2-1 0-1-1-1 5z" fill="#13e"/>
<path d="M193 175l-1-2-2 2 2 1z" fill="#89f"/>
<path d="M200 173l1 1-1 2-3 0 0-2zM196 182l0-4 3 2-1 3-1 0z" fill="#f77"/>
<path d="M210 176l-4 1-1-1 4-2zM220 181l-2-2-1 0-1 2 1 2 1 0zM221 194l1 0 1 3-3 1-1-1 0-1z" fill="#a9c"/>
<path d="M217 177l0-4-2 0-1 2 1 2 1 0zM247 194l1-1 3-3 1 2 0 2-1 0-3 1zM242 209l-1-4 0-1 3 0 0 2z" fill="#b8e"/>
<path d="M220 175l-2-2-1 0 0 4zM216 181l-3 0 3-4 1 0 0 2zM194 191l-4 1 0 2 3 1z" fill="#c9d"/>
<path d="M225 176l-1-4 3 1 0 2-1 1z" fill="#d7b"/>
<path d="M234 177l2-1-1-3-4 2 0 1 0 1z" fill="#94f"/>
<path d="M240 174l2 0 1 0 0 2-1 1z" fill="#84e"/>
<path d="M247 177l1-3-2-1-3 1 0 2 3 1zM227 181l1-1 1 0 3 4-2 1-1-1-1-1zM221 186l2-2-1-2-2-1-2 2 1 2z" fill="#98e"/>
<path d="M255 178l-3-1 0-1 3-2 2 3zM262 180l-2-3-2 0 1 3zM253 180l2 0 2 2-1 1-3 0zM257 186l-4 0 0-1 0-2 3 0zM265 183l0 4-1 1 0-1z" fill="#ccc"/>
<path d="M178 177l-1-2-2 1-2 3 1 0z" fill="#21f"/>
<path d="M182 177l1 2-1 2-3-3 0-1 1 0z" fill="#42f"/>
<path d="M182 177l1 2 2 0 1 0 0-4-2 0zM189 217l3 1 0 1-2 2-2-3z" fill="#66e"/>
<path d="M186 175l0 4 3 0-1-4-1-1zM179 186l0-3-3 0-1 1 2 4 1 0zM181 187l3-1 0 2 0 1-2 0z" fill="#56e"/>
<path d="M192 176l-2-1-2 0 1 4 2 0zM179 198l-2-1 0-1 1-2 3 1 0 2z" fill="#77f"/>
<path d="M196 178l3 2 2-3 0-1-1 0-3 0z" fill="#e66"/>
<path d="M199 180l3 1 1-2-2-2zM196 186l3 1 1-2-1-1-1-1-1 0z" fill="#f87"/>
<path d="M207 180l-2-2 1-1 4-1 0 1 0 1-2 2zM208 180l2-2 2 1 1 2-3 1zM252 202l-1 2-2 0-1-3 3 0z" fill="#b9d"/>
<path d="M215 177l-1-2-4 2 0 1 2 1zM188 186l-2-2-2 2 0 2 3 0 1 0zM190 189l-1 1 1 2 4-1 0-1-3-2z" fill="#b8d"/>
<path d="M213 181l3-4-1 0-3 2zM185 192l2-4-3 0 0 1zM188 188l-1 0-2 4 4-2 1-1zM229 188l2 1-3 2-1 1-1-4 1 0zM253 206l-2-2-1 4 2 0 1-1z" fill="#bad"/>
<path d="M225 176l-2 1 1 3 3 1 1-1-2-4zM253 183l0 2-3 2-1-4z" fill="#75f"/>
<path d="M234 183l-3-4 0-2 3 0 1 1z" fill="#51f"/>
<path d="M238 180l1 0 1-1-2-3-1 3z" fill="#52e"/>
<path d="M246 177l-3-1-1 1-1 1 2 2 2-1z" fill="#a7f"/>
<path d="M251 179l0-1-4-1 1 2zM223 184l4-3-3-1-2 2z" fill="#95e"/>
<path d="M255 178l0 2-2 0-2-1 0-1 1-1zM262 180l-2-3 2-1 2 2 0 1 0 1zM172 201l1 0 0-1-1-2zM174 204l-2 2 0-5 1 0zM178 204l1-1 0-3-2 0-1 2z" fill="#aba"/>
<path d="M255 178l0 2 2 2 2-2-1-3-1 0zM179 200l-2 0-1-2 1-1 2 1z" fill="#bca"/>
<path d="M176 183l0-1-2-3-1 0-1 0 0 3 0 1z" fill="#32e"/>
<path d="M179 183l0-5 0-1-1 0-2 5 0 1z" fill="#34f"/>
<path d="M182 182l4 0-1-3-2 0-1 2zM257 188l-2 1 0 3 2 1 1-1 0-3z" fill="#68e"/>
<path d="M192 179l1 4-3 0-2-1 1-3 2 0zM264 188l1-1 0 4-1 0z" fill="#78e"/>
<path d="M196 182l0-4-4 1 1 4zM188 218l-3 2 1-4z" fill="#87e"/>
<path d="M199 180l-1 3 1 1 3-2 0-1z" fill="#f56"/>
<path d="M207 180l-2-2-2 1-1 2 0 1 2 1 1 0 1-1zM252 211l0-3-2 0-1 0 3 4z" fill="#e54"/>
<path d="M232 184l-3-4 2-1 3 4z" fill="#63f"/>
<path d="M235 183l3-3-1-1-2-1-1 5z" fill="#73f"/>
<path d="M235 183l2 0 2 0 1-1-1-2-1 0z" fill="#72e"/>
<path d="M251 179l2 1 0 3-4 0zM246 186l1-3 1 0 1 0 1 4zM227 216l-2-4 2-1 1 1zM227 216l1-4 3 1 0 2z" fill="#a7e"/>
<path d="M262 180l-3 0-2 2 3 1zM178 204l-2-2-3-1 1 3 2 1zM180 207l0 3 3-1 1-2-3-1z" fill="#bcb"/>
<path d="M264 180l0-1 1 0 0 4-1-1zM261 185l0-1-1-1-3-1-1 1 1 3zM261 185l0-1 3-2 1 1-1 4-2-1zM176 206l3 4 1 0 0-3z" fill="#bbb"/>
<path d="M181 187l3-1-3-3-2 0 0 3z" fill="#22f"/>
<path d="M182 182l-1 1 3 3 2-2 1-1-1-1z" fill="#88e"/>
<path d="M190 185l0-2-2-1-1 1-1 1 2 2zM257 188l-2 1-2-1 0-2 4 0zM257 193l0 1-2 1-1-3 1 0z" fill="#89e"/>
<path d="M196 186l1-3-1-1-3 1 0 3 2 1zM242 209l-1 0 0 2 2 3 1-1 1-2 1-1z" fill="#f55"/>
<path d="M217 183l-2 3-2-1 0-4 3 0z" fill="#a8c"/>
<path d="M232 187l-2-2 2-1 2-1 0 3z" fill="#e8d"/>
<path d="M238 186l-1-3-2 0-1 0 0 3 2 1z" fill="#31e"/>
<path d="M240 186l2-1 1-2-3-1-1 1z" fill="#62e"/>
<path d="M175 188l2 0-2-4-1 1z" fill="#58e"/>
<path d="M192 187l1-1 2 1 0 1-1 2-3-2zM221 186l1 2 4 0 1 0-1 0-1-2-2-2zM223 191l4 1-1-4-4 0 0 1zM221 193l-2-1-2 0 2 4 2-2zM226 192l1 0-1 4-3 1-1-3zM190 196l0-1 0-1 3 1 1 1-1 2z" fill="#bac"/>
<path d="M196 186l3 1-1 1-2 0-1 0 0-1z" fill="#e7a"/>
<path d="M199 187l1-2 3 2 0 2-4 1-1-2zM202 192l0 3-2 0-1-3z" fill="#f89"/>
<path d="M206 188l0-1 2-1 1 0 0 3-2 1zM206 188l-2 2 1 1 2-1zM199 198l0-3-3 0 1 3 2 1z" fill="#e69"/>
<path d="M230 185l-1-1-3 4 1 0 2 0z" fill="#99b"/>
<path d="M232 190l0-1 0-2 2-1 2 1 0 2zM238 212l-2-2 2-2 3 1 0 2zM234 213l-2 0-1-3 3-1 1 0 1 1zM237 219l2-2-2-3-2 0 0 1z" fill="#d8d"/>
<path d="M243 189l1-3-2-1-2 1-1 1 1 2 1 0z" fill="#c6d"/>
<path d="M245 186l1 0 4 1 0 1-3 2zM252 194l3 1-1 3-1 0-2-4z" fill="#c9f"/>
<path d="M250 187l3-2 0 1 0 2-2 1-1-1z" fill="#b6e"/>
<path d="M179 190l-1 1-4 0 1-3 2 0 1 0zM258 189l0 3 4 0-2-3z" fill="#57e"/>
<path d="M195 188l-1 2 0 1 2 1 1-1-1-3zM199 198l3 1 1-4-1 0-2 0-1 0z" fill="#e89"/>
<path d="M203 189l-4 1 0 1 0 1 3 0 1-2z" fill="#d69"/>
<path d="M219 192l0-1-1-3-2 0-1 1 1 3 1 0zM216 192l-4 0 1 3 2 1z" fill="#c8a"/>
<path d="M244 192l0-2-1-1-2 0 1 3 1 1z" fill="#96f"/>
<path d="M255 192l-1 0-2 0-1-2 0-1 2-1 2 1z" fill="#8ae"/>
<path d="M172 194l0-3 2 0 0 1-1 2z" fill="#67e"/>
<path d="M182 194l-1 1-3-1 0-3 1-1 1 1 2 1z" fill="#57f"/>
<path d="M185 192l1 2-2 2-2-2 0-2z" fill="#34e"/>
<path d="M186 194l4 1 0-1 0-2-1-2-4 2zM248 205l1 3 1 0 1-4-2 0z" fill="#a8d"/>
<path d="M195 196l1-1 0-3-2-1-1 4 1 1z" fill="#98c"/>
<path d="M196 195l0-3 1-1 2 0 0 1 1 3-1 0zM242 209l-1 0-3-1 0-3 3 0z" fill="#e79"/>
<path d="M210 196l3-1-1-3-3 1 0 2z" fill="#cab"/>
<path d="M243 193l0 1-3 1-1 0 1-2 2-1z" fill="#c6c"/>
<path d="M252 192l2 0 1 3-3-1zM264 191l1 0 0 3z" fill="#69e"/>
<path d="M257 193l0 1 1 1 3 0 2-3-1 0-4 0z" fill="#9af"/>
<path d="M263 192l-2 3 4 2 0-3-1-3z" fill="#89d"/>
<path d="M172 198l2-3-1-1-1 0zM207 203l-2-2 2-2 2 0 1 2z" fill="#55e"/>
<path d="M177 196l-3-1-2 3 1 2 3-2 1-1zM179 210l-3 1-2-1 0-2 2-2z" fill="#9c9"/>
<path d="M183 198l1-2-2-2-1 1 0 2z" fill="#36d"/>
<path d="M184 199l3 0 0-1-1-4-2 2-1 2zM244 206l1 0 3-1-3-3-1 2z" fill="#a9d"/>
<path d="M189 197l-2 1-1-4 4 1 0 1zM242 209l4 1-1-4-1 0z" fill="#cad"/>
<path d="M195 196l1-1 1 3-1 1z" fill="#23e"/>
<path d="M203 200l-1-1 1-4 2 0 1 0 0 3z" fill="#10d"/>
<path d="M224 200l-1-3 3-1 1 1z" fill="#e24"/>
<path d="M227 197l-1-1 1-4 3 4-1 1-1 1z" fill="#aab"/>
<path d="M233 196l4 2 1-2-4-1zM243 198l-2 1-3-3 1-1 1 0z" fill="#c7d"/>
<path d="M244 196l-1-2-3 1 3 3z" fill="#d6c"/>
<path d="M249 196l2 3 2-1-2-4-3 1z" fill="#a5e"/>
<path d="M262 200l3-3-4-2 0 3zM265 206l-1-1 1-3z" fill="#6dc"/>
<path d="M187 203l-4-3 1-1 3 0 1 2 0 1zM195 208l-1-1-1-2 1-1 2 0 1 2z" fill="#22e"/>
<path d="M189 197l-2 1 0 1 1 2 2-1z" fill="#04e"/>
<path d="M195 201l1-2 1-1 2 1-1 2z" fill="#24e"/>
<path d="M203 200l-1-1-3-1 0 1-1 2 3 1 2-1zM191 208l3-1-1-2-2 0-1 1z" fill="#01f"/>
<path d="M203 200l3-2 1 1-2 2z" fill="#20e"/>
<path d="M212 202l1-1 1-3-4 0-1 1 1 2z" fill="#23d"/>
<path d="M218 202l2-1 0-3-1-1-2 0-1 1 1 3z" fill="#35d"/>
<path d="M230 201l-2 0-1 0 1-3 1-1 2 2zM218 205l0 3 2-1 0-2zM236 204l2 1-3 4-1 0 0-2 1-3z" fill="#f59"/>
<path d="M247 200l0 1-2 1-2-2 0-2 1-2 1 0z" fill="#a7d"/>
<path d="M253 198l-2 1 0 2 1 1 3 0 1-2-2-2z" fill="#5cb"/>
<path d="M259 198l-1-2-4 2 2 2 2 0zM262 200l-3 0-1 0 1-2 2 0z" fill="#4cc"/>
<path d="M263 202l2 0 0-5-3 3zM262 207l-4 1 0-1 0-3 1 0 2 0 1 1z" fill="#6cd"/>
<path d="M179 203l0-3 4 0-1 2-2 2z" fill="#aca"/>
<path d="M187 203l-4-3-1 2 2 3zM192 200l-2 3-2-1 0-1 2-1zM199 207l1-2 1-1 2 2-1 2-3 0z" fill="#00e"/>
<path d="M193 200l1 1 0 3-1 1-2 0-1-2 2-3z" fill="#00f"/>
<path d="M194 204l0-3 1 0 3 0 0 2-2 1z" fill="#01d"/>
<path d="M198 201l3 1 0 2-1 1-2-2z" fill="#11e"/>
<path d="M203 200l2 1 2 2-3 2-1-4z" fill="#03e"/>
<path d="M231 203l-3 2-1-2 1-2 2 0 1 1z" fill="#f38"/>
<path d="M239 201l-3 3-1-3 2-2 2 1z" fill="#f8a"/>
<path d="M262 205l-1-1 2-2 2 0-1 3z" fill="#7dc"/>
<path d="M184 206l0 1-3-1-1-2 2-2 2 3z" fill="#9b9"/>
<path d="M188 207l-4-1 0-1 3-2z" fill="#12e"/>
<path d="M199 207l1-2-2-2-2 1 1 2zM206 208l-2-2 0-1 3-2 0 5z" fill="#02d"/>
<path d="M213 205l-2 3 0 1-2-2 0-2 3-1z" fill="#54d"/>
<path d="M221 207l-1 0 0-2 2 0 1 0z" fill="#e26"/>
<path d="M225 207l2-1 1-1-1-2-3 1-1 1z" fill="#f34"/>
<path d="M255 208l3-1 0-3-2-1-3 3 0 1 1 1z" fill="#7dd"/>
<path d="M262 207l1 1 2 0 0-2-1-1-2 0z" fill="#5dc"/>
<path d="M188 207l0 3-1 0-3 0-1-1 1-2 0-1z" fill="#04f"/>
<path d="M188 207l0 3 1 1 2-2 0-1-1-2z" fill="#10f"/>
<path d="M195 210l2 0 1 0 1-2 0-1-2-1-2 2z" fill="#01e"/>
<path d="M206 208l-2-2-1 0-1 2 2 2z" fill="#32f"/>
<path d="M206 211l-2-1 2-2 1 1z" fill="#f26"/>
<path d="M207 209l3 1 1-1-2-2-2 1-1 0z" fill="#34d"/>
<path d="M217 210l1-1 0-1 0-3-3 1 0 3z" fill="#44d"/>
<path d="M228 205l-1 1 1 4 2-1 0-2z" fill="#f25"/>
<path d="M232 206l2 1 0 2-3 1-1-1 0-2z" fill="#f8b"/>
<path d="M255 208l3-1 0 1 1 1-4 3z" fill="#fa2"/>
<path d="M260 211l-1-2-1-1 4-1 1 1-1 2z" fill="#6cc"/>
<path d="M264 212l-2-2 1-2 2 0 0 3zM257 216l-3 2 0 2 1 0 2 0 1 0 0-3z" fill="#fa4"/>
<path d="M172 214l1-1 0-2-1 0zM174 216l3 0 0-2-3 1zM181 218l-4-1-1 3 0 1 4 0z" fill="#e5b"/>
<path d="M174 215l-1-2 0-2 1-1 2 1 1 3z" fill="#d6b"/>
<path d="M187 210l-1 3-3 0 1-3zM190 221l-2-3-3 2 0 2 4 1 1-1z" fill="#77e"/>
<path d="M188 210l-1 0-1 3 1 1 3 0 1-1-2-2zM190 221l2-2 1 1-1 2-2 0z" fill="#76d"/>
<path d="M189 211l2 2 2 0 1-2-3-2zM189 217l1-3-3 0-1 2 2 2z" fill="#55d"/>
<path d="M206 211l0 1-1 2-2-1 1-3z" fill="#f16"/>
<path d="M217 210l1-1 2 1 2 3-3 1-2-2z" fill="#a6e"/>
<path d="M222 213l1-1 1-3-3 0-1 1z" fill="#a6d"/>
<path d="M232 213l-1 0-3-1-1-1 1-1 2-1 1 1z" fill="#96e"/>
<path d="M249 215l1-1-3-4-1 0-1 1zM252 213l0-1-3-4-2 2 3 4 2 0z" fill="#e76"/>
<path d="M252 213l0-1 0-1 2-3 1 0 0 4 0 1zM264 212l-2-2-2 1 2 2z" fill="#ea5"/>
<path d="M256 213l-1 0 0-1 4-3 1 2-1 1z" fill="#f84"/>
<path d="M265 216l-1-4 1-1z" fill="#f92"/>
<path d="M174 216l0 1-2-1 0-2 1-1 1 2z" fill="#e4b"/>
<path d="M189 217l3 1 2-2-1-3-2 0-1 1z" fill="#66d"/>
<path d="M201 214l0 1-1 0-3 1 0-2 1-1z" fill="#e12"/>
<path d="M217 212l2 2 0 2 0 1-3 0-1-2 0-2z" fill="#c7c"/>
<path d="M249 215l-4-4-1 2 2 2 2 1z" fill="#f54"/>
<path d="M257 216l-1-3-1 0-3 0 0 1 0 2 2 2z" fill="#fb4"/>
<path d="M260 213l-1-1-3 1 1 3 1 1 2-1z" fill="#f82"/>
<path d="M263 217l-1-3-2-1 0 3 2 1z" fill="#e94"/>
<path d="M263 217l2-1-1-4-2 1 0 1z" fill="#e82"/>
<path d="M172 216l2 1-1 1-1 0z" fill="#e7c"/>
<path d="M177 217l0-1-3 0 0 1-1 1 2 1 1 1z" fill="#e59"/>
<path d="M193 220l2 0 1-2 0-1-2-1-2 2 0 1z" fill="#45d"/>
<path d="M207 217l0 1-1 2-3 1 0-2 1-2 2 0z" fill="#e25"/>
<path d="M207 217l0 1 2 2 1 0 0-2z" fill="#c9b"/>
<path d="M219 217l1 2 2 0 1-3-4 0z" fill="#c9e"/>
<path d="M248 216l0 1-1 2-3 0 2-4z" fill="#e74"/>
<path d="M262 217l-3 3-1 0 0-3 2-1z" fill="#fa3"/>
<path d="M264 218l-1-1-1 0-3 3 1 1 1 0z" fill="#fb3"/>
<path d="M265 220l0-4-2 1 1 1z" fill="#fc5"/>
<path d="M181 218l1 0 1 5-3-1 0-1z" fill="#e49"/>
<path d="M192 222l2 1 1 0 0-3-2 0z" fill="#78c"/>
<path d="M221 223l-1-4 2 0 3 1-1 2z" fill="#97d"/>
<path d="M244 219l2 3 2-2-1-1z" fill="#f53"/>
</g>
<g stroke="#f4f0f4" stroke-opacity="0.15" stroke-width="0.5">
<path d="M176 220l-1-1-3 2 0 3 4 0 0-3zM180 221l0 1-3 3-1-1 0-3zM184 224l-1-1-3-1-3 3 1 3 5-1zM173 233l-1 0 0-6 4 1zM224 270l5 0 1-2-1-1-6-2-2 2z" fill="#e54"/>
<path d="M203 221l4 3 1-1-2-3zM196 230l4 4 3-3-5-5-2 2zM229 270l0 3 7-1 0-4-6 0zM237 267l-1 1 0 4 1 1 2 0 1-1 1-5zM207 298l0 1-1 0-9-4 0-1 8 0z" fill="#55d"/>
<path d="M210 220l2 1 0 2-4 0 1-3zM222 351l5 4 2-2 0-3-6-1z" fill="#b5d"/>
<path d="M221 223l-1-4-4 2 0 3 4 0zM224 345l3-1 0-5-6-1-1 5 0 1z" fill="#b4d"/>
<path d="M227 219l1 6-1 1-3-4 1-2zM227 219l1 6 2 0 0-6z" fill="#7da"/>
<path d="M233 219l-1 0-1 6 3-2 0-4zM237 225l-5 1-1-1 3-2 3 1zM231 225l1 1 2 4-4 2-3-2 0-4 1-1 2 0zM237 225l0 6 2 0 5-3 0-1-1-2-1-1-2 1z" fill="#b8d"/>
<path d="M234 219l0 4 3 1 1-4-1-1zM185 302l2 0 2-5-1-2-4 1-2 2z" fill="#b7d"/>
<path d="M240 225l2-1-1-3-1 0-1-1zM232 219l-1 6-1 0 0-6zM232 226l2 4 3 1 0-6zM209 296l1-6-5 2 0 2 2 4zM194 304l-4 1-3-3 2-5 6 2 1 2 0 1zM209 296l6-1 0 5-5 3-3-4 0-1zM217 294l5 4 0 2-4 2-3-2 0-5zM210 303l5-3 3 2-1 7-2 0-4-1 0-1z" fill="#a7d"/>
<path d="M244 219l-1 0-2 2 1 3 1 1 3-2 0-1z" fill="#e52"/>
<path d="M246 222l0 1 5 2 1-1-2-4-2 0zM244 227l7-1-1 4-4-1-2-1z" fill="#e51"/>
<path d="M257 220l-1 4-1-4zM257 220l-1 4 0 1 2-1 2-3-1-1-1 0zM259 236l-2-4 0-1 2-1 6 0 0 3-3 2z" fill="#e71"/>
<path d="M265 220l0 2-3 1-1-2 3-3zM197 312l-3-3-3 2-1 1 4 2 2-2zM190 312l4 2 0 5-8 0-1-6 0-1z" fill="#e72"/>
<path d="M172 224l0 3 4 1 2 0-1-3-1-1zM219 275l-6 0 0-5 5 2z" fill="#e65"/>
<path d="M184 227l-1 0 1-3 1-2 4 1 1 5zM194 223l-2 4 4 1 2-2 0-1-3-2zM190 228l2-1 4 1 0 2-2 2-4 0zM255 272l-4-4-2-1-2 1 0 1 6 5zM214 351l5 5 0 4-3 1-3-1 0-2zM213 360l-5 2 1 4 6 2 1 0 0-7z" fill="#c7c"/>
<path d="M190 222l-1 1 1 5 2-1 2-4-2-1zM184 227l6 1 0 4-6 1zM246 247l-1 1-5-3 0-3 3-1 3 3zM246 247l-1 1-1 1 4 4 1-5zM253 250l2-3-3-2-2 3 1 2zM244 249l-2 2 1 5 5-1 0-2zM251 250l0 6-3-1 0-2 1-5 1 0zM244 277l1-2 0-2-5-1-1 1 4 4zM253 274l-6-5-2 4 0 2 7 2zM246 281l6 0 0-4-7-2-1 2z" fill="#c6c"/>
<path d="M203 221l-3 2 5 4 2-1 0-2zM229 273l1 2 4 3 2-1 1-4-1-1z" fill="#56d"/>
<path d="M207 224l0 2 2 2 4 0 1-1 0-1-2-3-4 0zM212 221l0 2 2 3 2-2 0-3zM246 325l-7 1 1 4 6 2 1-1z" fill="#c5d"/>
<path d="M220 224l-4 0-2 2 0 1 4 2 3 0 0-4z" fill="#7d9"/>
<path d="M221 223l3-1 3 4-6-1-1-1zM221 225l0 4 2 2 1 0 3-1 0-4z" fill="#6d9"/>
<path d="M237 225l0-1 1-4 1 0 1 5zM209 296l6-1 2-1-2-2-5-2z" fill="#a8d"/>
<path d="M244 227l7-1 0-1-5-2-3 2zM185 351l0-2-4 0-5 2 1 3 7-1z" fill="#e31"/>
<path d="M254 220l-1 0-1 4 4 2 0-1 0-1-1-4zM265 227l-3-1-3 4 6 0z" fill="#e81"/>
<path d="M262 223l0 2-4-1 2-3 1 0zM262 225l-4-1-2 1 0 1 1 5 2-1 3-4zM246 367l-1-2-6 1-1 3 0 2 3 2 5-5z" fill="#e82"/>
<path d="M265 222l0 5-3-1 0-1 0-2z" fill="#e61"/>
<path d="M184 227l-1 0-5 1 1 2 4 3 1 0zM179 230l-1-2-2 0-3 5 1 1 1 1 3 0z" fill="#e64"/>
<path d="M200 223l5 4-2 4-5-5 0-1zM231 248l2 4-3 1-3-3-1-2 2-1zM180 279l-2-5 3-2 1 0 3 3-2 5z" fill="#44d"/>
<path d="M205 227l2-1 2 2-2 6-4-3z" fill="#66e"/>
<path d="M218 229l-4-2-1 1 0 4 4 1z" fill="#c4e"/>
<path d="M218 229l-1 4 2 2 4-4-2-2z" fill="#6ca"/>
<path d="M256 226l1 5 0 1-6 1-1-3 1-4 0-1 1-1zM244 228l2 1-1 7-1 0-3-1-2-4zM251 233l-1-3-4-1-1 7 4 0z" fill="#e41"/>
<path d="M174 234l-2 2 0-3 1 0zM182 236l-4-1-3 0 0 5 3 2 3-2zM177 245l1-3-3-2-3 1 0 6 5-1zM177 245l1-3 3-2 4 3 0 1-1 3zM216 282l1 4 2 1 5 0 0-4-5-3zM231 288l-1 1-5-1-1-1 0-4 2-2 1 0 5 5zM241 304l4 5-2 5-7-1 0-3z" fill="#e7a"/>
<path d="M182 236l-4-1 1-5 4 3z" fill="#e55"/>
<path d="M184 233l-1 0-1 3 4 1 4-1 0-4zM191 238l5-3-2-3-4 0 0 4z" fill="#9d7"/>
<path d="M196 230l4 4-1 2-3-1-2-3zM204 239l-4-2-1-1 1-2 3-3 4 3 1 1z" fill="#7c8"/>
<path d="M210 236l-2-1-1-1 2-6 4 0 0 4-2 3z" fill="#c4d"/>
<path d="M216 238l3-2 0-1-2-2-4-1-2 3zM212 242l-2-6-2-1-4 4 1 2 1 1zM212 242l-2-6 1-1 5 3-1 4-3 1zM235 302l-3-1-3 0-3 2 2 4 1 0 4 0z" fill="#c9b"/>
<path d="M224 231l-1 0-4 4 0 1 1 1 4 1 1-2zM239 242l-4 2-4-2 0-1 1-3 2 0 2 0zM224 247l2 1 2-1 3-5 0-1-6-1-2 2zM232 327l0 1-3 0-1-8 4-1 1 1z" fill="#d6c"/>
<path d="M230 232l-3-2-3 1 1 5 5 0zM220 241l0-4 4 1 1 2-2 2zM215 288l2-2-1-4-2 0-1 0-1 5zM215 292l-5-2 0-1 2-2 3 1z" fill="#d6b"/>
<path d="M230 232l4-2 3 1-3 7-2 0-2-2zM237 231l-3 7 2 0 5-3-2-4zM259 236l-2-4-6 1-2 3 1 2 5 1zM241 235l-5 3 3 4 1 0 3-1 1-5zM265 243l0-3-2 2zM259 247l-4-4 6-3 1 1zM194 262l3-2 5 1-3 4-2 1-3-3zM187 267l3 4-4 4-1 0-3-3 2-3zM197 266l0 4 5 1 1-1-1-2-3-3zM245 282l-1 5 5 0 3-5 0-1-6 0zM239 324l1-3-6-6-2 4 1 1z" fill="#d5c"/>
<path d="M265 237l-3-2 3-2zM262 241l-1-1-2-4 3-1 3 2 0 3-2 2zM202 261l-5-1-1-4 6-2 1 3z" fill="#d4b"/>
<path d="M174 234l-2 2 0 5 3-1 0-5zM241 304l-5 6-3-3 2-5 3-1 3 2z" fill="#e8a"/>
<path d="M186 237l-4-1-1 4 4 3 2-2zM190 240l-3 1-1-4 4-1 1 2zM196 235l-5 3 4 4 2 0 3-5-1-1zM190 240l-1 4-4 0 0-1 2-2z" fill="#9d6"/>
<path d="M205 241l-1-2-4-2-3 5 2 2z" fill="#6c7"/>
<path d="M217 243l-2-1 1-4 3-2 1 1 0 4z" fill="#d9b"/>
<path d="M230 236l2 2-1 3-6-1-1-2 1-2zM212 287l1-5-5 1 0 4 2 2z" fill="#d7c"/>
<path d="M246 244l-3-3 1-5 1 0 4 0 1 2 0 4z" fill="#e3c"/>
<path d="M255 243l-3 1-2-2 0-4 5 1z" fill="#d3c"/>
<path d="M255 243l6-3-2-4-4 3zM220 248l4-1-1-5-3-1-3 2 1 3zM205 264l3 2-2 3-3 1-1-2zM215 292l2 2 1-2 1-5-2-1-2 2zM234 315l6 6 4-3 0-2-1-2-7-1z" fill="#d5b"/>
<path d="M190 240l-1 4 3 2 3-4-4-4z" fill="#8d5"/>
<path d="M199 244l-2-2-2 0-3 4 0 2 7 1 1-2zM180 254l4 1 4-4-2-1-7 3zM187 267l-3 2-4-5 1-2z" fill="#10d"/>
<path d="M205 246l-5 1-1-3 6-3 1 1z" fill="#6c8"/>
<path d="M212 242l-6 0-1 4 1 2 3 0 2-1 1-4zM230 294l-1 1 0 6 3 0 1-6zM238 301l0-3-5-3-1 6 3 1z" fill="#dab"/>
<path d="M218 246l-1-3-2-1-3 1-1 4 2 2zM206 248l-1 3 3 2 2-1-1-4zM212 253l-2-1-1-4 2-1 2 2 0 1z" fill="#aab"/>
<path d="M235 247l-4 1-3-1 3-5 4 2z" fill="#45d"/>
<path d="M240 242l0 3-2 4-1 0-2-2 0-3 4-2zM245 248l-5-3-2 4 4 2 2-2zM172 277l0-4 2 1 1 1-1 2z" fill="#34d"/>
<path d="M250 248l-1 0-3-1 0-3 4-2 2 2 0 1zM247 268l-2-2-2 0-2 1-1 5 5 1 2-4z" fill="#c7d"/>
<path d="M252 245l0-1 3-1 4 4-4 0zM259 247l3-6 1 1 2 1 0 6-6-1zM265 249l-6-1-1 3 7 3 0-1zM176 298l1-7 3 0 2 1 2 4-2 2-5 1zM172 296l4 2 1 1-5 2z" fill="#d79"/>
<path d="M177 246l-5 1 0 6 1 0 6-1 0-2zM177 245l7 2-5 3-2-4zM179 250l0 2 0 1 7-3-2-3zM205 246l-5 1-1 2 0 2 3 3 3-3 1-3zM202 254l-6 2-1 0-1-2 5-3zM174 258l0-1-2 0 0 5 1-1 1-1zM182 272l-1 0-4-5 3-3 4 5zM261 322l-1 4-2 1-5-2 2-3 3-2 2 1zM221 338l6 1 2-2-3-5-6 1 0 3z" fill="#01d"/>
<path d="M184 247l1-3 4 0 3 2 0 2-1 2-2 2-1-1-2-1zM187 260l3-2-1-6-1-1-4 4 2 5zM192 258l3-2-1-2-3-4-2 2 1 6zM216 361l3-1 5 0-1 5-6 3-1 0zM220 375l5-4-8-3-1 0-1 0 0 2z" fill="#22d"/>
<path d="M199 251l0-2-7-1-1 2 3 4zM262 322l3 3 0 4-5-3 1-4z" fill="#02d"/>
<path d="M217 252l2-1 1-3-2-2-5 3 0 1z" fill="#bbc"/>
<path d="M220 248l4-1 2 1 1 2-4 5-4-4z" fill="#5d3"/>
<path d="M237 249l-2 3-2 0-2-4 4-1zM237 249l-2 3 1 3 7 1-1-5-4-2zM175 268l-3 0 0 5 2 1 1-5zM178 274l3-2-4-5-2 1 0 1zM178 274l-3 1-1-1 1-5zM172 277l2 0 0 3-2 1z" fill="#33d"/>
<path d="M259 247l-4 0-2 3 4 1 1 0 1-3zM253 250l4 1 0 3-3 3-3-1 0-6zM262 258l-5-4 0-3 1 0 7 3 0 1-2 2z" fill="#d68"/>
<path d="M172 253l1 0 1 4-2 0zM180 254l0 4-6 0 0-1-1-4 6-1 0 1zM182 261l-2-3-6 0 0 2 6 4 1-2zM182 261l-2-3 0-4 4 1 2 5zM175 268l-3 0 0-6 1-1zM255 314l-3 0-1 2 0 3 4 3 3-2z" fill="#11d"/>
<path d="M203 257l-1-3 3-3 3 2 1 4zM264 316l-4 5 1 1 1 0 3-1 0-6zM265 321l0 4-3-3zM219 332l1 1 6-1 3-4-6-2z" fill="#00d"/>
<path d="M212 253l-2-1-2 1 1 4 3-3zM217 252l-4-2-1 3 0 1 4 1zM222 291l-4 1-1 2 5 4 1-2zM224 290l2 5-3 1-1-5z" fill="#aac"/>
<path d="M217 252l2-1 4 4-4 3-2-1-1-2z" fill="#6e4"/>
<path d="M225 257l4-1 1-3-3-3-4 5z" fill="#5e4"/>
<path d="M236 255l-1-3-2 0-3 1-1 3 3 3 3-3zM176 282l4-3-2-5-3 1-1 2 0 3 1 1z" fill="#43d"/>
<path d="M265 253l0 1 0 1z" fill="#d6a"/>
<path d="M189 264l5 0 0-1 0-1-2-4-2 0-3 2z" fill="#84d"/>
<path d="M194 262l-2-4 3-2 1 0 1 4zM187 267l2-3-2-4-1 0-4 1-1 1zM187 267l3 4 2-1 2-6-5 0zM194 263l0 1-2 6 4 1 1-1 0-4z" fill="#73d"/>
<path d="M202 261l1-4 6 0 1 3-6 2zM197 276l-4 1-3-6 2-1 4 1z" fill="#d4c"/>
<path d="M216 255l1 2-3 4-1 1-3-2-1-3 3-3z" fill="#c8a"/>
<path d="M219 258l2 2-2 4-5-3 3-4z" fill="#c7b"/>
<path d="M219 258l2 2 4 1 0-4-2-2zM223 265l2-4 5 1-1 5z" fill="#e43"/>
<path d="M225 261l5 1 2-1 0-2-3-3-4 1zM172 301l0 5 4 2 2-1 0-2-1-6z" fill="#e33"/>
<path d="M236 263l-4-2 0-2 3-3 4 4-1 1zM236 263l1 4 4 0 2-1-5-5zM229 361l3 1 0 4-1 5-3 1-2-1zM220 375l5-4 1 0 2 1 0 3z" fill="#42d"/>
<path d="M243 256l-7-1-1 1 4 4 3-1z" fill="#51d"/>
<path d="M251 256l-3 5-3 2-3-4 1-3 5-1zM249 267l4-4-5-2-3 2 0 3 2 2z" fill="#93d"/>
<path d="M251 256l-3 5 5 2 3-1-2-5z" fill="#93e"/>
<path d="M260 260l-4 2-2-5 3-3 5 4zM264 266l1-6 0-1-2-2-1 1-2 2 3 6zM265 255l-2 2 2 2zM265 260l-1 6 1 0z" fill="#d39"/>
<path d="M174 260l-1 1 2 7 2-1 3-3z" fill="#10e"/>
<path d="M202 261l-3 4 3 3 3-4-1-2z" fill="#e4d"/>
<path d="M204 262l1 2 3 2 4 0 1-4-3-2zM219 268l-7-1 0-1 1-4 1-1 5 3 2 3z" fill="#d8b"/>
<path d="M221 267l2-2 2-4-4-1-2 4z" fill="#e53"/>
<path d="M236 263l-4-2-2 1-1 5 1 1 6 0 1-1z" fill="#63d"/>
<path d="M238 261l1-1 3-1 3 4 0 3-2 0z" fill="#53d"/>
<path d="M251 268l6-1-1-5-3 1-4 4z" fill="#83d"/>
<path d="M261 268l2-2-3-6-4 2 1 5 2 2 0-1z" fill="#d4a"/>
<path d="M208 272l5-2-1-3 0-1-4 0-2 3zM213 275l-1 1-4 0 0-4 5-2z" fill="#e75"/>
<path d="M218 272l-5-2-1-3 7 1zM219 276l0 4-3 2-2 0-2-6 1-1 6 0z" fill="#e66"/>
<path d="M219 276l4-6 1 0-3-3-2 1-1 4 1 3zM219 276l6 0-2-6zM224 270l5 0 0 3-4 3-2-6z" fill="#e36"/>
<path d="M255 272l-4-4 6-1 2 2-2 2z" fill="#c3a"/>
<path d="M265 275l0-4-4-3-2 0 5 8zM255 272l-2 2-1 3 7 0-2-6zM257 271l2-2 0-1 5 8 0 1-5 0zM259 277l-1 4-4 2-2-1 0-1 0-4zM259 277l5 0 1 3-3 3-4-2z" fill="#c49"/>
<path d="M265 266l-1 0-1 0-2 2 4 3zM265 275l0 5-1-3 0-1z" fill="#c4a"/>
<path d="M190 271l-4 4 5 4 2-2zM245 282l-5 0 1-3 2-2 1 0 2 4zM258 291l4 2 2 3-6 3-2-2-1-4 2-2zM261 308l-3-5 1-2 6 1 0 5-2 2zM238 334l1 2 8 1 0-1-1-4-6-2zM254 333l-3-4-4 2-1 1 1 4 8-2zM244 343l-3 0-2-7 8 1z" fill="#d5d"/>
<path d="M198 277l-1-1-1-5 1-1 5 1 1 4-3 2z" fill="#e85"/>
<path d="M203 275l4 1 1 0 0-4-2-3-3 1-1 1zM245 359l1-6-5 2 0 4 3 1z" fill="#e96"/>
<path d="M241 279l-5-2 1-4 2 0 4 4zM230 275l-1 5 5 1 0-3z" fill="#54d"/>
<path d="M177 284l-1-2 4-3 3 1 1 1-1 1z" fill="#47d"/>
<path d="M190 283l1-4-5-4-1 0-2 5 1 1 5 2zM265 296l-1 0-2-3 3-3zM259 301l6 1 0-6-1 0-6 3zM254 342l3-5-2-3-8 2 0 1z" fill="#d4d"/>
<path d="M198 277l-1-1-4 1-2 2-1 4 5 0 2-3zM188 292l-3-4 4-5 1 0 2 6 0 1zM200 287l-3 7-5-4 0-1 6-3z" fill="#4ad"/>
<path d="M198 277l2 0 3 6-1 2-5-5zM197 280l-2 3 3 3 2 1 1 0 1-2zM205 292l-2-4 5-1 2 2 0 1z" fill="#89d"/>
<path d="M200 277l3-2 4 1 0 6-4 1z" fill="#e95"/>
<path d="M208 276l4 0 2 6-1 0-5 1-1-1 0-6z" fill="#e87"/>
<path d="M219 280l0-4 6 0 1 5-2 2z" fill="#e47"/>
<path d="M229 273l-4 3 1 5 1 0 2-1 1-5zM178 305l0 2 7 4-1-6z" fill="#e35"/>
<path d="M240 282l-1 1-5-2 0-3 2-1 5 2z" fill="#65d"/>
<path d="M172 284l3-3-1-1-2 1zM182 286l3 2-3 4-2-1 2-4zM206 299l0 1-4 8 9-1-1-4-3-4zM197 312l4-3 2 4-5 2-2-3zM198 315l1 5 5-3 1-2-2-2z" fill="#48d"/>
<path d="M177 284l-1-2-1-1-3 3 0 4 2 1 2 0 1-4zM172 288l2 1-2 2zM182 287l-2 4-3 0-1-2 1-4zM185 351l6 3-1 4-5 0-1-5zM185 365l5 6-7 1 1-6zM183 372l7-1 2 1-1 3-6 0z" fill="#37d"/>
<path d="M182 286l1-4-6 2 0 1 5 2z" fill="#38e"/>
<path d="M182 286l3 2 4-5-5-2-1 1zM195 283l-5 0 2 6 6-3zM209 343l1 0-2 4-6 1-1-1 4-5zM184 353l-7 1-1 5 0 1 7 0 2-2zM172 367l1-6-1 0zM183 372l2 3-8 0 0-1 0-1z" fill="#5bd"/>
<path d="M202 285l-1 2 2 1 5-1 0-4-1-1-4 1z" fill="#79d"/>
<path d="M234 281l-5-1-2 1 5 5zM240 286l-8 0-1 2 4 2 5-3zM244 343l-3 0-4 2 1 4 6-1zM245 350l-1-2-6 1-1 3 3 1z" fill="#87d"/>
<path d="M239 283l-5-2-2 5 8 0zM240 287l-5 3 0 3 6 1 1-1 0-5z" fill="#97d"/>
<path d="M245 282l-1 5-2 1-2-1 0-1-1-3 1-1z" fill="#c6d"/>
<path d="M254 283l6 5-2 3-1 0-2-5zM251 345l-7-2 3-6 7 5z" fill="#d7b"/>
<path d="M262 283l-4-2-4 2 6 5 2-2zM265 280l-3 3 0 3 3 2zM265 288l0 2-3 3-4-2 2-3 2-2z" fill="#d7a"/>
<path d="M205 292l-2-4-2-1-1 0-3 7 8 0z" fill="#8ad"/>
<path d="M219 287l-1 5 4-1 2-1 1-2-1-1zM248 323l4 3-1 3-4 2-1-6z" fill="#e69"/>
<path d="M224 290l1-2 5 1 0 5-1 1-3 0zM255 322l-2 3-1 1-4-3 3-4z" fill="#e6a"/>
<path d="M242 288l0 5 2 1 6-1 1-1 0-1-2-4-5 0zM254 283l-2-1-3 5 2 4 4-5z" fill="#c5c"/>
<path d="M255 286l-4 5 0 1 4 1 2-2z" fill="#d8a"/>
<path d="M172 296l0-5 2-2 2 0 1 2-1 7zM177 299l5-1 3 4-1 3-6 0z" fill="#d89"/>
<path d="M188 295l-4 1-2-4 3-4 3 4z" fill="#5ad"/>
<path d="M197 294l-5-4-4 2 0 3 1 2 6 2 2-4z" fill="#a6d"/>
<path d="M235 290l0 3-2 2-3-1 0-5 1-1zM218 331l1-8 3 0 1 3-4 6z" fill="#98d"/>
<path d="M235 293l6 1-3 4-5-3z" fill="#c9a"/>
<path d="M247 301l-2-1-1-6 6-1 0 2z" fill="#e94"/>
<path d="M252 301l4-4-1-4-4-1-1 1 0 2zM241 303l4-3-1-6-2-1-1 1-3 4 0 3z" fill="#ea4"/>
<path d="M206 299l-9-4-2 4 1 2 10-1z" fill="#76d"/>
<path d="M206 300l-10 1 0 1 6 6z" fill="#66d"/>
<path d="M226 295l3 0 0 6-3 2-2-1-2-2 0-2 1-2z" fill="#aad"/>
<path d="M247 301l3-6 2 6-1 1-3 0zM184 305l1 6 0 1 5-7-3-3-2 0z" fill="#e93"/>
<path d="M252 301l4-4 2 2 1 2-1 2-5 2-2-3z" fill="#d5e"/>
<path d="M194 304l-4 1 1 6 3-2zM190 305l-5 7 5 0 1-1z" fill="#e83"/>
<path d="M197 312l-3-3 0-5 2-2 6 6-1 1z" fill="#58d"/>
<path d="M217 309l3 0 4-7-2-2-4 2zM228 312l-4 4-2-6 6-3 1 0zM234 315l-2 4-4 1-3-1-1-3 4-4zM214 340l6-4 1 2-1 5zM210 343l-2 4 1 4 5 0 2-2-5-6zM214 340l6 3 0 1-4 5-5-6zM214 351l-1 7-5-3 0-2 1-2zM208 355l-3 5 0 1 3 1 5-2 0-2zM215 370l0-2-6-2-3 2 3 5 4-1zM204 375l5 0 0-2zM213 375l-4 0 0-2 4-1zM220 375l-5-5-2 2 0 3z" fill="#c8c"/>
<path d="M226 303l2 4-6 3-2-1 4-7z" fill="#d9c"/>
<path d="M247 301l-2-1-4 3 0 1 4 5 1 0 2-7zM255 314l-3 0-4-5 5-2 3 4z" fill="#ec3"/>
<path d="M248 302l-2 7 2 0 5-2 0-2-2-3z" fill="#ed3"/>
<path d="M256 311l-3-4 0-2 5-2 3 5zM264 316l-9-2 1-3 5-3 2 1 2 6z" fill="#dd4"/>
<path d="M172 313l4 0 0-5-4-2z" fill="#e34"/>
<path d="M176 308l2-1 7 4 0 1 0 1-8 1-1-1z" fill="#e23"/>
<path d="M203 313l2 2 2-1 4-6 0-1-9 1-1 1z" fill="#47e"/>
<path d="M211 308l4 1 1 5-2 2-7-2z" fill="#7be"/>
<path d="M224 316l-4 0-4-2-1-5 2 0 3 0 2 1z" fill="#d8c"/>
<path d="M236 310l0 3-2 2-6-3 1-5 4 0zM183 331l4 0 2-4-2-3-5 4z" fill="#e79"/>
<path d="M248 309l4 5-1 2-7 0-1-2 2-5 1 0z" fill="#ec4"/>
<path d="M265 315l-2-6 2-2z" fill="#dd3"/>
<path d="M172 313l4 0 1 1 0 1-2 5 0 1-3 0zM183 320l-8 0 2-5zM216 349l6 3-3 4-5-5zM239 366l-1 3-6-3 0-4 4-1 1 0z" fill="#e03"/>
<path d="M186 320l0-1-1-6-8 1 0 1 6 5 1 1zM177 330l3 2 3-1-1-3-2-2-3 0zM172 331l2 1 3 6-5 1zM187 338l-7-2 0-4 3-1 4 0 0 2 1 4zM222 352l-3 4 0 4 5 0 3-1 0-4-5-4zM237 361l-1 0-1-8 1-1 1 0 3 1 1 2 0 4z" fill="#e02"/>
<path d="M196 312l-2 2 0 5 2 2 2-1 1 0-1-5z" fill="#57d"/>
<path d="M205 315l2-1 7 2-2 4-5 1-3-4z" fill="#cd7"/>
<path d="M214 322l3 0 3-6-4-2-2 2-2 4zM218 331l-2 0-3-7 1-2 3 0 2 1zM212 331l2 1 2-1-3-7-3 4z" fill="#bd6"/>
<path d="M219 323l-2-1 3-6 4 0 1 3-3 4z" fill="#a9d"/>
<path d="M251 316l0 3-3 4-4-5 0-2z" fill="#e5a"/>
<path d="M264 316l-9-2 3 6 2 1z" fill="#13d"/>
<path d="M172 327l0-6 3 0 1 4z" fill="#e14"/>
<path d="M177 326l3 0 4-5-1-1-8 0 0 1 1 4zM174 332l3 6 3-2 0-4-3-2z" fill="#e13"/>
<path d="M182 328l5-4-1-4-2 1-4 5zM245 365l-6 1-2-5 4-2 3 1zM238 369l-6-3-1 5 1 0 6 0zM238 371l3 2 0 2-6 0-3-4z" fill="#e04"/>
<path d="M194 327l2-6-2-2-8 0 0 1 1 4 2 3z" fill="#e78"/>
<path d="M195 328l-1-1 2-6 2-1 4 6z" fill="#14d"/>
<path d="M204 327l-2-1-4-6 1 0 5-3 3 4-1 5z" fill="#25d"/>
<path d="M206 326l1-5 5-1 2 2-1 2-3 4z" fill="#cd6"/>
<path d="M223 326l6 2-1-8-3-1-3 4z" fill="#bad"/>
<path d="M239 326l-7 1 1-7 6 4z" fill="#e6c"/>
<path d="M239 326l7-1 2-2-4-5-4 3-1 3z" fill="#e6b"/>
<path d="M172 331l2 1 3-2 0-4-1-1-4 2z" fill="#e12"/>
<path d="M195 328l-1-1-5 0-2 4 0 2 7-2 1-2zM227 359l0-4 2-2 6 0 1 8-4 1-3-1z" fill="#e01"/>
<path d="M200 333l-5-4 0-1 7-2 2 1-1 5zM203 339l2 3 4 1-2-7-2-2z" fill="#cd4"/>
<path d="M205 334l7-3-2-3-4-2-2 1-1 5zM265 338l-3-2-1 1 0 7 4 0zM261 351l4-6 0 6-3 3zM265 351l-3 3 3 2z" fill="#dd5"/>
<path d="M229 328l3 6 3-1-3-5z" fill="#85e"/>
<path d="M239 326l1 4-2 4-3-1-3-5 0-1zM232 334l-3-6-3 4 3 5 1 0z" fill="#74d"/>
<path d="M258 330l-4 3-3-4 1-3 1-1 5 2z" fill="#55b"/>
<path d="M265 329l-5-3-2 1 0 3 5 4 2-3z" fill="#66c"/>
<path d="M188 337l-1-4 7-2-2 6zM187 338l-6 4-3 0-1-4 3-2zM196 340l-8 5-1-7 1-1 4 0 4 2zM177 344l-5 0 0 6 3 0z" fill="#e00"/>
<path d="M196 339l-4-2 2-6 1-2 5 4zM196 340l0-1 4-6 3-1 2 2-2 5-6 1z" fill="#cd5"/>
<path d="M205 334l7-3 2 1-1 6-6-2z" fill="#dc6"/>
<path d="M214 340l6-4 0-3-1-1-1-1-2 0-2 1-1 6zM207 336l6 2 1 2-3 3-1 0-1 0z" fill="#dd6"/>
<path d="M235 333l-3 1-2 3 4 2 5-3-1-2z" fill="#85d"/>
<path d="M258 330l-4 3 1 1 2 3 4 0 1-1 1-2z" fill="#66b"/>
<path d="M265 331l-2 3-1 2 3 2z" fill="#56b"/>
<path d="M177 344l1-2-1-4-5 1 0 5z" fill="#e21"/>
<path d="M188 346l-2 1-5-5 6-4 1 7zM177 344l4 5-5 2-1-1zM185 349l-4 0-4-5 1-2 3 0 5 5zM197 344l0-4-1 0-8 5 0 1 3 1 2 0zM193 353l-2 1-6-3 0-2 1-2 2-1 3 1zM193 347l-2 0 2 6 3 1 0-4z" fill="#e10"/>
<path d="M197 344l0-4 6-1 2 3-4 5-1-1zM197 344l-4 3 3 3 4-4z" fill="#7bd"/>
<path d="M227 344l3 2 5-2-1-5-4-2-1 0-2 2zM239 336l2 7-4 2-2-1-1-5zM230 346l6 6-1 1-6 0 0-3z" fill="#86d"/>
<path d="M254 342l3-5 4 0 0 7-3 1z" fill="#dc5"/>
<path d="M216 349l6 3 0-1 1-2 1-4-4-1z" fill="#a5d"/>
<path d="M224 345l3-1 3 2-1 4-6-1z" fill="#a4d"/>
<path d="M236 352l1 0 1-3-1-4-2-1-5 2z" fill="#76e"/>
<path d="M251 349l-2 2-2 0-2-1-1-2 0-5 7 2z" fill="#e7c"/>
<path d="M253 350l6 0-1-5-4-3-3 3 0 4z" fill="#ed5"/>
<path d="M259 350l2 1 4-6 0-1-4 0-3 1z" fill="#dc4"/>
<path d="M176 359l-4-4 0-5 3 0 1 1 1 3zM176 360l0-1-4-4 0 6 1 0zM176 360l2 6-2 4-4-2 0-1 1-6zM176 360l7 0 3 5-1 0-1 1-6 0zM176 370l1 3 6-1 1-6-6 0z" fill="#5cd"/>
<path d="M200 346l1 1 1 1 1 4-2 2-4 1-1-1 0-4zM208 347l-6 1 1 4 5 1 1-2z" fill="#6bd"/>
<path d="M246 353l-5 2-1-2 5-3 2 1zM251 360l1-3-3-6-2 0-1 2-1 6z" fill="#ea7"/>
<path d="M253 350l2 5-3 2-3-6 2-2z" fill="#ea8"/>
<path d="M253 350l2 5 6 0 1-1-1-3-2-1z" fill="#ad4"/>
<path d="M193 353l-2 1-1 4 2 3 4-3 1-3-1-1zM190 358l2 3 0 2-6 2-3-5 2-2zM186 365l6-2 3 4 0 1-2 3-1 1-2-1-5-6zM197 375l-6 0 1-3 1-1z" fill="#38d"/>
<path d="M196 358l4 5 3-1 2-1 0-1-4-6-4 1zM200 363l-5 4 0 1 6 4 2-2zM205 369l1-1 3 5-5 2-2 0-1-3 2-2z" fill="#7cc"/>
<path d="M208 353l-5-1-2 2 4 6 3-5zM196 358l4 5-5 4-3-4 0-2zM202 375l-5 0-4-4 2-3 6 4z" fill="#6cc"/>
<path d="M255 362l-4-2 1-3 3-2 6 0-1 2zM262 363l3 0 0-7-3-2-1 1-1 2zM256 365l3 0 3-2-2-6-5 5z" fill="#bd5"/>
<path d="M200 363l3-1 2 7-2 1z" fill="#6dd"/>
<path d="M203 362l2-1 3 1 1 4-3 2-1 1z" fill="#7cd"/>
<path d="M227 359l-3 1-1 5 3 6 3-10zM217 368l6-3 3 6-1 0z" fill="#32d"/>
<path d="M248 366l3-6-6-1-1 1 1 5 1 2z" fill="#e97"/>
<path d="M256 365l-1 2-7-1 3-6 4 2z" fill="#e92"/>
<path d="M259 365l3 4 2 1 1 0 0-7-3 0zM255 372l7-3 2 1-6 4zM254 372l1 0 3 2 0 1-4 0z" fill="#3d3"/>
<path d="M172 368l4 2 1 3 0 1-5 0zM177 375l-5 0 0-1 5 0z" fill="#4cd"/>
<path d="M248 366l7 1-1 5-3 1-5-5 0-1zM251 373l-2 2 5 0 0-3z" fill="#ea3"/>
<path d="M256 365l-1 2-1 5 1 0 7-3-3-4zM258 374l0 1 7 0 0-5-1 0z" fill="#3d4"/>
<path d="M231 371l-3 1 0 3 7 0-3-4z" fill="#e05"/>
<path d="M246 368l-5 5 0 2 8 0 2-2z" fill="#eb3"/>
</g>
<g stroke="#f4f0f4" stroke-opacity="0.2" stroke-width="0.5"><path d="M199.4 332.7 192.3 340.1 179.8 342.4 173 338.7 172.6 321.2 178.9 318.2 192.9 321.6z" fill="#f04848"/><path d="M196.4 344.6 191.7 354.4 183.1 352.8 174.8 346.7 183.1 336.5 190.9 336z" fill="#f05040"/><path d="M265 321.7 262.9 328.1 257.2 327.7 251.6 324.9 252.3 316.3 255 311.6 261.8 313.2z" fill="#3040e0"/><path d="M256.1 305 252.9 311.5 247 313.7 242 310 237.8 305.4 240.6 300.6 247.4 298.1 256.3 300.8z" fill="#e0f070"/><path d="M233.5 334.9 233.1 342.3 227 343.1 224.8 341.2 222.6 335.5 223.2 327.4 227.9 325.6 231.4 328.3z" fill="#4050e8"/><path d="M246.8 350.6 244.4 357.1 235.1 360.5 225.1 353.4 226.1 346.8 232.3 343.2 240.1 344.2z" fill="#f04050"/><path d="M214.6 334.3 209.2 340.9 203.6 342 197 339 197.2 329.6 202 327.5 212.7 329.9z" fill="#e0f080"/><path d="M215 315.2 211.8 318.7 201.6 318.1 195.9 317.1 197.7 311.4 204.2 308.8 212.7 309.7z" fill="#60b0f0"/><path d="M265 346.5 262 354.6 259 356.3 249.9 353.9 249.1 349 252.5 339.6 257.7 338.7 264.4 341.6z" fill="#d0f070"/><path d="M210 256.3 203.7 265.8 185 267 172.6 263.3 172 247.1 186.8 243.8 201.9 243.4z" fill="#4848e0"/><path d="M225.2 251.1 225.2 257 220.2 260 214.9 256.1 212.9 251.7 216.6 246.2 219.6 243.9 225.7 247z" fill="#60e060"/><path d="M244.4 270.1 238.3 276.1 231.7 276.1 227.3 269.6 231 260.6 239 258.2z" fill="#7050e0"/><path d="M265 224.7 262.6 228.7 252.2 231.4 248.2 231.1 244.6 227.2 244 222.9 255.6 221.2 263.2 221.9z" fill="#f06040"/><path d="M265 245.9 264.3 252.9 249.5 255.6 244.9 251 244.6 237.8 251.8 234.9 260.6 236.1z" fill="#e060e0"/><path d="M215.6 275.9 204.5 281.4 191 280.6 181.9 275.8 195.5 268 208.7 268z" fill="#f0a080"/></g>
<rect x="172" y="79" width="93" height="142" fill="url(#nz)" opacity="0.12"/>
<rect x="172" y="221" width="93" height="154" fill="url(#nz)" opacity="0.08"/>
<rect x="275" y="8" width="94" height="367" fill="url(#nz)"/>
<g stroke="#f4f0f4" stroke-opacity="0.45" stroke-width="0.6">
<path d="M279 116l3 1 1-3 0-1-1-1-1 1-2 2zM348 259l-2 0 0-3 2 1z" fill="#15e"/>
<path d="M275 118l0 1 3-1 1-1 0-1 0-1-1 0-3 0z" fill="#13f"/>
<path d="M282 120l1-1-1-2-3-1 0 1z" fill="#16f"/>
<path d="M285 119l1-2 0-1-3-2-1 3 1 2zM281 125l0-1-2 2 1 2 2 0z" fill="#06f"/>
<path d="M313 115l0 3-4-1 0-2 3-1z" fill="#02f"/>
<path d="M315 115l-2 0 0 3 1 0z" fill="#17f"/>
<path d="M315 115l-1 3 3 1 0-1 1-1 1-2-2-1-1 0zM338 246l0 3 4-2-1-2-2 0zM328 255l3 1 1 0 0-2-1-2-3 0-1 1z" fill="#02e"/>
<path d="M277 122l-2-2 0-1 3-1 2 4z" fill="#08f"/>
<path d="M276 124l-1 0 0-4 2 2zM284 125l1-2 1 0 1 3-1 1-1 1z" fill="#15f"/>
<path d="M277 126l-1-2 1-2 3 0 1 0 0 2-2 2z" fill="#05f"/>
<path d="M284 125l1-2-1 0-3-1 0 2 0 1z" fill="#14f"/>
<path d="M314 122l-1 2 2 2 2-2 0-3zM363 167l1 2-2 2-2 0 0-4zM340 251l-2-1 0-1 4-2-1 3z" fill="#03f"/>
<path d="M304 129l1 0 1-1 1-2-2 0-1 1zM363 208l3-1-2-4-1-1-1 3 0 1z" fill="#fd4"/>
<path d="M309 124l-1 2 3 2 2-4-2-1z" fill="#26f"/>
<path d="M315 127l0-1-2-2-2 4 3 0z" fill="#07f"/>
<path d="M315 127l0-1 2-2 1 1 1 2-2 1zM367 165l0-1-3 0-1 0 0 3 4-1z" fill="#24f"/>
<path d="M332 127l-1-1-2-1 0 1 2 3zM332 127l2 0 1 0 0-2-1 0-3 1z" fill="#fc9"/>
<path d="M275 130l2-1-1-2-1 0zM286 133l2-2-2-4-1 1z" fill="#b9f"/>
<path d="M290 131l1-2-1-2-3-1-1 1 2 4zM333 207l-3 0 0-3 0-1 2 0 1 2z" fill="#fa2"/>
<path d="M291 131l3-1-1-2-2 1-1 2z" fill="#fb0"/>
<path d="M314 128l-3 0-1 2 2 1 3-1z" fill="#ff1"/>
<path d="M322 133l-3-2 1-3 3 1zM293 161l0 3-4-1 1-3z" fill="#ef2"/>
<path d="M331 129l0 1-2 0-1-2 1-2zM333 131l1 0 1 2-3 2 0-2zM322 198l-3-3-1 0-1 1 0 1 1 2 2 0zM310 204l3-1 1 1 1 3-3 0-2 0zM286 242l1 1 3 0 0-4-3 1z" fill="#eb8"/>
<path d="M347 128l-1 0-2 2 1 2 4-1zM330 164l-1 0-1 0 0-1-1-3 1 0 2 3z" fill="#f5a"/>
<path d="M275 130l0 4 1-1 2-2 0-1-1-1z" fill="#b7f"/>
<path d="M276 133l3 2 0-3-1-1zM285 134l-2-2-1 1-1 3 0 1 2 0 2 0 0-2z" fill="#a8f"/>
<path d="M278 131l0-1 5 0 0 2-1 1-3-1z" fill="#b7e"/>
<path d="M287 133l-1 0 2-2 2 0 1 0 1 2-1 0z" fill="#fd1"/>
<path d="M291 131l3-1 1 1-1 2-2 0z" fill="#fc3"/>
<path d="M316 131l-2 2-1 0-1-2 3-1z" fill="#fe1"/>
<path d="M316 131l-2 2 2 1 2 0-1-2 0-1zM363 202l1-2 4 2 0 2-4-1z" fill="#ed3"/>
<path d="M326 131l-1-2-2 0-1 4 2 0z" fill="#eca"/>
<path d="M345 132l4-1 0 3-3 0-2 0zM328 164l-2 2-2 0-1-2 1-1 4 0z" fill="#f69"/>
<path d="M349 131l0 3 1 1 2 0 0-5-1 0zM323 139l1 3-3 1 0-3zM327 141l2 3-1 2-1 0-1 0-2-1 0-3zM288 157l2 1 0 2-1 3-2-1-1-2zM334 229l0 1 2 2 1 0 1-1-2-3-1 0z" fill="#f4a"/>
<path d="M281 136l1-3-3-1 0 3 0 1z" fill="#87f"/>
<path d="M287 133l-1 0-1 1 0 1 5 2 0-1z" fill="#fb2"/>
<path d="M287 133l4 0-1 3z" fill="#fa3"/>
<path d="M294 137l0-3 3 0 1 1 0 2-2 1-1 0-1 0z" fill="#ec3"/>
<path d="M303 135l-3 4-2-2 0-2 3-1zM307 133l0 2 1 4 2-4z" fill="#fc4"/>
<path d="M312 136l0-2-5-1 3 2zM353 232l1-1 2-1 1 1-1 3-3 0z" fill="#fa6"/>
<path d="M317 138l-2-2 1-2 2 0 1 1 0 1z" fill="#fd3"/>
<path d="M324 133l-2 0 2 4 3-1 0-1zM317 202l0 1-1 4-1 0-1-3zM314 211l0 2 4 1 0-1-3-2 0-1zM292 238l1 1 2 2-3 2zM292 243l0 1-1 1-2 1-1 0-1-2 0-1 3 0zM292 243l4 1 0 1 0 1-4-2z" fill="#eb7"/>
<path d="M279 140l1-1 1-2 0-1-2 0-2 1-1 2 1 1zM353 182l2 3 0 1 2-1 1-2 0-1z" fill="#b8f"/>
<path d="M281 137l2 0 0 3-3-1z" fill="#49e"/>
<path d="M290 137l0 1 2 2 2-2 0-1zM285 143l0-1 2-2 2 2 0 1zM295 143l2-1 2 4-1 0-3 0-1-1z" fill="#f7d"/>
<path d="M294 138l1 0 0 5-1-1-2-1 0-1zM294 142l-4 2 1 1 3 0 1-2z" fill="#f4c"/>
<path d="M300 139l-2-2-2 1 2 4zM330 139l-2 1-1 1 2 3 3-1-1-3zM333 156l-2 0 0-4 4 1 0 1zM343 226l3 0 1 3 0 1-4-2z" fill="#f6c"/>
<path d="M313 139l0-3-1 0-2 4z" fill="#fe3"/>
<path d="M313 139l0-3 2 0 2 2 0 2-3 0z" fill="#fe2"/>
<path d="M323 137l-2 0-1 2 1 1 2-1z" fill="#f18"/>
<path d="M349 134l-2 4 1 1 2 0 1-1-1-3zM334 146l-1 0-3 1 1 2 3 0 0-1zM343 226l0-1 1-3 1 0 1 0 1 3-1 1z" fill="#f4b"/>
<path d="M369 140l-3 0 0-1 3-2z" fill="#f13"/>
<path d="M275 143l2 0 0-3-1-1-1 0z" fill="#7af"/>
<path d="M281 144l0-1-2-3-2 0 0 3z" fill="#69f"/>
<path d="M290 138l-3 2 2 2 3-1 0-1zM285 144l2 2 2-3-4 0z" fill="#f5e"/>
<path d="M289 143l1 1 4-2-2-1-3 1z" fill="#e6e"/>
<path d="M302 140l-2-1-2 3 3 1 0-1z" fill="#85f"/>
<path d="M302 140l-1 2 3 1-1-4zM305 147l2 0 2-2 0-1-2-1-2 1-1 1z" fill="#96f"/>
<path d="M303 139l1 0 4 0-1 4-2 1-1-1z" fill="#74f"/>
<path d="M336 144l-1-2 1-2 2 0 1 0 0 2zM319 156l3-2-2-3-2 3z" fill="#f03"/>
<path d="M341 140l-1 0-1 0 0 2 1 2 2 1 1-2zM334 148l0 1 1 3 2-1 0-3zM312 155l4-1 0 4-1 0-3-1z" fill="#f02"/>
<path d="M341 140l2 3 1 0 1-2-2-2z" fill="#f24"/>
<path d="M345 141l2-1 1 3-2 1-2-1zM363 144l-3-1-2 3 1 1 2 0 2-2z" fill="#f23"/>
<path d="M355 140l0 3-1 1-1 1-2-3 0-1 3-1zM336 238l-2-3 4 0 1 2zM335 239l4 2 1 0-1-4-3 1zM342 240l3 0-3-5-1 1z" fill="#e10"/>
<path d="M355 140l0 3 2 1 2-2-1-1-1-1zM352 146l2 3-4 1-1-1 0-2 1-1zM286 217l-1-1-4 2 4 1zM285 219l-4-1 0 1 0 2 1 1 2 0 1-2zM329 232l3 0 1 3-3 1-1-1zM351 244l-3 0 0-2 4-2 0 2zM335 245l-2 1-2 0 0-1 0-1 3-2 1 2z" fill="#f30"/>
<path d="M363 144l-3-1-1-1-1-1 3-2 1 1 1 3z" fill="#e01"/>
<path d="M281 144l3 2 1-2 0-1 0-1-2-1-2 2zM278 147l-3 3 0-4 2 0z" fill="#58f"/>
<path d="M298 142l-1 0 2 4 2 0 0-3zM292 251l1-1 2-1 0-1-3-1-2 2z" fill="#84f"/>
<path d="M312 143l1 2-2 1-2-1 0-1 2-1z" fill="#e18"/>
<path d="M319 143l-1 1 0 1-3 2 0-1 0-3z" fill="#f1c"/>
<path d="M320 143l2 3 2-1 0-3-3 1zM294 161l-2-3 2-1 1 1 0 2zM329 164l1 3-2 1-2-2 2-2z" fill="#f49"/>
<path d="M333 146l0-3-1 0-3 1-1 2 2 1zM289 152l1 1 0 1-3 1 0-2zM282 163l-1 5 4 0 0-2-1-2zM325 171l1 1 2 1 1-3-1-1-3 1z" fill="#f59"/>
<path d="M355 143l-1 1 1 1 1 0 1-1zM368 152l-2 1-1-2-1-2 1-2 4 2zM338 234l-1-2-1 0-2 3 4 0zM335 239l-1 1 0 2 1 2 4-3z" fill="#f01"/>
<path d="M359 142l1 1-2 3-2-1 1-1zM316 149l-1-1-1 1-1 3 3 0 0-2z" fill="#f00"/>
<path d="M366 142l0-1 3 2-1 1-1 1z" fill="#f04"/>
<path d="M369 145l-1-1 1-1zM322 159l-1-1-1-1-3 2 0 2 2 1zM341 236l1-1 1-1-1 0-4 0 0 1 1 2zM348 244l0-2-1-1-1-1-1 0-1 3 1 2 2 0z" fill="#f12"/>
<path d="M295 146l3 0 0 4-1 0-2-3zM292 150l1 2 1 1 3-2 0-1-2-3zM291 191l0 1-3 2 0-3z" fill="#f4d"/>
<path d="M301 146l-2 0-1 0 0 4 1 0 2-3zM277 151l0 3 2 1 1 0 1-1 0-1-3-2z" fill="#54f"/>
<path d="M301 146l3-1 1 2-2 2-2-2z" fill="#75e"/>
<path d="M305 147l2 0 2 2-3 2z" fill="#86f"/>
<path d="M315 146l-2-1-2 1-1 3 4 0 1-1 0-1zM290 196l0 1 5-1-2-3z" fill="#f3b"/>
<path d="M318 144l3 4-1 0-1 0-1-3z" fill="#f28"/>
<path d="M322 146l2-1 2 1-3 2-1-1zM330 167l-2 1 0 1 1 1 3 0 0-2zM335 224l0 4 1 0 3-1z" fill="#e69"/>
<path d="M346 149l0-2 3 0 0 2-3 2z" fill="#f42"/>
<path d="M356 149l2-2 1 0-1-1-2-1-1 0zM339 245l2 0 0-1-2-3-4 3z" fill="#f11"/>
<path d="M362 149l-1 1-3-3 1 0 2 0zM311 152l-1-3 4 0-1 3-1 0z" fill="#f22"/>
<path d="M278 147l-3 3 0 1 2 0 1 0 1-2z" fill="#6af"/>
<path d="M282 149l-3 0-1 2 3 2 2-2z" fill="#55f"/>
<path d="M306 151l3-2 1 0 1 3-3 1zM301 154l2 2-1 1-3 1 0-1 0-1zM359 221l0-1 1-3 0-1 2 0 1 3 0 1zM302 226l2-3 3 2-1 2z" fill="#d6d"/>
<path d="M324 150l2 1 1 0-3 3-1-3zM287 162l2 1-1 2-2 1-1 0-1-2z" fill="#e6b"/>
<path d="M340 151l2 1 3 0-2-2-1-1zM360 226l0 2-1 1-2 0-1-2z" fill="#d8a"/>
<path d="M346 152l3 1 1-1 0-2-1-1-3 2z" fill="#c6f"/>
<path d="M355 153l3-2-2-2-2 0 0 2z" fill="#96e"/>
<path d="M361 153l-1-1 1-2 1-1 2 0 1 2z" fill="#e37"/>
<path d="M368 152l1-3 0-1 0 1 0 3zM332 217l1 0-1 4-1 0-1-2 0-2z" fill="#f55"/>
<path d="M275 151l0 4 2-1 0-3z" fill="#56f"/>
<path d="M284 151l1 4 2 0 0-2-1-2z" fill="#78e"/>
<path d="M320 151l-2 3-2 0 0-2 0-2zM315 164l-1-1-2-2 2-1 2 2z" fill="#f25"/>
<path d="M329 157l-2-1 1-4 2-1 1 1 0 4-1 0zM295 158l4-1 0-1-1-1-4-1 0 3zM282 163l-3 1-1 1 1 2 2 1z" fill="#f7b"/>
<path d="M339 156l1 1 2-1 0-1 0-3-2-1-1 4z" fill="#d8b"/>
<path d="M342 152l0 3 3 0 1-1-1-2zM343 159l1-1-2-2-2 1 1 2zM336 208l1-3-1 0-3 0 0 2 1 1zM336 220l0 2 3 0 1-1 0-2 0-1-2-1z" fill="#e8b"/>
<path d="M345 152l1 2 2 1 1-2-3-1z" fill="#c7f"/>
<path d="M363 155l0 1-4 0-1-1 2-3 1 1z" fill="#f45"/>
<path d="M369 152l-1 0 1 1zM363 157l0-1-4 0-1 2 3 1z" fill="#f36"/>
<path d="M277 154l-2 1 0 2 1 2 3-4zM284 156l-3-2-1 1 1 3 1 1 1 0zM276 159l-1 3 1 0 2 0 1 0 0-3z" fill="#66f"/>
<path d="M292 158l-2 0 1-2 3-2 0 3zM323 159l2-1 1-2-2-2-1 0-2 4 1 1z" fill="#f48"/>
<path d="M305 155l-2 1-1 1 2 2 0 1 2-2-1-2zM302 227l-3 2-2-1 0-1 3-2 2 1z" fill="#e7e"/>
<path d="M312 154l0 1 0 2-1 1-2-1 0-2z" fill="#d5e"/>
<path d="M354 157l-1 1-3-1 2-3 3 1z" fill="#b4f"/>
<path d="M354 157l4 2-3-4z" fill="#a6f"/>
<path d="M363 155l0 1 0 1 2 2 1 0 0-3 0-2z" fill="#f37"/>
<path d="M275 157l1 2-1 3z" fill="#67f"/>
<path d="M279 162l3 0 0-3-1-1-2 1z" fill="#65f"/>
<path d="M295 160l2 2 2-1 1-1-1-2 0-1-4 1zM346 211l1 1-3 2-1-1 0-2z" fill="#f6a"/>
<path d="M299 158l1 2 1 1 3-2-2-2z" fill="#d6c"/>
<path d="M323 160l1 2 3-2-2-2-2 1zM279 172l-1 2 3 1 0-4zM332 170l0 3-2 1-2-1 1-3zM366 234l0 1-3-1-1-3 1-1 4 3zM369 241l0 1 0 2z" fill="#f5b"/>
<path d="M332 161l-3-2 0-2 1-1 3 4zM340 209l2-1-2-4-1 1zM351 206l-1 0-1 4 2 1 1 0 0-3z" fill="#e7a"/>
<path d="M336 159l3-3 1 1 1 2-1 2-2 0-1 0zM285 191l-2 2 2 3 3-1 0-1z" fill="#eab"/>
<path d="M353 158l-3-1-1 1 1 3 1 1 3-2z" fill="#84e"/>
<path d="M354 157l-1 1 1 2 1 1 1 0 1 0 1-2zM346 175l3 3 1-1 0-2-1-2-3 0-1 1z" fill="#b6f"/>
<path d="M358 159l-1 2 4 1 1-1-1-2-3-1z" fill="#e16"/>
<path d="M365 161l2 2 2-1-3-3-1 0z" fill="#f26"/>
<path d="M276 162l1 3-2 1 0-4zM340 218l2-2 1 1-1 2-2 0z" fill="#f7a"/>
<path d="M278 162l1 2-1 1-1 0-1-3z" fill="#e58"/>
<path d="M278 162l1 2 3-1 0-1-3 0z" fill="#f6b"/>
<path d="M300 160l-1 1 1 4 3-2-2-2zM349 166l3 3 1 0 0-3-1-1-2 0zM365 180l-3 3 2 1 1-1 1-1 0-2zM311 268l4-2 1 1 0 4-5-2z" fill="#dba"/>
<path d="M304 159l0 1 2 3 0 1-1 0-2-1-2-2zM367 253l1 2 0 1-3 1-1-4z" fill="#d5c"/>
<path d="M311 161l-3-1-2 3 0 1 3 1zM304 168l-1-1 2-3 1 0 0 2zM307 170l1-1-2-3-2 2 0 2 1 1z" fill="#d88"/>
<path d="M311 161l-2 4 5-2-2-2zM315 168l0-4-4 3 0 1 1 0zM318 172l0 2-3 0 1-4zM278 191l-2 1-1 0 0-3 3 0zM359 229l2 3-1 0-3-1-1-1 1-1zM369 232l-1-3 1-1z" fill="#d9a"/>
<path d="M328 163l-4 0 0-1 3-2zM339 205l1-1-1-2-1-2-2 0-1 2 1 3 1 0zM336 212l1 2 1 1 2-1 0-4-1-1-2 1-1 1zM343 213l-1 1 0 2 1 1 2 0 0-1-1-2z" fill="#f8b"/>
<path d="M332 161l-2 2 0 1 4 2 0-2 0-1zM357 207l-5 1-1-2 2-2zM343 211l0 2-1 1-2 0 0-4z" fill="#f7c"/>
<path d="M334 163l0 1 3 0 1 0 0-3-1 0zM360 266l0 4 3-1 1 0-2-3z" fill="#a8d"/>
<path d="M338 161l2 0 1 1 0 1-2 2-1-1zM368 259l1 0 0-4-1 0 0 1z" fill="#cae"/>
<path d="M343 162l2 2-1 1-3-2 0-1zM345 174l1-1-1-2-2-1-1 1-2 2 4 2zM367 262l2 3 0-3-1-1zM369 265l0 4-3-2z" fill="#cbe"/>
<path d="M350 165l2 0-1-3-1-1-3 2z" fill="#eba"/>
<path d="M356 161l0 1 1 3 3 0 1-2 0-1-4-1zM369 165l-2 0 0-1 0-1 2-1zM360 165l-3 0-1 1 1 2 3-1zM359 171l-1 3-1 0-2-2 0-1 2-2zM367 169l2 2 0 2-2 1-1-4z" fill="#00f"/>
<path d="M362 161l-1 1 0 1 2 1 1 0 0-3z" fill="#04f"/>
<path d="M365 161l2 2 0 1-3 0 0-3zM340 253l-2 2 0-1 0-4 2 1z" fill="#22e"/>
<path d="M277 165l1 0 1 2-2 1-2 0 0-2z" fill="#e7c"/>
<path d="M289 163l4 1-1 4-3-1-1-2zM363 197l-2 1-1 3 3 1 1-2 1-1z" fill="#df3"/>
<path d="M293 164l-1 4 0 1 1 0 3-1-2-3z" fill="#ff3"/>
<path d="M297 164l-3 1 2 3 2 0 1-1z" fill="#df2"/>
<path d="M309 165l2 2 0 1-1 0-2 1-2-3 0-2z" fill="#e77"/>
<path d="M314 163l1 1-4 3-2-2zM350 175l3-1 0-1-2-2-1 0-1 2zM364 180l1 0-3 3-1 0-1-4z" fill="#ecc"/>
<path d="M319 168l1-3-5-1 0 4 1 1zM357 174l1 0 2 1 0 2-3-1-1-1zM366 180l3 0 0 4-3-2zM311 268l3-4 0-1-3-1-1 3z" fill="#dbb"/>
<path d="M334 164l0 2 0 1 2 1 1 0 0-4z" fill="#b8d"/>
<path d="M348 168l1-2 1-1-3-2-1 0zM358 182l-1-2 1-1 2 0 1 4-1 0-2 0z" fill="#edd"/>
<path d="M285 166l0 2 1 2 1 0 1-2-2-2z" fill="#cf2"/>
<path d="M292 168l-3-1-1 1-1 2 4 0 1-1z" fill="#ef1"/>
<path d="M296 168l2 0 1 1-4 3 0-1zM358 190l1-1 2 1-1 4-1 0-1 0-1-3z" fill="#cf5"/>
<path d="M299 167l-1 1 1 1 0 1 3 1 1-1-2-3-1-1z" fill="#d77"/>
<path d="M304 170l-1 0-2-3 2 0 1 1zM323 225l3 0 0 3-4-1 0-1z" fill="#e88"/>
<path d="M334 167l2 1 0 2-4 0 0-2zM325 256l-1 0 0 3 3-1 0-1zM335 261l2 2 1-1 1-2-4-1-1 1 0 1zM366 263l-1-5-3 3 2 2zM366 263l1-1 1-1 0-2-3-1zM328 261l-1 1 0 4 4-3-1 0zM333 266l2-5-1 0-3 3 1 2zM359 263l3 2 0 1-2 0-1-1-1-2zM323 271l2-5-1-1-2 0-1 2zM356 269l1 2 1 0 2-1 0-4-1-1z" fill="#bad"/>
<path d="M343 167l0 3-1 1-3-2-1-1 2-2zM333 186l2 0 2 3-1 1-3 0-1-2z" fill="#bae"/>
<path d="M344 166l3 2-1 2-1 1-2-1 0-3zM335 185l0 1 2 3 2 0 0-1 0-2 0-1zM339 189l-2 0-1 1 0 2 1 1 3-1zM368 259l1 0 0 3-1-1z" fill="#b9e"/>
<path d="M346 170l4 1-2-3-1 0zM285 207l3 1 1-2 0-2-1 0zM295 231l-2-1 0-1 1-2 3 0 0 1z" fill="#ecb"/>
<path d="M348 168l2 3 1 0 1-2-3-3z" fill="#ebb"/>
<path d="M357 168l-1-2-3 0 0 3 2 2 2-2zM325 177l-2-1 0-1 3-3 0 4zM325 177l-2-1 0 3 2 2 1-1 1-1z" fill="#dcb"/>
<path d="M367 166l-4 1 1 2 2 1 1-1 1 0 0-1zM369 167l0 2-1 0 0-1z" fill="#01f"/>
<path d="M291 170l0 2 0 1-3-1-2-2 1 0z" fill="#cf3"/>
<path d="M292 169l1 0 2 2 0 1 0 1-4-1 0-2z" fill="#de1"/>
<path d="M307 170l2 3 0 1-4-1 0-2z" fill="#eaa"/>
<path d="M316 169l0 1-1 4-2-1 0-3zM281 188l1 1 1 0 1-2-3-2-1 1zM287 190l-2 1-2-2 1-2 0-1 3 0 0 1 0 1zM275 196l0-4 1 0 1 3-1 0zM363 224l0-3 3 2 0 1-2 1z" fill="#d9b"/>
<path d="M322 171l0 2-3 1-1 0 0-2 1-1zM278 188l0 1-3 0 0-3 1-1 1 1zM367 221l-1 2-3-2 0-1 0-1 3 0 1 1zM369 223l-2-2 0-1 2-1zM360 226l0-2-1-2-2 0-1 1 0 3 0 1zM369 223l0 2-2 0-1-1 0-1 1-2zM321 267l1-2-2-1-2 2 1 1z" fill="#dab"/>
<path d="M332 170l0 3 1 0 2-1 1-1 0-1zM335 172l1-1 2 1 2 1-1 2-2 0z" fill="#c9e"/>
<path d="M338 172l2 1 2-2-3-2z" fill="#cad"/>
<path d="M360 171l2 0 0 1 0 2-2 1-2-1 1-3zM324 248l0 2 3 1 1-3-3-1z" fill="#03e"/>
<path d="M277 176l-2 2 0-4 2 1z" fill="#8db"/>
<path d="M277 176l1 0 2 0 1-1-3-1-1 1z" fill="#5e9"/>
<path d="M294 176l1-2 3-1 1 3-1 1zM290 180l3-3-3-1-1 0 0 3 0 1zM315 199l-2-3 4 0 0 1-2 3zM315 200l2-3 1 2-1 3zM317 202l0 1 3 2 1-2 0-1-1 0zM332 216l0-1-1-2-3 1 1 2 1 1 2 0z" fill="#fa7"/>
<path d="M301 175l-2-4-1 2 1 3zM367 174l0 1-1 1-2 0-2-2 0-2z" fill="#daa"/>
<path d="M302 178l-1-3 1-1 3 0 0 1-2 3z" fill="#dd5"/>
<path d="M319 178l-4-2 0-1 0-1 3 0 1 0 1 2zM313 184l0 1-2 1-2 0 1-3 1 0 1 0z" fill="#af7"/>
<path d="M320 176l-1-2 3-1 1 2 0 1z" fill="#ae6"/>
<path d="M329 175l1-1 2-1 1 0 1 3-1 1zM330 180l-1-1 0-3 0-1 4 2-2 3zM360 179l-2 0-1-3 3 1zM335 182l0 3 0 1-2 0-1-2 1-4 0 1zM322 265l2 0 0-3-2-1-1 0-1 2 0 1zM318 271l-2 0 0-4 1-1 1 0 1 1z" fill="#dcc"/>
<path d="M333 173l1 3 1 0 2-1-2-3zM341 179l1 0 2 2-2 1-2-1z" fill="#c9c"/>
<path d="M336 178l3-2 0-1-2 0-2 1zM322 185l-1 3-2-1zM319 187l-1 0-1 2 2 2 2 2 0-1 1-3-1-1zM309 192l-1 2 1 1 4-1-3-2zM316 193l2 2 1 0 2-2-2-2zM348 192l-1 3-3 0 3-3zM349 192l4-2-2 4-1 0-2-2z" fill="#ccc"/>
<path d="M339 176l0-1 1-2 4 2-2 1zM342 179l1-1 2 0 1 2 0 1-2 0zM335 182l4 1 1-2-2-1zM349 198l-2-3-3 0-1 1 1 1z" fill="#dcd"/>
<path d="M277 176l-2 2 0 1 0 1 3 0 0-4zM310 252l0-2 1-1 4 1-2 3-2 0zM318 252l-1-1-2-1-2 3 1 1 3-1z" fill="#6da"/>
<path d="M281 175l2 0 1 2 0 1 0 1-2 0-1 0-1-3zM303 238l-2 2-1 0-2 0 0-2 1-2 4 1zM304 238l1 2 3 1 1-1-1-3-3 0zM320 249l-3 2-2-1 1-3 1-1 2 1z" fill="#6db"/>
<path d="M287 175l2 1 0 3-5-1z" fill="#5ec"/>
<path d="M302 178l-1-3-2 1-1 1 1 2z" fill="#cd3"/>
<path d="M303 178l2-3 1 2 0 3-2 0z" fill="#ed5"/>
<path d="M306 180l3-2 0-1 0-1-3 1z" fill="#cd4"/>
<path d="M315 176l0 3-3 0 0-2 3-2zM320 183l-2 3-2-2 0-2z" fill="#bf5"/>
<path d="M320 180l3-1 0-3-3 0-1 2 0 1z" fill="#ae5"/>
<path d="M329 176l-3 0-1 1 2 2 2 0zM289 229l-1 0-2 0-1-1 0-1 1-1z" fill="#cba"/>
<path d="M336 178l3-2 2 3-1 2-2-1zM335 182l0 3 4 0 0-2z" fill="#dad"/>
<path d="M339 176l3 0 1 2-1 1-1 0zM319 223l-3 0-1-1 1-2 1 0 3 2z" fill="#d9c"/>
<path d="M345 178l1 2 3-1 0-1-3-3z" fill="#a7f"/>
<path d="M353 181l-3-4 4-1 1 4z" fill="#85d"/>
<path d="M275 180l0 4 1 0 3-3-1-1z" fill="#8ec"/>
<path d="M284 178l5 1 0 1 0 2-1 1-3-1-1-3z" fill="#5da"/>
<path d="M292 180l-2 0-1 0 0 2 1 1 4-1zM320 207l2 0-2 4-2-1 1-3z" fill="#eb5"/>
<path d="M294 177l-1 0-1 3 2 2 1 0 0-2z" fill="#f94"/>
<path d="M299 180l-4 0 0 2 5 1z" fill="#fc6"/>
<path d="M304 180l2 0 1 2-1 2-3-1-1 0z" fill="#dc4"/>
<path d="M310 183l-3-1-1-2 3-2 1 1 1 4z" fill="#cd5"/>
<path d="M316 180l-1-1-3 4 1 1 3 0 0-2z" fill="#be6"/>
<path d="M327 184l-3-2 1-1 1-1 2 3zM310 260l4-1 0-2-2 0-2 2zM319 257l-1-1-4-1 0 2 0 2 1 0zM311 262l-1-2 4-1 1 0 0 3-1 1z" fill="#caa"/>
<path d="M349 179l2 4-1 0-1 1-2-1-1-1 0-1 0-1z" fill="#b5d"/>
<path d="M349 178l0 1 2 4 2-1 0-1-3-4zM363 210l4 2 1-2-1-3-1 0-3 1zM369 219l0-4-3 1 0 3 1 1zM316 223l-1-1-2 1-1 2 1 1 1 1 2-2zM308 230l1-3-1-2-1 0-1 2-1 3 2 0zM311 229l2-3 1 1-2 4z" fill="#c7d"/>
<path d="M275 186l1-1 0-1-1 0z" fill="#8eb"/>
<path d="M280 183l-3 3-1-1 0-1 3-3z" fill="#5db"/>
<path d="M280 186l1-1 0-1-1-1-3 3z" fill="#7ec"/>
<path d="M283 183l-2 1 0 1 3 2 0-1-1-2z" fill="#7eb"/>
<path d="M283 184l2-2 3 1-1 3-3 0z" fill="#6eb"/>
<path d="M290 183l2 3-5 1 0-1 1-3 1-1zM347 225l-1-3 2-1 4 2-1 0-3 2zM356 227l-2 1-2 0-1-2 1-1 4 1z" fill="#fa5"/>
<path d="M298 187l2-4-5-1 0 3z" fill="#e85"/>
<path d="M300 183l-2 4 2 0 3-2 0-2-1 0z" fill="#f2e"/>
<path d="M318 186l-2-2-3 0 0 1 1 2z" fill="#be5"/>
<path d="M320 183l-2 3 0 1 1 0 3-2 1-1 0-1-2 0z" fill="#ae7"/>
<path d="M327 184l1-1 2-2 1 3-1 0zM348 192l2 2-1 4-2-3zM353 198l2 1 1-1 1-3-3-1-1 1zM322 258l0 3-1 0-2-1 0-3 1-1z" fill="#ddd"/>
<path d="M287 188l0-1 5-1 0 2-1 2zM291 191l0 1 1 0 3-2-3-2-1 2zM369 246l0 1-2 0-2-2 4-3 0 2z" fill="#f2b"/>
<path d="M298 187l-3-2-1 1 1 4z" fill="#e1c"/>
<path d="M300 187l3-2 1 2 0 1-1 0z" fill="#f0b"/>
<path d="M308 188l0-1-2-1-2 1 0 1 1 2 1 0z" fill="#f1b"/>
<path d="M314 188l-2 1-1-3 2-1 1 2z" fill="#bcb"/>
<path d="M322 185l1-1 2 3 0 1-3 1-1-1z" fill="#bde"/>
<path d="M330 184l1 0 1 0 1 2-1 2-2 1-1-3z" fill="#bdd"/>
<path d="M343 185l-1 4 1 0 3-2z" fill="#a7e"/>
<path d="M360 185l-2 1 1 2 2-1zM367 186l2-2 0 4-2 0-1 0zM298 265l2-2-2-3-3 3z" fill="#de6"/>
<path d="M283 193l2-2-2-2-1 0-1 1zM367 225l-1 3 2 1 1-1 0-3z" fill="#c8a"/>
<path d="M298 190l2 3 2-1-1-2-2-1z" fill="#e0b"/>
<path d="M303 188l-2 2 1 2 2 0 1-2-1-2zM304 195l-1 3-2 1-1-3z" fill="#f0c"/>
<path d="M309 192l-3-2 2-2 1 1z" fill="#f1f"/>
<path d="M312 190l-2 2-1 0 0-3 3 0z" fill="#f0a"/>
<path d="M314 188l-2 1 0 1 2 3 1-1 1-2z" fill="#aba"/>
<path d="M317 189l2 2-3 2-1-1 1-2zM311 268l4-2-1-2z" fill="#ccb"/>
<path d="M326 192l0-4-1 0-3 1-1 3 4 1zM275 232l0-4 3 1 0 1zM282 230l3-2 1 1-1 3-1 0z" fill="#8bd"/>
<path d="M326 192l0-4 3 1 0 3z" fill="#8dd"/>
<path d="M349 188l-2 2 0 1 0 1 1 0 1 0 1-4zM354 192l0 2 3 1 1-1-1-3z" fill="#cbc"/>
<path d="M350 188l-1 4 4-2-1-2zM303 265l-1 0-2 4 0 2 6-3zM311 268l0 1-2 1-2-1 0-4 1 0 2 0z" fill="#cac"/>
<path d="M353 190l1 2 3-1 1-1-3-1z" fill="#dbd"/>
<path d="M288 194l3-2 1 0 1 1-3 3-2-1z" fill="#f08"/>
<path d="M295 190l-3 2 1 1 2 3 1 0 1-1-1-4z" fill="#f39"/>
<path d="M309 192l-1 2-3 0-1-2 1-2 1 0z" fill="#f2f"/>
<path d="M326 192l3 0 0 2-3 1-1-2z" fill="#9cd"/>
<path d="M330 195l3 1 1-4-1-1zM322 198l-3-3 2-2 3 2z" fill="#8cd"/>
<path d="M337 193l-1-1-2 0-1 4 1 0 3-2z" fill="#a9e"/>
<path d="M343 195l0 1 1-1 3-3 0-1-4 0-2 2 1 2z" fill="#b8e"/>
<path d="M365 195l-1-3-3 2 2 3z" fill="#ee6"/>
<path d="M275 196l0 2 1 2 1 0 0-1-1-4zM284 198l1-2 2 2 0 2-1 1-1 0z" fill="#f81"/>
<path d="M276 195l1 0 3 0 0 3-3 1z" fill="#d79"/>
<path d="M290 197l5-1 1 0 0 1-1 1 0 1z" fill="#e2a"/>
<path d="M307 198l-2 1-2-1 1-3z" fill="#57d"/>
<path d="M310 199l3-3 0-1 0-1-4 1 0 3z" fill="#bbb"/>
<path d="M334 198l0-1 0-1-1 0-3-1 0 1 2 4z" fill="#fb3"/>
<path d="M340 199l-2 1 0-3 0-1 2 0zM340 199l-2 1 1 2 3-2-1-1zM340 209l2-1 1 0 0 3-3-1-1-1z" fill="#fab"/>
<path d="M340 199l0-3 2-1 1 0-2 4z" fill="#e9a"/>
<path d="M363 197l-2-3-1 0-1 0 1 3 1 1z" fill="#ce8"/>
<path d="M368 198l1 0 0-6 0 1-2 2z" fill="#ce6"/>
<path d="M275 198l0 3 1-1zM330 203l-1-3 3 0 1 2-1 1zM322 241l-1 1 2 3 2 0 1-1-1-3-1 0z" fill="#f61"/>
<path d="M277 199l3-1 1 0 0 2-2 2-2-2zM357 237l-3 1-1 0 0-4 3 0z" fill="#f52"/>
<path d="M281 200l1 1 3 0-1-3-1-1-2 1zM275 207l4 0 0 2-4 2 0-1z" fill="#f70"/>
<path d="M290 197l-3 1 0 2 2 0 1-1zM290 225l2-1-2-3-2 1 0 2zM299 231l-1 1-3-1 2-3 2 1z" fill="#db8"/>
<path d="M295 199l0-1 2 3 0 1-1 0-2-2zM291 204l2 3 3-1-1-2zM298 222l-1 1-1 1 1 3 3-2zM295 231l0 4 2-1 1-2z" fill="#dc9"/>
<path d="M305 199l-2-1-2 1 3 2z" fill="#66d"/>
<path d="M310 199l3 2 2-2-2-3zM320 211l-2 2-3-2 3-1zM331 213l0-2-2-2-2 2-1 2 2 1zM310 215l0-1 4-1 0 2-3 1z" fill="#ea6"/>
<path d="M317 202l1-3 2 0 0 3z" fill="#fb7"/>
<path d="M326 202l2-2-1-1-1-1-3 1 0 2 1 0z" fill="#e73"/>
<path d="M328 200l-1-1 3-3 2 4-3 0z" fill="#f82"/>
<path d="M341 199l1 1 2 0 0-3-1-1 0-1z" fill="#f9a"/>
<path d="M350 198l2 3 2 0 1-1 0-1-2-1zM345 221l0-3 0-1-2 0-1 2zM359 221l0-1-3-2-1 1 2 3 2 0z" fill="#e5b"/>
<path d="M368 198l0 3 0 1-4-2 1-1zM363 202l-3-1-1 3 3 1z" fill="#ef4"/>
<path d="M368 198l0 3 1 0 0-3z" fill="#ed2"/>
<path d="M290 199l-1 1 0 4 2 0 1-3z" fill="#cb8"/>
<path d="M292 201l-1 3 4 0 1-2-2-2zM289 229l-3-3 2-2 2 1 0 2z" fill="#cb9"/>
<path d="M304 201l-3-2-1 1 0 1 1 2z" fill="#67e"/>
<path d="M305 204l-1 1-3-1 0-1 3-2 1 2z" fill="#76e"/>
<path d="M310 204l3-1 0-2-3-2-1 4z" fill="#fb8"/>
<path d="M315 199l-2 2 0 2 1 1 3-2-2-2zM318 217l0-1 3-1 2 1-2 2zM352 223l-1 0 1 2 4 1 0-3-4-1zM300 232l1 1-2 2-2-1 1-2 1-1z" fill="#fb6"/>
<path d="M330 204l-2 0-2-2 2-2 1 0 1 3z" fill="#f73"/>
<path d="M340 204l-1-2 3-2 2 0 0 1-1 3z" fill="#e99"/>
<path d="M348 206l1-4-1-1-1 1-1 3zM357 207l-4-3 3-1 2 1zM344 207l3 2-1 2-3 0 0-3zM335 217l3-1 0 1-2 3-1-2zM344 222l-2-1 0-2 3 2 0 1z" fill="#e7b"/>
<path d="M354 201l1-1 1 1 0 2-3 1-1 0zM347 209l1-3 2 0-1 4z" fill="#f8a"/>
<path d="M368 204l0-2 0-1 1 0 0 3z" fill="#ce3"/>
<path d="M278 204l1 3 4-1 0-1-1-2-3-1z" fill="#f80"/>
<path d="M283 206l0-1 2-4 1 0 2 3-3 3z" fill="#f71"/>
<path d="M291 204l2 3-2 1-2-2 0-2zM294 226l-2-2 2-2 3 1-1 1z" fill="#dca"/>
<path d="M299 206l-1 1-2-1-1-2 1-2 1 0 2 3z" fill="#edb"/>
<path d="M305 204l-1 1 0 1 2 2 3-1z" fill="#77e"/>
<path d="M320 207l2 0 2-1 0-1-1-1-2-1-1 2z" fill="#e70"/>
<path d="M330 207l-1 1-3-2 2-2 2 0z" fill="#fa1"/>
<path d="M367 207l1-1 1-2-1 0-4-1 2 4z" fill="#ff4"/>
<path d="M310 207l0 2-3 1-1-1 0-1 3-1z" fill="#56d"/>
<path d="M315 207l0 3-1 1-2 0 0-4z" fill="#ec6"/>
<path d="M315 207l1 0 3 0-1 3-3 1 0-1z" fill="#ec7"/>
<path d="M323 210l-1-3 2-1 0 1 2 4zM328 225l2-2-1-1-3 1 0 2z" fill="#f66"/>
<path d="M336 211l1-1-1-2-2 0-1 1z" fill="#e8a"/>
<path d="M361 211l1-1-5-3-1 3 1 1z" fill="#c7c"/>
<path d="M362 210l-5-3 5-1 1 2 0 2z" fill="#ef0"/>
<path d="M367 207l1 3 1-1 0-2-1-1z" fill="#ee2"/>
<path d="M278 213l-3-2 4-2 0 4zM350 234l-1 1 0 2 3 1 1 0 0-4z" fill="#f20"/>
<path d="M281 213l-2 0 0-4 3 2zM277 217l-2 2 0-4 2 0zM281 218l0 1-1 0-3-2 0-2 4 1zM348 242l-1-1 2-4 3 1 0 2z" fill="#f40"/>
<path d="M285 211l1 0 3-1 0 1-1 3-3 0zM286 217l-1-1 0-2 3 0 1 2-2 1z" fill="#cc9"/>
<path d="M298 215l-2-1 1-4 3 1 0 1z" fill="#bb8"/>
<path d="M306 209l-3 1 1 3 2-1 1-2z" fill="#7ac"/>
<path d="M312 211l2 0 0 2-4 1-1-2 1-1z" fill="#ec8"/>
<path d="M347 209l2 1 2 1 0 1-3 2-1-2-1-1z" fill="#e6c"/>
<path d="M355 211l-3 0-1 0 0 1 1 3 3-3zM348 215l-3 1 0 1 0 1 3 0 1-2z" fill="#e6d"/>
<path d="M357 211l-1-1-1 1 0 1 0 3 1 0 2-2zM356 215l1 1 3 1 0-1-2-3z" fill="#e7d"/>
<path d="M361 211l1-1 1 0 0 3-1 2-1-2z" fill="#d9d"/>
<path d="M363 210l4 2-2 1-2 0zM369 213l0 2-1-2zM316 225l-2 2 2 1 2 0 1-2z" fill="#d8d"/>
<path d="M369 209l0 4-1 0-1-1 1-2z" fill="#d7c"/>
<path d="M277 215l-2 0 0-4 3 2z" fill="#f32"/>
<path d="M281 218l4-2 0-2-4 0 0 2zM280 219l-4 3-1-3 2-2z" fill="#f60"/>
<path d="M294 215l-1-3-3 2 1 2z" fill="#bc9"/>
<path d="M299 217l-1-2-2-1-2 1 4 3 1 0zM287 217l2-1 1 0 0 3-3 0zM294 219l-1 1 1 2 3 1 1-1 0-3z" fill="#cca"/>
<path d="M301 217l1-4-2-1-2 3 1 2z" fill="#48b"/>
<path d="M305 218l-3-1-1 0 1-4 2 0 2 3zM307 216l3-1 0-1-1-2zM275 255l0 1 2 3-1 1-1 0zM283 263l-2-2 0-1 1-2 3 1 0 2zM287 262l1-3-1-1-2 1 0 2zM280 266l-3 0-1-1 2-2 1-1 2 3z" fill="#79c"/>
<path d="M314 215l0 1 4 0 0-2-4-1zM351 230l0-1 1-1 2 0 0 3-1 1z" fill="#f96"/>
<path d="M329 216l-3 2-1-1 1-4 2 1z" fill="#fa8"/>
<path d="M352 216l0-1-1-3-3 2 0 1 1 1z" fill="#e8d"/>
<path d="M355 215l-3 1 0-1 3-3z" fill="#f8e"/>
<path d="M361 213l1 2 0 1-2 0-2-3z" fill="#d7d"/>
<path d="M363 213l2 0 0 3-3 0 0-1zM305 261l2-3 2 1-1 3zM307 269l-1-1-3-3 2-1 2 1z" fill="#c8c"/>
<path d="M294 215l-3 1-1 0 0 3 1 1 2 0 1-1z" fill="#bba"/>
<path d="M302 217l0 2-1 0-2-1 0-1 2 0z" fill="#69c"/>
<path d="M305 221l-1 1-2-3 0-2 3 1zM283 265l-2 0-2-3 2-1 2 2z" fill="#57c"/>
<path d="M307 221l-2 0 0-3 1-2 1 0 1 2 0 3z" fill="#67b"/>
<path d="M321 218l2-2 2 1-3 4z" fill="#e76"/>
<path d="M330 217l0 2-3 1-1-2 3-2zM326 228l2 1 1-3-1-1-2 0z" fill="#f76"/>
<path d="M349 219l-1-1 1-2 3 0 1 3-1 0z" fill="#f5c"/>
<path d="M281 219l0 2-3 3-2-2 4-3z" fill="#e20"/>
<path d="M288 224l0-2-1-2-2 0-1 2 1 1z" fill="#9bd"/>
<path d="M287 219l3 0 1 1-1 1-2 1-1-2z" fill="#ab8"/>
<path d="M301 219l0 2-3 1 0-3 0-1 1 0z" fill="#57b"/>
<path d="M307 221l1 3 3-2-3-1z" fill="#c6e"/>
<path d="M315 222l-2 1-2-1 1-3 2-1 2 2z" fill="#fd8"/>
<path d="M320 222l-3-2 1-3 3 1 1 3-1 1zM349 227l2-1 1-1-1-2-3 2z" fill="#f95"/>
<path d="M327 220l-1-2-1-1-3 4 3 1zM292 238l1 1 3-2-1-2-2 0-2 3zM295 235l2-1 2 1 0 1-1 2-2-1zM285 237l4-1 2 2-1 1-3 1z" fill="#ea7"/>
<path d="M329 222l-2-2-2 2 1 1z" fill="#f98"/>
<path d="M329 222l-2-2 3-1 1 2-1 2zM329 231l0 1 3 0 2-2 0-1-3-1-2 2z" fill="#f65"/>
<path d="M348 221l-2 1-1 0 0-1 0-3 3 0 1 1z" fill="#e8e"/>
<path d="M278 226l-3 1 0-5 1 0 2 2 1 1zM280 234l2-4 2 2-1 3-2 0z" fill="#8ad"/>
<path d="M285 223l-1-1-2 0 0 3 2 1z" fill="#acd"/>
<path d="M307 221l1 3 0 1-1 0-3-2 0-1 1-1z" fill="#b6d"/>
<path d="M323 225l-2-3-1 0-1 1 0 3 3 0z" fill="#d6b"/>
<path d="M328 225l2-2 2 1-1 3-2-1zM330 223l1-2 1 0 4 1-1 2-3 0zM326 228l-1 2-3 1-1-1 1-3z" fill="#f87"/>
<path d="M336 222l3 0 1 2-1 3-4-3z" fill="#d6a"/>
<path d="M282 230l-1-1 0-3 1-1 2 1 1 1 0 1z" fill="#abd"/>
<path d="M290 227l3 2 1-2 0-1-2-2-2 1z" fill="#db9"/>
<path d="M332 224l3 0 0 4-1 1-3-1 0-1zM325 230l-3 1 0 1 1 2 2 0 1-2z" fill="#f77"/>
<path d="M343 226l0-1-3-1-1 3 1 2 3-1z" fill="#e6a"/>
<path d="M348 229l3 0 1-1-1-2-2 1z" fill="#f84"/>
<path d="M288 233l1-2-1-2-2 0-1 3 2 1zM354 250l0 2-2 2-1-1 1-3z" fill="#9bc"/>
<path d="M302 227l-3 2 0 2 1 1 2-1 1-2zM308 230l3 1-3 2-1-3z" fill="#d8e"/>
<path d="M305 233l-3-2 1-2 2 1z" fill="#b7d"/>
<path d="M318 228l-2 0-1 3 1 1 2 0 1-3z" fill="#c6c"/>
<path d="M319 229l2 1 1 1 0 1-3 0-1 0z" fill="#c6b"/>
<path d="M338 231l-2-3 3-1 1 2 0 1z" fill="#e59"/>
<path d="M347 229l1 0 3 0 0 1-2 2-2-2z" fill="#f86"/>
<path d="M279 233l-1-3-3 2 0 2 1 0z" fill="#8ac"/>
<path d="M280 234l-1-1-3 1 0 1 2 0z" fill="#6cd"/>
<path d="M307 230l-2 0 0 3 0 1 3-1z" fill="#d9e"/>
<path d="M311 231l1 0 0 1 0 2-1 1-2-1-1-1zM275 244l0-3 2-1 0 3 0 1zM304 243l1-3 3 1 0 2-1 0-2 1z" fill="#6dc"/>
<path d="M315 231l-3 1 0 2 4 2 0-4zM313 242l3-1-2-3-2 0 0 2 0 1zM314 243l3 2 0 1-1 1-2-1-1-2z" fill="#bdc"/>
<path d="M323 234l-1-2-3 0 0 4 1 0z" fill="#acb"/>
<path d="M342 234l0-1-2-3-2 1-1 1 1 2zM361 243l3 0 1 2-2 2-3-4z" fill="#e4b"/>
<path d="M349 232l2-2 2 2 0 2-3 0z" fill="#f75"/>
<path d="M356 234l1-3 3 1-1 1z" fill="#c8b"/>
<path d="M369 232l-2 1-1 1 3 2z" fill="#e28"/>
<path d="M276 234l-1 0 0 2 1-1zM280 241l-2-2 0-1 3-1 1 2-1 2z" fill="#6dd"/>
<path d="M278 235l0 3 0 1-3-1 0-2 1-1z" fill="#7ed"/>
<path d="M280 234l1 1 0 2-3 1 0-3z" fill="#5de"/>
<path d="M285 237l-1-2-1 0-2 0 0 2 1 2 1 0zM303 237l-4-1 0-1 2-2 1 1z" fill="#7dc"/>
<path d="M291 238l2-3-1-1-3 1 0 1z" fill="#da6"/>
<path d="M303 238l1 0 1-1 0-3-3 0 1 3zM317 253l-3 1 0 1 4 1z" fill="#7da"/>
<path d="M305 234l3-1 1 1-1 3-3 0zM285 237l-2 2 1 3 2 0 1-2z" fill="#5dc"/>
<path d="M311 235l1-1 4 2-2 2-2 0-1-2z" fill="#adc"/>
<path d="M323 234l-3 2 0 2 1 0 2 0z" fill="#8da"/>
<path d="M323 234l0 4 1 0 2 0 0-3-1-1zM330 237l-2 2 0 1 0 1 3 0 1-1-1-2z" fill="#f21"/>
<path d="M326 235l3 0 1 1 0 1-2 2-2-1zM324 238l0 3 1 0 3-1 0-1-2-1zM333 237l1 3-2 0-1-2zM328 241l0-1-3 1 1 3 2-2z" fill="#f50"/>
<path d="M335 239l-1 1-1-3 1-2 2 3zM346 240l1 1 2-4 0-2-1 0z" fill="#e31"/>
<path d="M346 240l2-5-2 0-1 5z" fill="#f51"/>
<path d="M363 234l-1 2 1 1 3-1 0-1z" fill="#d39"/>
<path d="M369 236l-3-2 0 1 0 1 0 2 3-1z" fill="#d29"/>
<path d="M278 239l-1 1-2 1 0-3zM311 244l-1 2-2 0-1-3 1 0 2 0z" fill="#6cc"/>
<path d="M283 239l-1 0-1 2 2 1 1 0z" fill="#4dc"/>
<path d="M293 239l3-2 2 1 0 2-1 1-2 0z" fill="#eb6"/>
<path d="M308 237l1 3 3 0 0-2-1-2z" fill="#6cb"/>
<path d="M316 241l1 0 1-2-2-3-2 2zM318 239l3 3-3 1-1-2zM313 244l1 2-2 1-2-1 1-2zM319 257l-1-1-1-3 1-1 2 1 1 1-1 2z" fill="#9db"/>
<path d="M322 241l-1 1-3-3 2-1 1 0zM312 247l-2-1-2 0 0 2 2 2 1-1zM320 249l-3 2 1 1 2 1 0-3zM353 256l-1-2-1-1-2 0 1 3 1 1z" fill="#8cb"/>
<path d="M355 241l-1-3-1 0-1 0 0 2 0 2 2 0z" fill="#e00"/>
<path d="M361 243l1-4-2 0 0 4z" fill="#e3b"/>
<path d="M369 241l-3-1 0-2 3-1zM366 249l1-2-2-2-2 2-1 0 1 2 1 1zM369 251l0-4-2 0-1 2z" fill="#e4c"/>
<path d="M280 244l-3-1 0-3 1-1 2 2z" fill="#5cd"/>
<path d="M283 243l-3 1 0-3 1 0 2 1z" fill="#5cb"/>
<path d="M286 242l1 1 0 1-3 1-1-2 0-1 1 0z" fill="#5cc"/>
<path d="M292 238l0 5-2 0 0-4 1-1z" fill="#ea8"/>
<path d="M295 241l2 0 0 2-1 1-4-1z" fill="#d95"/>
<path d="M297 243l4 1-1-4-2 0-1 1z" fill="#6ec"/>
<path d="M312 241l-2 2-2 0 0-2 1-1 3 0z" fill="#4dd"/>
<path d="M313 242l1 1 3 2 1-2-1-2-1 0z" fill="#9dc"/>
<path d="M331 244l3-2 0-2-2 0-1 1zM340 241l2-1 3 0-1 3-3 1-2-3z" fill="#f31"/>
<path d="M358 243l-1-3-2 1-1 1 2 2z" fill="#f41"/>
<path d="M358 243l1 1 1-1 0-4-2-1-1 2z" fill="#e49"/>
<path d="M361 243l3 0 1-2-2-2-1 0z" fill="#d2a"/>
<path d="M365 241l1-1 3 1 0 1-4 3-1-2zM369 251l0 4-1 0-1-2z" fill="#e3a"/>
<path d="M278 248l-1-4-2 0 0 4zM336 256l2-1 1 2 0 3-4-1 0-2z" fill="#a7d"/>
<path d="M277 244l0-1 3 1 1 2-3 2z" fill="#86c"/>
<path d="M284 245l-1 2-1 0-1-1-1-2 3-1zM278 248l-1 3-2 0 0-3zM281 250l-3-2 3-2 1 1 0 3z" fill="#75c"/>
<path d="M291 245l1 2 3 1 1-2-4-2z" fill="#85e"/>
<path d="M301 247l-1 0-4-2 0-1 1-1 4 1z" fill="#4da"/>
<path d="M303 243l-2 1 0 3 1 0 2 0 1 0 0-3-1-1z" fill="#73d"/>
<path d="M305 244l2-1 1 3 0 2-3-1zM287 254l0-1 4-1 1 3 0 1-1 0-4-1z" fill="#a2e"/>
<path d="M321 242l2 3-1 1-3 1-2-1 0-1 1-2z" fill="#6c9"/>
<path d="M324 248l-1 0-1-2 1-1 2 0 0 2zM342 254l0 3-3 0-1-2 2-2zM349 268l3 0-2-3-1 0-1 0z" fill="#14e"/>
<path d="M328 242l-2 2 3 3 2-1 0-1z" fill="#f62"/>
<path d="M345 245l-2 2 2 2 2 0 0-4zM336 256l-2-2-2 0 0 2 3 1z" fill="#20e"/>
<path d="M352 246l-1-2 4 1 0 1-3 1z" fill="#7cc"/>
<path d="M358 243l1 1 0 2-3 1-1-1 0-1 1-1zM364 253l-1 0-4 0-1-1 6-2z" fill="#e5a"/>
<path d="M362 247l1 0-3-4-1 1 0 2 1 1z" fill="#d4a"/>
<path d="M282 250l1 1 2-1 0-2-2-1-1 0z" fill="#76d"/>
<path d="M288 246l-3 2 0 2 1 1 3-3 0-2z" fill="#96d"/>
<path d="M302 247l1 4-4-1 1-3 1 0z" fill="#82e"/>
<path d="M302 247l1 4 0 1 1 0 1-2-1-3zM304 247l1 3 1 0 2-2-3-1zM299 250l2 4 2-2 0-1z" fill="#81e"/>
<path d="M312 247l2-1 2 1-1 3-4-1z" fill="#7db"/>
<path d="M323 248l-1 2-2 0 0-1-1-2 3-1z" fill="#8dc"/>
<path d="M324 248l-1 0-1 2 1 1 1-1zM350 265l3-3-1 6z" fill="#14d"/>
<path d="M329 248l0-1 2-1 2 0 1 4-1 0z" fill="#13e"/>
<path d="M336 247l0 2-2 1-1-4 2-1z" fill="#20d"/>
<path d="M338 246l0 3-2 0 0-2z" fill="#12e"/>
<path d="M343 251l2-2-2-2-1 0-1 3zM327 251l1 1 3 0 2-2-4-2-1 0z" fill="#11d"/>
<path d="M350 249l-3 0 0-4 1-1 2 4zM344 252l2 2 2-1-1-4-2 0-2 2z" fill="#7bb"/>
<path d="M354 250l-2-3 0-1-2 2 0 1 2 1z" fill="#7ba"/>
<path d="M360 247l-1-1-3 1 0 2 2 1z" fill="#d3b"/>
<path d="M362 247l-2 0-2 3 5-1z" fill="#d49"/>
<path d="M275 251l0 3 3-2-1-1z" fill="#66c"/>
<path d="M278 248l3 2-1 2-1 1-1-1-1-1z" fill="#86d"/>
<path d="M283 254l0-3-1-1-1 0-1 2zM342 263l-1 0-3-1 1-2 4 0zM346 265l-2-1-2 2 1 3 2-1z" fill="#87c"/>
<path d="M291 252l-4 1-1-2 3-3 1 1 2 2z" fill="#73e"/>
<path d="M291 252l1 3 2-3-1-2-1 1zM294 252l2 1 1 0 0-3-2-1-2 1zM308 253l-1 4 3-2 1-2-1-1-2 0z" fill="#94e"/>
<path d="M300 254l-3-1 0-3 2 0 2 4z" fill="#82f"/>
<path d="M308 253l-3 0-1-1 1-2 1 0 2 2z" fill="#71e"/>
<path d="M308 252l-2-2 2-2 2 2 0 2zM300 254l-3 3 0 2 1 0 1 0 1-1 1-3 0-1z" fill="#a3e"/>
<path d="M324 250l-1 1-1 2 3 1 2-1 1-1-1-1z" fill="#02d"/>
<path d="M334 254l1-2-1-2-1 0-2 2 1 2z" fill="#11e"/>
<path d="M338 254l-3-2-1-2 2-1 2 0 0 1z" fill="#32d"/>
<path d="M344 252l-2 2-2-1 0-2 1-1 2 1zM351 258l-2 2-1-1 0-2 2-1 1 1z" fill="#23e"/>
<path d="M352 250l-1 3-2 0-1 0-1-4 3 0zM354 256l1-2-1-2-2 2 1 2z" fill="#8bb"/>
<path d="M354 250l2-1 2 1 0 2-3 2-1-2zM355 257l1 0 1 0 2-3 0-1-1-1-3 2-1 2z" fill="#9cb"/>
<path d="M363 249l1 1-6 2 0-2z" fill="#e5c"/>
<path d="M369 251l-3-2-2 1 0 3 3 0z" fill="#d5a"/>
<path d="M279 253l-1-1-3 2 0 1 0 1 2-1z" fill="#76c"/>
<path d="M279 253l-2 2 2 3 1-3z" fill="#75d"/>
<path d="M292 255l4-1 0-1-2-1z" fill="#94d"/>
<path d="M300 254l-3-1-1 0 0 1 1 3z" fill="#95d"/>
<path d="M301 254l2-2 1 0 1 1 0 3-4-1z" fill="#71d"/>
<path d="M308 253l-3 0 0 3 2 1z" fill="#a1e"/>
<path d="M311 253l2 0 1 1 0 1 0 2-2 0-2-2z" fill="#7ca"/>
<path d="M325 256l-1 0-4 0 1-2 1-1 3 1zM325 256l2 1 1-2-1-2-2 1zM355 262l0 1 0 5 1 1 3-4-1-2z" fill="#04e"/>
<path d="M338 254l-3-2-1 2 2 2 2-1z" fill="#10d"/>
<path d="M344 252l2 2-4 3 0-3z" fill="#20f"/>
<path d="M348 257l-2-1 0-2 2-1 1 0 1 3z" fill="#8cc"/>
<path d="M277 255l-2 1 2 3 2 0 0-1zM287 256l-4 1-1 1 3 1 2-1z" fill="#59c"/>
<path d="M283 257l-1-2-2 0-1 3 0 1 2 1 1-2z" fill="#88d"/>
<path d="M288 259l-1-1 0-2 0-1 4 1-1 3z" fill="#dd4"/>
<path d="M297 259l-3 1-1-1 0-2 4 0z" fill="#ee5"/>
<path d="M301 255l4 1-2 3-3-1zM310 265l1-3-3 1 0 2z" fill="#b7b"/>
<path d="M322 258l2 1 0-3-4 0zM307 265l-2-1 0-3 3 1 0 1 0 2z" fill="#bac"/>
<path d="M327 257l0 1 1 1 2 0 1-3-3-1zM356 260l0-3 1 0 2 1 0 2z" fill="#b9c"/>
<path d="M343 260l1-1-2-2-3 0 0 3zM331 264l0-1-1 0 1-3 3 0 0 1z" fill="#a8c"/>
<path d="M346 254l0 2 0 3-1 0-1 0-2-2z" fill="#99c"/>
<path d="M355 257l-2 4-2-3 0-1 2-1 1 0z" fill="#03d"/>
<path d="M359 258l-2-1 2-3 2 2 0 1 0 1z" fill="#b9d"/>
<path d="M362 261l3-3 0-1-4 0 0 1zM333 266l2 0 2-1 0-2-2-2zM335 266l1 3 3 1 1-4-3-1z" fill="#a9d"/>
<path d="M276 265l-1-2 0-2 0-1 1 0 2 3z" fill="#68c"/>
<path d="M276 260l2 3 1-1 2-1 0-1-2-1-2 0z" fill="#89d"/>
<path d="M287 262l1-3 2 0 0 1 0 2zM297 259l-3 1 0 2 1 1 3-3 0-1z" fill="#ee7"/>
<path d="M291 263l3-1 0-2-1-1-3 1 0 2z" fill="#dc6"/>
<path d="M299 259l3 2-1 2-1 0-2-3 0-1zM305 264l0-3-2 0-1 0-1 2 1 2 1 0z" fill="#b7c"/>
<path d="M300 258l3 1 0 2-1 0-3-2zM300 269l-2-4 2-2 1 0 1 2z" fill="#b8b"/>
<path d="M319 257l-4 2 0 3 1 0 1 0 2-2zM316 267l1-1-1-4-1 0-1 1 0 1 1 2z" fill="#cbb"/>
<path d="M349 260l0 1-1 1-2 0-1-3 1 0 2 0zM348 269l-3-1 1-3 2 0 1 3z" fill="#25e"/>
<path d="M353 261l0 1-4-1 0-1 2-2z" fill="#25d"/>
<path d="M275 266l1-1-1-2z" fill="#69d"/>
<path d="M287 264l0-2 3 0 1 1 0 1-3 0z" fill="#dc5"/>
<path d="M294 265l1-2 3 2-2 2z" fill="#ec5"/>
<path d="M324 265l0-3 3 0 0 4-2 0zM338 262l-1 1 0 2 3 1 1-3z" fill="#a9c"/>
<path d="M348 265l1 0-1-3-2 0-2 2 2 1z" fill="#05d"/>
<path d="M349 265l-1-3 1-1 4 1-3 3z" fill="#26e"/>
<path d="M360 262l2-1 2 2-2 2-3-2z" fill="#bbd"/>
<path d="M366 263l1-1 2 3-3 2-2-4z" fill="#cbd"/>
<path d="M276 265l-1 1 0 3 2 1 0-4z" fill="#59d"/>
<path d="M280 266l-3 0 0 4 1 2 3-2zM280 266l1 4 1 0 1-5-2 0z" fill="#5ad"/>
<path d="M288 267l0-3-1 0-2 1 1 2zM288 267l3 1 1-2-1-2-3 0z" fill="#dd6"/>
<path d="M292 266l2-1 2 2-5 3 0-2z" fill="#ef7"/>
<path d="M300 269l-2-4-2 2z" fill="#de5"/>
<path d="M325 266l2 0 2 3-6 2z" fill="#b8c"/>
<path d="M355 268l-2 0-1 0 1-6 2 1z" fill="#16e"/>
<path d="M286 267l-1 4-3-1 1-5 2 0z" fill="#7ad"/>
</g>
<g stroke="#f4f0f4" stroke-opacity="0.15" stroke-width="0.5">
<path d="M275 269l2 1 1 2-2 1-1 0zM358 325l5 1 3-6-1-2zM363 326l3-6 3 2 0 5-3 2z" fill="#c8d"/>
<path d="M288 267l3 1 0 2-4 2-2-1 1-4zM291 270l-4 2-1 4 3 1 3-1 1-4zM296 278l-4-2 1-4 2 0 1 0 1 5zM283 310l-2-6 0-1 9 0 1 1-1 5-3 2z" fill="#ad8"/>
<path d="M296 267l-1 5-2 0-2-2zM296 282l-1 1-2 1-2-1-2-6 3-1 4 2z" fill="#bd8"/>
<path d="M300 271l-4 1-1 0 1-5 4 2zM341 305l-4-3-4 3 0 3 1 1 7 0 1-1zM349 334l-3 6-1 0-5-4 0-2 2-1 6 0z" fill="#ad7"/>
<path d="M307 269l-1-1-6 3 2 1 6 0 1-2zM300 271l-4 1 1 5 5-1 0-4zM302 272l0 4 1 1 4 1 1-1 0-5zM303 277l-3 5-4 0 0-4 1-1 5-1zM350 295l-1 1-5 1-1-2 3-4 1 0zM354 292l2 2 0 6-2 2 0-1-3-6zM369 302l-1-2 1-1z" fill="#b8d"/>
<path d="M309 270l-1 2 6 3 2-4-5-2zM308 272l0 5 6 0 0-2zM318 271l-2 0-2 4 0 2 1 0 4 1 0-1 1-5zM320 272l-1 5 2 0 4-3-2-3zM348 271l3 2 1 4-1 1-6-2-1-3zM351 272l6 0-1 3-4 2-1-4zM310 282l3-1 2-4-1 0-6 0-1 1 0 3zM326 281l-5-4-2 0 0 1 1 5 2 1zM353 282l3 0 3-5-3-2-4 2-1 1 1 2zM345 284l3 4 5-5 0-1-1-2-6 3zM353 282l3 0 5 1 1 3-2 2-5 1-2-6zM362 286l-1-3 2-2 0-1 6 2 0 6-4 0zM360 288l-5 1-1 2 0 1 2 2 5 0zM358 325l7-7-1-1-2-2-3 3-1 6z" fill="#c8c"/>
<path d="M318 271l1-4 2 0 2 4-3 1zM348 269l0 2 3 2 0-1 2-4-1 0-3 0zM353 283l2 6-1 2-6-2 0-1zM364 317l1 1 1 2 3 2 0-7-1 0z" fill="#c7c"/>
<path d="M325 274l-2-3 6-2 1 3zM328 279l-3-5 5-2 3 2 0 3z" fill="#e44"/>
<path d="M334 272l-1 2-3-2-1-3 2-1 4 2z" fill="#e55"/>
<path d="M341 272l-2-2-3-1-1 1-1 2 7 1z" fill="#e7b"/>
<path d="M348 269l0 2-4 2-2-1 1-3 2-1zM275 275l1-2-1 0zM281 277l-2 4-4-3 0-3 1-2 2-1zM281 270l-3 2 3 5 4-1 1 0 1-4-2-1-3-1zM357 271l1 0 4 3-1 3-2 0-3-2 1-3zM361 283l-5-1 3-5 2 0 2 4zM369 282l0-1-1-5-1 0-4 4zM354 292l-3 3-1 0-3-4 1-2 6 2z" fill="#c9c"/>
<path d="M356 269l1 2 0 1-6 0 2-4 2 0z" fill="#d8c"/>
<path d="M363 269l1 3 0 1-2 1-4-3 2-1zM364 269l2-2 3 2 0 2-5 1-1-3z" fill="#b9c"/>
<path d="M334 278l4-2 3-3-7-1-1 2 0 3zM342 272l-1 0 0 1-3 3 4 3 2 0 1-3-1-3z" fill="#e7a"/>
<path d="M363 280l4-4-3-3-2 1-1 3 2 4zM369 276l-1 0-1 0-3-3 0-1 5-1zM328 288l-1-7-1 0-4 3 1 5 5 0zM328 288l1 0 4-3-6-4zM329 288l4 3 3 0 1-2-2-4-2 0z" fill="#cac"/>
<path d="M279 281l-4-3 0 6 4-1zM285 276l-4 1-2 4 0 2 0 1 3 0 3-3zM277 288l-2 1 0-5 4-1 0 1 0 2zM279 286l0-2 3 0 4 2-4 4zM275 293l2-1 0-4-2 1z" fill="#d99"/>
<path d="M285 276l0 5 4 3 2-1-2-6-3-1zM293 284l-2-1-2 1-3 2 3 3 3-1z" fill="#cd6"/>
<path d="M306 283l-4 1-2-2 3-5 4 1 0 3zM307 288l-3 1-2-2 0-3 4-1z" fill="#bc9"/>
<path d="M316 285l4-2-1-5-4-1-2 4zM311 288l5-1 0 5-6 1 0-4z" fill="#b7d"/>
<path d="M327 281l1-2-3-5-4 3 5 4z" fill="#e45"/>
<path d="M333 285l2 0 1-3-2-4-1-1-5 2-1 2zM328 289l0 4-1 0-6-1 1-2 1-1zM328 288l1 0 4 3-3 4-2-2 0-4z" fill="#cbc"/>
<path d="M342 279l-4-3-4 2 2 4 3 0z" fill="#e8a"/>
<path d="M344 279l2 4-1 1-4 0-2-2 3-3z" fill="#cd7"/>
<path d="M344 279l1-3 6 2 1 2-6 3z" fill="#d8d"/>
<path d="M369 281l-1-5 1 0z" fill="#b8c"/>
<path d="M289 284l-3 2-4-2 3-3z" fill="#d89"/>
<path d="M302 287l-5 2-2-6 1-1 4 0 2 2zM302 294l1-1 1-4-2-2-5 2 0 2 2 3z" fill="#ac9"/>
<path d="M311 288l-1-6-3-1-1 2 1 5 3 1zM310 289l0 4-7 0 1-4 3-1z" fill="#bca"/>
<path d="M311 288l5-1 0-2-3-4-3 1zM316 292l0-5 6 3-1 2-1 3-2 0zM304 346l-5-2-1-2 1-2 3-3 3 2 2 2-1 2-1 3z" fill="#a6d"/>
<path d="M316 285l4-2 2 1 1 5-1 1-6-3z" fill="#a7d"/>
<path d="M339 282l-3 0-1 3 2 4 2 1 0-1 2-5zM341 284l-2 5 3 0 3-5zM345 284l3 4 0 1-1 2-1 0-4-2z" fill="#cd8"/>
<path d="M277 288l0 4 3 1 3-2-1-1-3-4zM288 291l-3 1-2-1-1-1 4-4 3 3z" fill="#daa"/>
<path d="M295 291l-4 3-3-3 1-2 3-1z" fill="#bd6"/>
<path d="M295 291l-3-3 1-4 2-1 2 6 0 2z" fill="#dd6"/>
<path d="M342 289l-3 0 0 1 3 5 1 0 3-4z" fill="#cc8"/>
<path d="M362 286l3 2-2 8-2-2-1-6z" fill="#c7d"/>
<path d="M365 288l4 0 0 2-4 8-1-1-1-1zM363 296l1 1-2 1-6 2 0-6 5 0zM349 296l-5 1 1 5 3-1zM351 295l3 6-6 0 1-5 1-1zM361 305l-6 0-1-3 2-2 6-2z" fill="#a8d"/>
<path d="M275 298l5-3 0-2-3-1-2 1z" fill="#e77"/>
<path d="M283 291l2 1 1 5-3 1-3-3 0-2z" fill="#e87"/>
<path d="M291 294l-3-3-3 1 1 5 4 1 1-1zM299 294l-2-3-2 0-4 3 0 3 6 1z" fill="#d6a"/>
<path d="M302 294l2 2-1 6-6-2 0-2 2-4zM302 294l1-1 7 0 0 2-1 1-5 0z" fill="#bba"/>
<path d="M316 292l-6 1 0 2 4 2 4-2zM314 297l0 4-5 1 0-6 1-1zM318 295l2 0 0 1 0 6-4 0-2-1 0-4zM326 303l1 9-6-1-2-1 2-7zM333 308l0-3-6-2-1 0 1 9 1 1 1 0zM301 349l3-3 1 0 3 4-2 4-6-1z" fill="#a5d"/>
<path d="M320 295l0 1 5 0 2-3-6-1zM361 375l-4-4-3 1 1 3z" fill="#67d"/>
<path d="M325 296l2-3 1 0 2 2 1 2-4 4zM325 296l-5 0 0 6 1 1 5 0 1 0 0-2z" fill="#56d"/>
<path d="M331 297l5 1 0-7-3 0-3 4z" fill="#77e"/>
<path d="M336 291l1-2 2 1 3 5-6 3z" fill="#45d"/>
<path d="M368 300l1-1 0-9-4 8zM361 305l1-7 2-1 1 1 3 2-4 6-1 0z" fill="#b9d"/>
<path d="M281 303l-6-4 0 7 1 1 5-3z" fill="#e67"/>
<path d="M275 299l6 4 2-5-3-3-5 3z" fill="#e78"/>
<path d="M281 303l2-5 3-1 4 1 0 5z" fill="#e88"/>
<path d="M297 300l-3 4-3 0-1-1 0-5 1-1 6 1z" fill="#d7b"/>
<path d="M297 300l-3 4 1 1 8-3z" fill="#d7a"/>
<path d="M304 296l5 0 0 6-1 1-4 1-1-2z" fill="#bb9"/>
<path d="M327 301l0 2 6 2 4-3-1-4-5-1zM365 368l-2 7-2 0-4-4 4-4 3 0z" fill="#66d"/>
<path d="M341 305l-4-3-1-4 6-3 1 0 1 2 1 5-1 1z" fill="#44d"/>
<path d="M275 306l1 1 0 3-1 0zM281 315l4 1 3-1-1-4-4-1-2 2z" fill="#9d8"/>
<path d="M281 312l-5-2 0-3 5-3 2 6zM281 315l-3 2-2 0-1-1 1-6 5 2zM334 315l-5-2 4-5 1 1 4 6z" fill="#9d7"/>
<path d="M295 305l2 2-2 4-5-2 1-5 3 0z" fill="#e5c"/>
<path d="M303 302l1 2-2 4-5-1-2-2z" fill="#d4b"/>
<path d="M311 306l-3-3-4 1-2 4 1 4 6-3z" fill="#48d"/>
<path d="M311 306l-3-3 1-1 5-1 2 1-3 6zM326 318l2-5-1-1-6-1 0 3z" fill="#b5d"/>
<path d="M313 308l3-6 4 0 1 1-2 7-4 1z" fill="#57d"/>
<path d="M346 311l-4-3-1-3 3-2 6 5z" fill="#5d8"/>
<path d="M350 308l4-1 1-2-1-3 0-1-6 0-3 1-1 1z" fill="#6d9"/>
<path d="M361 305l-6 0-1 2 1 3 6 3 1-1 1-6zM361 313l1 2 2 2 4-2-1-4-5 1zM368 315l1 0 0-6-1 0-1 2z" fill="#bbc"/>
<path d="M363 306l-1 6 5-1 1-2-4-3z" fill="#aac"/>
<path d="M364 306l4 3 1 0 0-7-1-2z" fill="#bbd"/>
<path d="M275 316l0-6 1 0z" fill="#8d7"/>
<path d="M288 315l3 2 4-1 1-1-1-4-5-2-3 2z" fill="#d5b"/>
<path d="M303 312l-1-4-5-1-2 4 1 4 5 0zM366 329l3-2 0 5z" fill="#d5c"/>
<path d="M309 309l-6 3 5 3 3-2zM306 343l8 3 3-2-4-5-6 2zM321 348l-4-4-1 10 0 1 2 0 2-1z" fill="#49d"/>
<path d="M311 306l2 2 2 3-1 1-3 1-2-4zM316 354l-6-4 4-4 3-2z" fill="#59d"/>
<path d="M315 311l4-1 2 1 0 3-1 2-2 2-3 0-1-6zM355 323l0-6-3-2-4 2 0 4 2 2zM358 324l1-6-4-1 0 6zM350 327l0-4-2-2-2 1-1 5 3 2zM350 327l0-4 5 0 3 1 0 1-1 2-4 2z" fill="#58d"/>
<path d="M338 315l1 0 2-6-7 0z" fill="#9d6"/>
<path d="M346 311l2 6-9-2 2-6 1-1z" fill="#9d5"/>
<path d="M346 311l2 6 4-2 3-5-1-3-4 1zM355 317l-3-2 3-5 6 3 1 2-3 3zM310 334l3 2 2-1 2-2-4-4-2 0zM321 341l0 1-6-7 2-2 1 0 4 6z" fill="#6d8"/>
<path d="M275 316l1 1-1 2zM289 322l-5-2-3 1-1 2 2 3 7-3z" fill="#ca8"/>
<path d="M281 315l-3 2 3 4 3-1 1-4zM281 321l-1 2-5 2 0-6 1-2 2 0z" fill="#c98"/>
<path d="M288 315l3 2-2 5-5-2 1-4zM296 321l3 1-1 6-3 0-2-3z" fill="#5bd"/>
<path d="M295 316l1 5-7 1 2-5z" fill="#4bd"/>
<path d="M295 316l1 5 3 1 3-1-1-6-5 0zM324 331l1 1 6 1 2-3 0-2 0-1-5 0zM328 339l-3-2 0-5 6 1 1 3z" fill="#5dd"/>
<path d="M308 315l1 7-2 1-5-2-1-6 2-3zM304 330l-2 1-4-3 1-6 3-1 5 2 0 3zM365 368l4 7 0-8-4 0-1 0z" fill="#65d"/>
<path d="M311 313l-3 2 1 7 3-1 3-3-1-6zM311 329l2 0 2-5-3-3-3 1-2 1 0 3zM319 325l-4-1-3-3 3-3 3 0 3 5zM319 331l-1 2-1 0-4-4 2-5 4 1z" fill="#7cc"/>
<path d="M323 322l-2 1-3-5 2-2 6 2 0 2-1 2zM332 366l-2 6 7 2 0-8z" fill="#7cd"/>
<path d="M326 318l-6-2 1-2z" fill="#b4d"/>
<path d="M326 318l0 2 4 1 3-1 1-5-5-2-1 0z" fill="#eb5"/>
<path d="M338 323l1-1 0-7-1 0-4 0-1 5z" fill="#e92"/>
<path d="M348 321l0-4-9-2 0 7 7 0z" fill="#e72"/>
<path d="M296 321l-7 1 0 1 1 1 3 1z" fill="#5ce"/>
<path d="M324 331l-1-9 2 0 3 5zM333 327l-3-6 3-1 5 3-1 2-4 3zM324 331l-5 0 0-6 2-2 2-1z" fill="#ea5"/>
<path d="M328 327l5 0-3-6-4-1-1 2z" fill="#ea4"/>
<path d="M338 323l1-1 7 0-1 5-3 2-5-4z" fill="#e93"/>
<path d="M275 326l3 5-3 1zM280 337l-5 1 0-6 3-1 3 1zM286 332l2 6-7 0-1-1 1-5 2-1z" fill="#e66"/>
<path d="M283 331l-1-5-2-3-5 2 0 1 3 5 3 1zM362 345l7 1 0 2 0 1-5 3-2 0z" fill="#e65"/>
<path d="M286 332l2-1 2-7-1-1-7 3 1 5z" fill="#da9"/>
<path d="M293 332l2-4-2-3-3-1-2 7zM294 335l7 0 1-4-4-3-3 0-2 4z" fill="#4cd"/>
<path d="M308 334l-4-4 3-4 4 3-1 5zM339 345l-1-7 2-2 5 4-5 5zM363 375l2-7 4 7z" fill="#77d"/>
<path d="M333 328l0 2 7 4 2-1 0-4-5-4z" fill="#ad5"/>
<path d="M348 333l-6 0 0-4 3-2 3 2z" fill="#ad6"/>
<path d="M351 334l-2 0-1-1 0-4 2-2 3 2-1 4z" fill="#33d"/>
<path d="M352 333l5-1 1-2-1-3-4 2z" fill="#64d"/>
<path d="M358 325l5 1 3 3-2 4-6-3-1-3zM358 330l-1 2 1 4 5 0 1-3z" fill="#d6c"/>
<path d="M286 332l2-1 5 1 1 3-1 2-2 2-2 0-1-1zM299 340l-6-3 1-2 7 0 1 2zM344 375l-6 0 5-1z" fill="#5cd"/>
<path d="M302 337l-1-2 1-4 2-1 4 4-3 5z" fill="#87e"/>
<path d="M307 341l6-2 0-3-3-2-2 0-3 5z" fill="#76d"/>
<path d="M324 331l-5 0-1 2 4 6 3-2 0-5z" fill="#4dd"/>
<path d="M335 338l3 0 2-2 0-2-7-4-2 3 1 3z" fill="#bd7"/>
<path d="M351 334l3 5-1 1-6 1-1-1 3-6zM351 334l3 5 2-1 2-2-1-4-5 1z" fill="#53d"/>
<path d="M366 329l3 3 0 7-5-2-1-1 1-3z" fill="#d6b"/>
<path d="M275 345l5 0 2-1-1-6-1-1-5 1z" fill="#6db"/>
<path d="M281 338l1 6 2 0 5-5-1-1zM280 345l-5 0 0 5 5-2zM280 345l2-1 2 0 2 2 3 4-8 2-1-4zM275 350l5-2 1 4-6 3 0-1z" fill="#6da"/>
<path d="M289 339l2 0 1 2-6 5-2-2z" fill="#9b9"/>
<path d="M292 341l-1-2 2-2 6 3-1 2-5 1z" fill="#bcb"/>
<path d="M317 344l4-2-6-7-2 1 0 3z" fill="#7da"/>
<path d="M328 342l-2 2-5-3 1-2 3-2 3 2zM328 342l0-3 4-3 3 2-1 4-3 1z" fill="#acb"/>
<path d="M334 342l3 4 1 0 1-1-1-7-3 0zM339 345l-1 1 2 5 5 1 2-3 0-1-7-3z" fill="#78d"/>
<path d="M347 341l6-1 1 6-6 0zM355 347l-1-1-1-6 1-1 2-1 4 7z" fill="#e00"/>
<path d="M361 345l3-8-1-1-5 0-2 2 4 7z" fill="#e76"/>
<path d="M361 345l3-8 5 2 0 7-7-1zM361 345l-1 0-5 2 0 3 5 4 2-2 0-7z" fill="#e75"/>
<path d="M289 350l4-3 0-4-1-2-6 5z" fill="#aca"/>
<path d="M295 348l-2-1 0-4 5-1 1 2-1 4z" fill="#aba"/>
<path d="M298 348l1-4 5 2-3 3zM305 346l3 4 2 0 4-4-8-3z" fill="#94d"/>
<path d="M326 348l0-4-5-3 0 1-4 2 4 4zM328 351l-2-3-5 0-1 6 7-1z" fill="#9cb"/>
<path d="M328 342l-2 2 0 4 2 3 3-1 1-1-1-6zM331 343l1 6 5-3-3-4z" fill="#9ca"/>
<path d="M340 345l5-5 1 0 1 1 1 5-1 2zM338 346l-1 0-5 3-1 1 4 4 2 0 3-3z" fill="#88d"/>
<path d="M347 348l1-2 6 0 1 1 0 3-1 1-7-2z" fill="#e01"/>
<path d="M281 352l8-2 1 3-7 4zM275 355l0 7 3-3zM283 360l2 1 2 6-6 1-2-1 3-6zM285 373l1 2-5 0 2-2z" fill="#6d2"/>
<path d="M297 353l-2-5-2-1-4 3 1 3 1 2 1 0zM283 357l0 3 2 1 4-2 2-4-1-2zM303 371l-4 3-6-1 1-5 0-1 6 1z" fill="#bd1"/>
<path d="M297 353l-2-5 3 0 3 1-1 4-1 1z" fill="#ab9"/>
<path d="M315 357l-8-2-1-1 2-4 2 0 6 4 0 1z" fill="#4db"/>
<path d="M328 351l3-1 4 4-1 1-4 3-2-1-1-4z" fill="#add"/>
<path d="M340 351l-3 3 2 6 5-3 2-3-1-2zM334 359l5 1-2-6-2 0-1 1zM332 366l0-6 2-1 5 1-1 5-1 1z" fill="#6ad"/>
<path d="M345 352l1 2 5 2 0-1 3-4-7-2z" fill="#e10"/>
<path d="M358 359l2-5-5-4-1 1-3 4zM349 362l1-1 1-5-5-2-2 3 3 6zM350 361l1-5 0-1 7 4-1 4z" fill="#e73"/>
<path d="M360 354l5 4 1-2-2-4-2 0z" fill="#e12"/>
<path d="M369 354l0-5-5 3 2 4zM357 363l1-4 7 2 0 6-1 0-3 0z" fill="#e02"/>
<path d="M281 352l2 5 0 3-1 1-4-2-3-4zM287 367l-6 1 2 5 2 0 3-6z" fill="#7d2"/>
<path d="M296 360l-2 4-5-5 2-4 1 0zM294 364l0 3 0 1-6-1-1 0-2-6 4-2zM299 374l0 1-6 0 0-1 0-1z" fill="#cd2"/>
<path d="M296 360l-4-5 5-2 2 1 0 5zM288 367l6 1-1 5 0 1-8-1zM293 374l0 1-7 0-1-2z" fill="#cd1"/>
<path d="M299 359l6 1 2-5-1-1-6-1-1 1zM301 367l5-4 0-1-1-2-6-1zM306 363l7 7 1-4-3-4-5 0zM303 371l-4 3 0 1 5 0-1-3zM312 372l-4-1-5 1 1 3 8 0 1-3z" fill="#d2a"/>
<path d="M315 357l-4 5-5 0-1-2 2-5z" fill="#e2a"/>
<path d="M315 357l2 7 7-2-6-7-2 0zM315 357l-4 5 3 4 3-1 0-1zM323 375l-3-4-7 0-1 1 1 0 3 3z" fill="#4cb"/>
<path d="M327 353l1 4-4 5-6-7 2-1zM334 359l0-4-4 3 2 2z" fill="#bdd"/>
<path d="M347 363l-3-6-5 3zM347 363l-8-3-1 5 7 3 1-1z" fill="#7ad"/>
<path d="M358 359l2-5 5 4 1 1-1 2z" fill="#e04"/>
<path d="M369 354l-3 2-1 2 1 1 3 0z" fill="#e03"/>
<path d="M282 361l-3 6-3 1-1 0 0-6 3-3z" fill="#6e2"/>
<path d="M296 360l-2 4 0 3 6 1 1-1-2-8z" fill="#d3b"/>
<path d="M317 364l0 1 4 4 3-2 1-3-1-2zM313 371l0-1 1-4 3-1 4 4-1 2zM316 375l-4 0 1-3z" fill="#4ca"/>
<path d="M332 360l0 6-7-2-1-2 4-5 2 1z" fill="#9dd"/>
<path d="M349 362l4 4 0 2-7-1 1-4z" fill="#e62"/>
<path d="M349 362l1-1 7 2-4 3z" fill="#e42"/>
<path d="M369 359l0 8-4 0 0-6 1-2z" fill="#e13"/>
<path d="M283 373l-2 2-4 0-1-7 3-1 2 1z" fill="#6d3"/>
<path d="M301 367l-1 1 3 3 0 1 5-1-2-8z" fill="#d2b"/>
<path d="M313 371l0-1-7-7 2 8 4 1z" fill="#d1a"/>
<path d="M327 373l-4 2-3-4 1-2 3-2zM332 366l-7-2-1 3 3 6 2 0 1-1z" fill="#de3"/>
<path d="M337 366l1-1 7 3 0 4-2 2-5 1-1-1z" fill="#6cd"/>
<path d="M346 367l-1 1 0 4 4 1 4-1 0-4zM345 372l-2 2 1 1 5 0 0-2z" fill="#e41"/>
<path d="M353 366l4-3 4 4-4 4-3 1-1 0 0-4z" fill="#e51"/>
<path d="M275 375l0-7 1 0 1 7z" fill="#5d2"/>
<path d="M327 373l-4 2 6 0 0-2zM330 372l-1 1 0 2 9 0-1-1z" fill="#ce3"/>
<path d="M349 373l0 2 6 0-1-3-1 0z" fill="#e52"/>
</g>
<g stroke="#f4f0f4" stroke-opacity="0.2" stroke-width="0.5"><path d="M346.5 345.4 343.5 353.4 336.7 351.8 332.5 346.6 334 338.1 337.2 335.4 345.2 337.1z" fill="#f04848"/><path d="M356.8 346 354.7 356.7 350.4 359.2 346.7 352 346.7 344.7 350.5 335.1 355.7 341z" fill="#f0b080"/><path d="M309.4 323.9 308.6 327.1 304.2 331.3 297.3 328.1 296.8 324.6 297.8 318.9 304.7 317.1 308.5 320z" fill="#8070e8"/><path d="M349.9 327.1 346.4 333.3 342.8 334.3 339 328.3 342.7 323.6 348.4 322.8z" fill="#6050e8"/><path d="M349.7 303.4 347.3 307.2 343.3 307.9 340.4 305.2 340.2 300.9 344 299.3 348.3 300.3z" fill="#4040e0"/><path d="M326.5 304 324.1 310.1 319.1 310.8 316.1 307.1 315.3 302.3 320.5 297.7 324.7 301.1z" fill="#6080f0"/><path d="M294.6 321.1 292.1 324.3 279.5 326.9 277 324.3 275 317.7 283.3 316.3 291.2 316.5z" fill="#70d0f0"/><path d="M326.4 327.5 323.9 332.5 318 334.7 314.9 333.7 311.7 328 313.5 324 320.7 319.5 324.6 324z" fill="#70e0b0"/><path d="M334.6 314.8 329.8 318.8 322 319.9 318.2 317.3 317.5 312.1 323.8 308.9 331.2 309.4z" fill="#f0b060"/><path d="M345.6 237.2 340.2 244 331.6 244.4 323.4 237.1 329.5 232.2 339.2 231.6z" fill="#f04840"/><path d="M337.4 249.4 333.1 257.2 327.4 257.1 323.1 254.3 323.5 247.7 328.3 244.8 331.9 245.7z" fill="#5060e8"/><path d="M308.1 252.5 304.1 257.7 299.4 258.3 296.6 257 293.4 252.8 296.3 245.7 300.1 242.7 305.4 246.2z" fill="#9060e0"/></g>
<rect x="275" y="79" width="94" height="189" fill="url(#nz)" opacity="0.12"/>
<rect x="275" y="268" width="94" height="107" fill="url(#nz)" opacity="0.08"/>
</svg>
<svg width="550" height="441" style="position:absolute;left:0;top:0">
<defs>
<linearGradient id="iar" gradientUnits="userSpaceOnUse" x1="387.5" y1="423.6" x2="423.5" y2="412.3"><stop offset="0" stop-color="#ff0000"/><stop offset="0.7" stop-color="#ff0000"/><stop offset="1" stop-color="#000"/></linearGradient>
<linearGradient id="iag" gradientUnits="userSpaceOnUse" x1="427.1" y1="423.6" x2="417.7" y2="406.8"><stop offset="0" stop-color="#00ff00"/><stop offset="0.7" stop-color="#00ff00"/><stop offset="1" stop-color="#000"/></linearGradient>
<linearGradient id="iab" gradientUnits="userSpaceOnUse" x1="421.2" y1="404.8" x2="421.2" y2="423.6"><stop offset="0" stop-color="#0000ff"/><stop offset="0.7" stop-color="#0000ff"/><stop offset="1" stop-color="#000"/></linearGradient>
<clipPath id="iac"><path d="M387.5 423.6L421.2 404.8A39.5 39.5 0 0 1 427.1 423.6Z"/></clipPath>
</defs>
<g clip-path="url(#iac)" style="isolation:isolate">
<rect x="370" y="395" width="140" height="35" fill="#000"/>
<rect x="370" y="395" width="140" height="35" fill="url(#iar)" style="mix-blend-mode:screen"/>
<rect x="370" y="395" width="140" height="35" fill="url(#iag)" style="mix-blend-mode:screen"/>
<rect x="370" y="395" width="140" height="35" fill="url(#iab)" style="mix-blend-mode:screen"/>
</g>
<path d="M387.5 423.6L421.2 404.8A39.5 39.5 0 0 1 427.1 423.6Z" fill="none" stroke="#333" stroke-width="0.4"/>
<defs>
<linearGradient id="ibr" gradientUnits="userSpaceOnUse" x1="472.2" y1="424.4" x2="498.9" y2="420.5"><stop offset="0" stop-color="#ff0000"/><stop offset="0.7" stop-color="#ff0000"/><stop offset="1" stop-color="#000"/></linearGradient>
<linearGradient id="ibg" gradientUnits="userSpaceOnUse" x1="499.5" y1="424.4" x2="486.3" y2="410.8"><stop offset="0" stop-color="#00ff00"/><stop offset="0.7" stop-color="#00ff00"/><stop offset="1" stop-color="#000"/></linearGradient>
<linearGradient id="ibb" gradientUnits="userSpaceOnUse" x1="496.1" y1="401.3" x2="496.1" y2="424.4"><stop offset="0" stop-color="#0000ff"/><stop offset="0.7" stop-color="#0000ff"/><stop offset="1" stop-color="#000"/></linearGradient>
<clipPath id="ibc"><path d="M472.2 424.4L496.1 401.3Q501.5 411 499.5 424.4Z"/></clipPath>
</defs>
<g clip-path="url(#ibc)" style="isolation:isolate">
<rect x="370" y="395" width="140" height="35" fill="#000"/>
<rect x="370" y="395" width="140" height="35" fill="url(#ibr)" style="mix-blend-mode:screen"/>
<rect x="370" y="395" width="140" height="35" fill="url(#ibg)" style="mix-blend-mode:screen"/>
<rect x="370" y="395" width="140" height="35" fill="url(#ibb)" style="mix-blend-mode:screen"/>
</g>
<path d="M472.2 424.4L496.1 401.3Q501.5 411 499.5 424.4Z" fill="none" stroke="#333" stroke-width="0.4"/>
<text x="383.3" y="392.8" class="tt" textLength="67.4" lengthAdjust="spacingAndGlyphs">Titanium (Alpha)</text>
<text x="460.4" y="392.6" class="tt" textLength="61.8" lengthAdjust="spacingAndGlyphs">Titanium (Beta)</text>
<text x="410.1" y="403.2" class="ipf" textLength="18.4" lengthAdjust="spacing">1010</text>
<line x1="419.7" y1="397.5" x2="423.1" y2="397.5" stroke="#333" stroke-width="0.6"/>
<text x="377.3" y="432.2" class="ipf" textLength="18.3" lengthAdjust="spacing">0001</text>
<text x="419.0" y="432.2" class="ipf" textLength="19.2" lengthAdjust="spacing">2110</text>
<line x1="424.1" y1="426.5" x2="427.4" y2="426.5" stroke="#333" stroke-width="0.6"/>
<line x1="429.1" y1="426.5" x2="432.5" y2="426.5" stroke="#333" stroke-width="0.6"/>
<text x="489.7" y="400.0" class="ipf" textLength="13.3" lengthAdjust="spacing">111</text>
<text x="464.9" y="430.6" class="ipf" textLength="13.7" lengthAdjust="spacing">001</text>
<text x="494.6" y="430.6" class="ipf" textLength="11.8" lengthAdjust="spacing">101</text>
<rect x="69.9" y="361.9" width="39.7" height="13.1" fill="#fff"/>
<rect x="71.7" y="370.7" width="36.4" height="2.3" fill="#000"/>
<text x="90.4" y="367.6" class="sb">20μm</text>
<rect x="172.7" y="361.8" width="39.3" height="12.7" fill="#fff"/>
<rect x="174.4" y="369.6" width="36.3" height="2.4" fill="#000"/>
<text x="193.1" y="366.5" class="sb">20μm</text>
<rect x="275.7" y="361.9" width="39.8" height="13.3" fill="#fff"/>
<rect x="277.5" y="369.8" width="37.1" height="2.5" fill="#000"/>
<text x="296.6" y="366.7" class="sb">20μm</text>
</svg>
<div class="a red" style="left:7.5px;top:6.1px;">Surface</div>
<div class="a red" style="left:16.8px;top:351.6px;">Core</div>
<div class="a vert" style="left:23px;top:65px;font-size:21px;color:#000;word-spacing:4.5px;">Cross-sectional Direction</div>
<div class="lbl" style="left:68.4px;top:8.4px;width:30.4px;height:21.1px;"><span style="left:5.0px;top:1.6px">(a)</span></div>
<div class="lbl" style="left:171.8px;top:8.4px;width:31.1px;height:18.7px;"><span style="left:5.9px;top:0.3px">(b)</span></div>
<div class="lbl" style="left:274.7px;top:8.4px;width:30.3px;height:18.9px;"><span style="left:5.0px;top:-0.4px">(c)</span></div>
<div class="box" style="left:67px;top:375.6px;width:95.4px;height:57.6px;"><div class="h" style="top:7.6px">USP-2min</div><div class="g" style="top:23.6px">Average Grain Size:</div><div class="v" style="top:38.4px">2.88μm</div></div>
<div class="box" style="left:171.4px;top:376px;width:95.6px;height:57.4px;"><div class="h" style="top:7.6px">USP-4min</div><div class="g" style="top:23.6px">Average Grain Size:</div><div class="v" style="top:38.4px">2.70μm</div></div>
<div class="box" style="left:273.4px;top:376px;width:95.8px;height:57.4px;"><div class="h" style="top:7.6px">USP-8min</div><div class="g" style="top:23.6px">Average Grain Size:</div><div class="v" style="top:38.4px">2.06μm</div></div>
<div class="a" style="left:370.8px;top:6px;font-size:15.6px;font-weight:bold;">(d)</div>
<div class="a" style="left:370.8px;top:94.4px;font-size:15.6px;font-weight:bold;">(e)</div>
<div class="a" style="left:373.5px;top:197px;font-size:15.6px;font-weight:bold;">(f)</div>
<div class="a" style="left:373px;top:281.2px;font-size:15.6px;font-weight:bold;">(g)</div>
<div class="a vert" style="left:524px;top:21px;font-size:17px;">0~50μm</div>
<div class="a vert" style="left:524px;top:101.5px;font-size:17px;">50~100μm</div>
<div class="a vert" style="left:524px;top:194.2px;font-size:17px;">100~150μm</div>
<div class="a vert" style="left:524px;top:293.4px;font-size:17px;">150~200μm</div>
</body></html>
